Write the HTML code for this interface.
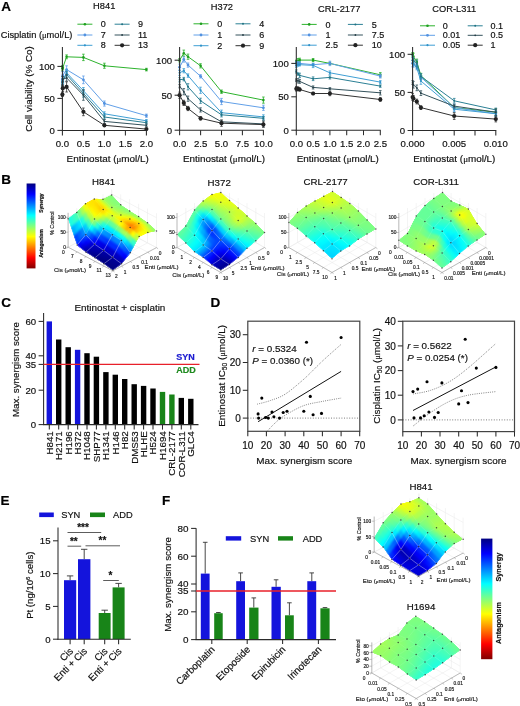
<!DOCTYPE html>
<html lang="en"><head><meta charset="utf-8"><title>Entinostat + cisplatin synergy figure</title>
<style>
html,body{margin:0;padding:0;background:#fff}
body{width:520px;height:706px;overflow:hidden}
svg{display:block;font-family:'Liberation Sans', sans-serif}
text{stroke:#111;stroke-width:.18px}
</style></head><body>
<svg width="520" height="706" viewBox="0 0 520 706" fill="#111">
<rect width="520" height="706" fill="#fff"/>
<defs><filter id="sm" x="-5%" y="-5%" width="110%" height="110%" color-interpolation-filters="sRGB"><feGaussianBlur stdDeviation="0.9"/><feComponentTransfer><feFuncA type="linear" slope="6" intercept="-2.5"/></feComponentTransfer></filter></defs>
<text x="104.2" y="8.7" text-anchor="middle" font-size="9.3">H841</text>
<line x1="77.4" y1="24.2" x2="92.4" y2="24.2" stroke="#2db32d" stroke-width="1.0"/>
<circle cx="84.9" cy="24.2" r="1.3" fill="#1f9f1f"/>
<text x="100.8" y="27.3" font-size="9">0</text>
<line x1="77.4" y1="35" x2="92.4" y2="35" stroke="#62a0e8" stroke-width="1.0"/>
<circle cx="84.9" cy="35" r="1.4" fill="#5292e0"/>
<text x="100.8" y="38.1" font-size="9">7</text>
<line x1="77.4" y1="45.3" x2="92.4" y2="45.3" stroke="#3f9fd4" stroke-width="1.0"/>
<circle cx="84.9" cy="45.3" r="1.1" fill="#3092c8"/>
<text x="100.8" y="48.4" font-size="9">8</text>
<line x1="114.6" y1="24.2" x2="129.6" y2="24.2" stroke="#2b8095" stroke-width="1.0"/>
<circle cx="122.1" cy="24.2" r="1.0" fill="#227282"/>
<text x="138" y="27.3" font-size="9">9</text>
<line x1="114.6" y1="35" x2="129.6" y2="35" stroke="#34525c" stroke-width="1.0"/>
<circle cx="122.1" cy="35" r="0.9" fill="#263e46"/>
<text x="138" y="38.1" font-size="9">11</text>
<line x1="114.6" y1="45.3" x2="129.6" y2="45.3" stroke="#333333" stroke-width="1.0"/>
<circle cx="122.1" cy="45.3" r="2.1" fill="#222222"/>
<text x="138" y="48.4" font-size="9">13</text>
<path d="M62.4 65.8V70.9M61.1 65.8h2.6M61.1 70.9h2.6" stroke="#2db32d" stroke-width="0.8" fill="none"/>
<path d="M62.8 65.8V69.6M61.5 65.8h2.6M61.5 69.6h2.6" stroke="#2db32d" stroke-width="0.8" fill="none"/>
<path d="M66.6 54.9V58.7M65.3 54.9h2.6M65.3 58.7h2.6" stroke="#2db32d" stroke-width="0.8" fill="none"/>
<path d="M83.4 54.2V60.6M82.1 54.2h2.6M82.1 60.6h2.6" stroke="#2db32d" stroke-width="0.8" fill="none"/>
<path d="M104.4 63.2V68.3M103.1 63.2h2.6M103.1 68.3h2.6" stroke="#2db32d" stroke-width="0.8" fill="none"/>
<path d="M146.4 68.3V70.9M145.1 68.3h2.6M145.1 70.9h2.6" stroke="#2db32d" stroke-width="0.8" fill="none"/>
<polyline points="62.4,68.3 62.8,67.7 66.6,56.8 83.4,57.4 104.4,65.8 146.4,69.6" fill="none" stroke="#2db32d" stroke-width="1.0"/>
<circle cx="62.4" cy="68.3" r="1.3" fill="#1f9f1f"/>
<circle cx="62.8" cy="67.7" r="1.3" fill="#1f9f1f"/>
<circle cx="66.6" cy="56.8" r="1.3" fill="#1f9f1f"/>
<circle cx="83.4" cy="57.4" r="1.3" fill="#1f9f1f"/>
<circle cx="104.4" cy="65.8" r="1.3" fill="#1f9f1f"/>
<circle cx="146.4" cy="69.6" r="1.3" fill="#1f9f1f"/>
<path d="M62.4 76.6V81.8M61.1 76.6h2.6M61.1 81.8h2.6" stroke="#62a0e8" stroke-width="0.8" fill="none"/>
<path d="M62.8 71.5V79.2M61.5 71.5h2.6M61.5 79.2h2.6" stroke="#62a0e8" stroke-width="0.8" fill="none"/>
<path d="M66.6 65.8V73.4M65.3 65.8h2.6M65.3 73.4h2.6" stroke="#62a0e8" stroke-width="0.8" fill="none"/>
<path d="M83.4 76V83.7M82.1 76h2.6M82.1 83.7h2.6" stroke="#62a0e8" stroke-width="0.8" fill="none"/>
<path d="M104.4 101V106.1M103.1 101h2.6M103.1 106.1h2.6" stroke="#62a0e8" stroke-width="0.8" fill="none"/>
<path d="M146.4 114.1V117.3M145.1 114.1h2.6M145.1 117.3h2.6" stroke="#62a0e8" stroke-width="0.8" fill="none"/>
<polyline points="62.4,79.2 62.8,75.4 66.6,69.6 83.4,79.8 104.4,103.5 146.4,115.7" fill="none" stroke="#62a0e8" stroke-width="1.0"/>
<circle cx="62.4" cy="79.2" r="1.4" fill="#5292e0"/>
<circle cx="62.8" cy="75.4" r="1.4" fill="#5292e0"/>
<circle cx="66.6" cy="69.6" r="1.4" fill="#5292e0"/>
<circle cx="83.4" cy="79.8" r="1.4" fill="#5292e0"/>
<circle cx="104.4" cy="103.5" r="1.4" fill="#5292e0"/>
<circle cx="146.4" cy="115.7" r="1.4" fill="#5292e0"/>
<path d="M62.4 80.5V84.3M61.1 80.5h2.6M61.1 84.3h2.6" stroke="#3f9fd4" stroke-width="0.8" fill="none"/>
<path d="M62.8 78.6V83.7M61.5 78.6h2.6M61.5 83.7h2.6" stroke="#3f9fd4" stroke-width="0.8" fill="none"/>
<path d="M66.6 70.2V75.4M65.3 70.2h2.6M65.3 75.4h2.6" stroke="#3f9fd4" stroke-width="0.8" fill="none"/>
<path d="M83.4 87.5V93.9M82.1 87.5h2.6M82.1 93.9h2.6" stroke="#3f9fd4" stroke-width="0.8" fill="none"/>
<path d="M104.4 111.8V115.7M103.1 111.8h2.6M103.1 115.7h2.6" stroke="#3f9fd4" stroke-width="0.8" fill="none"/>
<path d="M146.4 119.5V122.1M145.1 119.5h2.6M145.1 122.1h2.6" stroke="#3f9fd4" stroke-width="0.8" fill="none"/>
<polyline points="62.4,82.4 62.8,81.1 66.6,72.8 83.4,90.7 104.4,113.8 146.4,120.8" fill="none" stroke="#3f9fd4" stroke-width="1.0"/>
<circle cx="62.4" cy="82.4" r="1.1" fill="#3092c8"/>
<circle cx="62.8" cy="81.1" r="1.1" fill="#3092c8"/>
<circle cx="66.6" cy="72.8" r="1.1" fill="#3092c8"/>
<circle cx="83.4" cy="90.7" r="1.1" fill="#3092c8"/>
<circle cx="104.4" cy="113.8" r="1.1" fill="#3092c8"/>
<circle cx="146.4" cy="120.8" r="1.1" fill="#3092c8"/>
<path d="M62.4 82.4V86.2M61.1 82.4h2.6M61.1 86.2h2.6" stroke="#2b8095" stroke-width="0.8" fill="none"/>
<path d="M62.8 76.6V81.8M61.5 76.6h2.6M61.5 81.8h2.6" stroke="#2b8095" stroke-width="0.8" fill="none"/>
<path d="M66.6 71.5V77.9M65.3 71.5h2.6M65.3 77.9h2.6" stroke="#2b8095" stroke-width="0.8" fill="none"/>
<path d="M83.4 89.4V97.1M82.1 89.4h2.6M82.1 97.1h2.6" stroke="#2b8095" stroke-width="0.8" fill="none"/>
<path d="M104.4 115V118.9M103.1 115h2.6M103.1 118.9h2.6" stroke="#2b8095" stroke-width="0.8" fill="none"/>
<path d="M146.4 121.4V124M145.1 121.4h2.6M145.1 124h2.6" stroke="#2b8095" stroke-width="0.8" fill="none"/>
<polyline points="62.4,84.3 62.8,79.2 66.6,74.7 83.4,93.3 104.4,117 146.4,122.7" fill="none" stroke="#2b8095" stroke-width="1.0"/>
<circle cx="62.4" cy="84.3" r="1.0" fill="#227282"/>
<circle cx="62.8" cy="79.2" r="1.0" fill="#227282"/>
<circle cx="66.6" cy="74.7" r="1.0" fill="#227282"/>
<circle cx="83.4" cy="93.3" r="1.0" fill="#227282"/>
<circle cx="104.4" cy="117" r="1.0" fill="#227282"/>
<circle cx="146.4" cy="122.7" r="1.0" fill="#227282"/>
<path d="M62.4 85.6V89.4M61.1 85.6h2.6M61.1 89.4h2.6" stroke="#34525c" stroke-width="0.8" fill="none"/>
<path d="M62.8 76.6V81.8M61.5 76.6h2.6M61.5 81.8h2.6" stroke="#34525c" stroke-width="0.8" fill="none"/>
<path d="M66.6 74.7V81.1M65.3 74.7h2.6M65.3 81.1h2.6" stroke="#34525c" stroke-width="0.8" fill="none"/>
<path d="M83.4 90.1V100.3M82.1 90.1h2.6M82.1 100.3h2.6" stroke="#34525c" stroke-width="0.8" fill="none"/>
<path d="M104.4 119.5V123.4M103.1 119.5h2.6M103.1 123.4h2.6" stroke="#34525c" stroke-width="0.8" fill="none"/>
<path d="M146.4 124V126.6M145.1 124h2.6M145.1 126.6h2.6" stroke="#34525c" stroke-width="0.8" fill="none"/>
<polyline points="62.4,87.5 62.8,79.2 66.6,77.9 83.4,95.2 104.4,121.4 146.4,125.3" fill="none" stroke="#34525c" stroke-width="1.0"/>
<circle cx="62.4" cy="87.5" r="0.9" fill="#263e46"/>
<circle cx="62.8" cy="79.2" r="0.9" fill="#263e46"/>
<circle cx="66.6" cy="77.9" r="0.9" fill="#263e46"/>
<circle cx="83.4" cy="95.2" r="0.9" fill="#263e46"/>
<circle cx="104.4" cy="121.4" r="0.9" fill="#263e46"/>
<circle cx="146.4" cy="125.3" r="0.9" fill="#263e46"/>
<path d="M62.4 92.6V96.5M61.1 92.6h2.6M61.1 96.5h2.6" stroke="#333333" stroke-width="0.8" fill="none"/>
<path d="M62.8 85V91.4M61.5 85h2.6M61.5 91.4h2.6" stroke="#333333" stroke-width="0.8" fill="none"/>
<path d="M66.6 81.8V92M65.3 81.8h2.6M65.3 92h2.6" stroke="#333333" stroke-width="0.8" fill="none"/>
<path d="M83.4 108V115.7M82.1 108h2.6M82.1 115.7h2.6" stroke="#333333" stroke-width="0.8" fill="none"/>
<path d="M104.4 124V126.6M103.1 124h2.6M103.1 126.6h2.6" stroke="#333333" stroke-width="0.8" fill="none"/>
<path d="M146.4 128.5V129.8M145.1 128.5h2.6M145.1 129.8h2.6" stroke="#333333" stroke-width="0.8" fill="none"/>
<polyline points="62.4,94.6 62.8,88.2 66.6,86.9 83.4,111.8 104.4,125.3 146.4,129.1" fill="none" stroke="#333333" stroke-width="1.0"/>
<circle cx="62.4" cy="94.6" r="2.1" fill="#222222"/>
<circle cx="62.8" cy="88.2" r="2.1" fill="#222222"/>
<circle cx="66.6" cy="86.9" r="2.1" fill="#222222"/>
<circle cx="83.4" cy="111.8" r="2.1" fill="#222222"/>
<circle cx="104.4" cy="125.3" r="2.1" fill="#222222"/>
<circle cx="146.4" cy="129.1" r="2.1" fill="#222222"/>
<line x1="62.4" y1="47" x2="62.4" y2="130.9" stroke="#2a2a2a" stroke-width="1.05"/>
<line x1="61.9" y1="130.4" x2="146.9" y2="130.4" stroke="#2a2a2a" stroke-width="1.05"/>
<line x1="57.4" y1="130.4" x2="62.4" y2="130.4" stroke="#2a2a2a" stroke-width="1.05"/>
<text x="54.9" y="133.8" text-anchor="end" font-size="9.6">0</text>
<line x1="57.4" y1="98.4" x2="62.4" y2="98.4" stroke="#2a2a2a" stroke-width="1.05"/>
<text x="54.9" y="101.8" text-anchor="end" font-size="9.6">50</text>
<line x1="57.4" y1="66.4" x2="62.4" y2="66.4" stroke="#2a2a2a" stroke-width="1.05"/>
<text x="54.9" y="69.8" text-anchor="end" font-size="9.6">100</text>
<line x1="62.4" y1="130.4" x2="62.4" y2="135.4" stroke="#2a2a2a" stroke-width="1.05"/>
<text x="62.4" y="147" text-anchor="middle" font-size="9.6">0.0</text>
<line x1="83.4" y1="130.4" x2="83.4" y2="135.4" stroke="#2a2a2a" stroke-width="1.05"/>
<text x="83.4" y="147" text-anchor="middle" font-size="9.6">0.5</text>
<line x1="104.4" y1="130.4" x2="104.4" y2="135.4" stroke="#2a2a2a" stroke-width="1.05"/>
<text x="104.4" y="147" text-anchor="middle" font-size="9.6">1.0</text>
<line x1="125.4" y1="130.4" x2="125.4" y2="135.4" stroke="#2a2a2a" stroke-width="1.05"/>
<text x="125.4" y="147" text-anchor="middle" font-size="9.6">1.5</text>
<line x1="146.4" y1="130.4" x2="146.4" y2="135.4" stroke="#2a2a2a" stroke-width="1.05"/>
<text x="146.4" y="147" text-anchor="middle" font-size="9.6">2.0</text>
<text x="107.7" y="162" text-anchor="middle" font-size="9.9">Entinostat (<tspan font-size="9" font-family="Liberation Serif, serif">μ</tspan>mol/L)</text>
<text x="221.9" y="9.5" text-anchor="middle" font-size="9.3">H372</text>
<line x1="193.5" y1="23.8" x2="208.5" y2="23.8" stroke="#2db32d" stroke-width="1.0"/>
<circle cx="201" cy="23.8" r="1.3" fill="#1f9f1f"/>
<text x="217.3" y="26.9" font-size="9">0</text>
<line x1="193.5" y1="35" x2="208.5" y2="35" stroke="#62a0e8" stroke-width="1.0"/>
<circle cx="201" cy="35" r="1.4" fill="#5292e0"/>
<text x="217.3" y="38.1" font-size="9">1</text>
<line x1="193.5" y1="45.7" x2="208.5" y2="45.7" stroke="#3f9fd4" stroke-width="1.0"/>
<circle cx="201" cy="45.7" r="1.1" fill="#3092c8"/>
<text x="217.3" y="48.8" font-size="9">2</text>
<line x1="235.5" y1="23.8" x2="250.5" y2="23.8" stroke="#2b8095" stroke-width="1.0"/>
<circle cx="243" cy="23.8" r="1.0" fill="#227282"/>
<text x="259.3" y="26.9" font-size="9">4</text>
<line x1="235.5" y1="35" x2="250.5" y2="35" stroke="#34525c" stroke-width="1.0"/>
<circle cx="243" cy="35" r="0.9" fill="#263e46"/>
<text x="259.3" y="38.1" font-size="9">6</text>
<line x1="235.5" y1="45.7" x2="250.5" y2="45.7" stroke="#333333" stroke-width="1.0"/>
<circle cx="243" cy="45.7" r="2.1" fill="#222222"/>
<text x="259.3" y="48.8" font-size="9">9</text>
<path d="M179.6 58.5V61.9M178.3 58.5h2.6M178.3 61.9h2.6" stroke="#2db32d" stroke-width="0.8" fill="none"/>
<path d="M183.8 50.1V56.3M182.5 50.1h2.6M182.5 56.3h2.6" stroke="#2db32d" stroke-width="0.8" fill="none"/>
<path d="M188 54.1V59.3M186.7 54.1h2.6M186.7 59.3h2.6" stroke="#2db32d" stroke-width="0.8" fill="none"/>
<path d="M200.6 63.7V67.9M199.2 63.7h2.6M199.2 67.9h2.6" stroke="#2db32d" stroke-width="0.8" fill="none"/>
<path d="M221.5 90V93.4M220.2 90h2.6M220.2 93.4h2.6" stroke="#2db32d" stroke-width="0.8" fill="none"/>
<path d="M263.4 97V103.2M262.1 97h2.6M262.1 103.2h2.6" stroke="#2db32d" stroke-width="0.8" fill="none"/>
<polyline points="179.6,60.2 183.8,53.2 188,56.7 200.6,65.8 221.5,91.7 263.4,100.1" fill="none" stroke="#2db32d" stroke-width="1.0"/>
<circle cx="179.6" cy="60.2" r="1.3" fill="#1f9f1f"/>
<circle cx="183.8" cy="53.2" r="1.3" fill="#1f9f1f"/>
<circle cx="188" cy="56.7" r="1.3" fill="#1f9f1f"/>
<circle cx="200.6" cy="65.8" r="1.3" fill="#1f9f1f"/>
<circle cx="221.5" cy="91.7" r="1.3" fill="#1f9f1f"/>
<circle cx="263.4" cy="100.1" r="1.3" fill="#1f9f1f"/>
<path d="M179.6 64.1V70.3M178.3 64.1h2.6M178.3 70.3h2.6" stroke="#62a0e8" stroke-width="0.8" fill="none"/>
<path d="M183.8 56.9V62.1M182.5 56.9h2.6M182.5 62.1h2.6" stroke="#62a0e8" stroke-width="0.8" fill="none"/>
<path d="M188 63V67.2M186.7 63h2.6M186.7 67.2h2.6" stroke="#62a0e8" stroke-width="0.8" fill="none"/>
<path d="M200.6 74.6V78M199.2 74.6h2.6M199.2 78h2.6" stroke="#62a0e8" stroke-width="0.8" fill="none"/>
<path d="M221.5 98.4V104.6M220.2 98.4h2.6M220.2 104.6h2.6" stroke="#62a0e8" stroke-width="0.8" fill="none"/>
<path d="M263.4 105.2V110.4M262.1 105.2h2.6M262.1 110.4h2.6" stroke="#62a0e8" stroke-width="0.8" fill="none"/>
<polyline points="179.6,67.2 183.8,59.5 188,65.1 200.6,76.3 221.5,101.5 263.4,107.8" fill="none" stroke="#62a0e8" stroke-width="1.0"/>
<circle cx="179.6" cy="67.2" r="1.4" fill="#5292e0"/>
<circle cx="183.8" cy="59.5" r="1.4" fill="#5292e0"/>
<circle cx="188" cy="65.1" r="1.4" fill="#5292e0"/>
<circle cx="200.6" cy="76.3" r="1.4" fill="#5292e0"/>
<circle cx="221.5" cy="101.5" r="1.4" fill="#5292e0"/>
<circle cx="263.4" cy="107.8" r="1.4" fill="#5292e0"/>
<path d="M179.6 70.2V75.4M178.3 70.2h2.6M178.3 75.4h2.6" stroke="#3f9fd4" stroke-width="0.8" fill="none"/>
<path d="M183.8 68.6V72.8M182.5 68.6h2.6M182.5 72.8h2.6" stroke="#3f9fd4" stroke-width="0.8" fill="none"/>
<path d="M188 73.9V77.3M186.7 73.9h2.6M186.7 77.3h2.6" stroke="#3f9fd4" stroke-width="0.8" fill="none"/>
<path d="M200.6 87.2V93.4M199.2 87.2h2.6M199.2 93.4h2.6" stroke="#3f9fd4" stroke-width="0.8" fill="none"/>
<path d="M221.5 110.1V115.3M220.2 110.1h2.6M220.2 115.3h2.6" stroke="#3f9fd4" stroke-width="0.8" fill="none"/>
<path d="M263.4 114.8V119M262.1 114.8h2.6M262.1 119h2.6" stroke="#3f9fd4" stroke-width="0.8" fill="none"/>
<polyline points="179.6,72.8 183.8,70.7 188,75.6 200.6,90.3 221.5,112.7 263.4,116.9" fill="none" stroke="#3f9fd4" stroke-width="1.0"/>
<circle cx="179.6" cy="72.8" r="1.1" fill="#3092c8"/>
<circle cx="183.8" cy="70.7" r="1.1" fill="#3092c8"/>
<circle cx="188" cy="75.6" r="1.1" fill="#3092c8"/>
<circle cx="200.6" cy="90.3" r="1.1" fill="#3092c8"/>
<circle cx="221.5" cy="112.7" r="1.1" fill="#3092c8"/>
<circle cx="263.4" cy="116.9" r="1.1" fill="#3092c8"/>
<path d="M179.6 77.7V81.9M178.3 77.7h2.6M178.3 81.9h2.6" stroke="#2b8095" stroke-width="0.8" fill="none"/>
<path d="M183.8 77.4V80.8M182.5 77.4h2.6M182.5 80.8h2.6" stroke="#2b8095" stroke-width="0.8" fill="none"/>
<path d="M188 83.7V89.9M186.7 83.7h2.6M186.7 89.9h2.6" stroke="#2b8095" stroke-width="0.8" fill="none"/>
<path d="M200.6 98.2V103.4M199.2 98.2h2.6M199.2 103.4h2.6" stroke="#2b8095" stroke-width="0.8" fill="none"/>
<path d="M221.5 112.7V116.9M220.2 112.7h2.6M220.2 116.9h2.6" stroke="#2b8095" stroke-width="0.8" fill="none"/>
<path d="M263.4 116.6V120M262.1 116.6h2.6M262.1 120h2.6" stroke="#2b8095" stroke-width="0.8" fill="none"/>
<polyline points="179.6,79.8 183.8,79.1 188,86.8 200.6,100.8 221.5,114.8 263.4,118.3" fill="none" stroke="#2b8095" stroke-width="1.0"/>
<circle cx="179.6" cy="79.8" r="1.0" fill="#227282"/>
<circle cx="183.8" cy="79.1" r="1.0" fill="#227282"/>
<circle cx="188" cy="86.8" r="1.0" fill="#227282"/>
<circle cx="200.6" cy="100.8" r="1.0" fill="#227282"/>
<circle cx="221.5" cy="114.8" r="1.0" fill="#227282"/>
<circle cx="263.4" cy="118.3" r="1.0" fill="#227282"/>
<path d="M179.6 84.4V87.8M178.3 84.4h2.6M178.3 87.8h2.6" stroke="#34525c" stroke-width="0.8" fill="none"/>
<path d="M183.8 88.6V94.8M182.5 88.6h2.6M182.5 94.8h2.6" stroke="#34525c" stroke-width="0.8" fill="none"/>
<path d="M188 96.1V101.3M186.7 96.1h2.6M186.7 101.3h2.6" stroke="#34525c" stroke-width="0.8" fill="none"/>
<path d="M200.6 107.8V112M199.2 107.8h2.6M199.2 112h2.6" stroke="#34525c" stroke-width="0.8" fill="none"/>
<path d="M221.5 120.1V123.5M220.2 120.1h2.6M220.2 123.5h2.6" stroke="#34525c" stroke-width="0.8" fill="none"/>
<path d="M263.4 120.8V127M262.1 120.8h2.6M262.1 127h2.6" stroke="#34525c" stroke-width="0.8" fill="none"/>
<polyline points="179.6,86.1 183.8,91.7 188,98.7 200.6,109.9 221.5,121.8 263.4,123.9" fill="none" stroke="#34525c" stroke-width="1.0"/>
<circle cx="179.6" cy="86.1" r="0.9" fill="#263e46"/>
<circle cx="183.8" cy="91.7" r="0.9" fill="#263e46"/>
<circle cx="188" cy="98.7" r="0.9" fill="#263e46"/>
<circle cx="200.6" cy="109.9" r="0.9" fill="#263e46"/>
<circle cx="221.5" cy="121.8" r="0.9" fill="#263e46"/>
<circle cx="263.4" cy="123.9" r="0.9" fill="#263e46"/>
<path d="M179.6 92.1V98.3M178.3 92.1h2.6M178.3 98.3h2.6" stroke="#333333" stroke-width="0.8" fill="none"/>
<path d="M183.8 100.3V105.5M182.5 100.3h2.6M182.5 105.5h2.6" stroke="#333333" stroke-width="0.8" fill="none"/>
<path d="M188 106.4V110.6M186.7 106.4h2.6M186.7 110.6h2.6" stroke="#333333" stroke-width="0.8" fill="none"/>
<path d="M200.6 116.6V120M199.2 116.6h2.6M199.2 120h2.6" stroke="#333333" stroke-width="0.8" fill="none"/>
<path d="M221.5 120.1V126.3M220.2 120.1h2.6M220.2 126.3h2.6" stroke="#333333" stroke-width="0.8" fill="none"/>
<path d="M263.4 122V127.2M262.1 122h2.6M262.1 127.2h2.6" stroke="#333333" stroke-width="0.8" fill="none"/>
<polyline points="179.6,95.2 183.8,102.9 188,108.5 200.6,118.3 221.5,123.2 263.4,124.6" fill="none" stroke="#333333" stroke-width="1.0"/>
<circle cx="179.6" cy="95.2" r="2.1" fill="#222222"/>
<circle cx="183.8" cy="102.9" r="2.1" fill="#222222"/>
<circle cx="188" cy="108.5" r="2.1" fill="#222222"/>
<circle cx="200.6" cy="118.3" r="2.1" fill="#222222"/>
<circle cx="221.5" cy="123.2" r="2.1" fill="#222222"/>
<circle cx="263.4" cy="124.6" r="2.1" fill="#222222"/>
<line x1="179.6" y1="47" x2="179.6" y2="130.7" stroke="#2a2a2a" stroke-width="1.05"/>
<line x1="179.1" y1="130.2" x2="263.9" y2="130.2" stroke="#2a2a2a" stroke-width="1.05"/>
<line x1="174.6" y1="130.2" x2="179.6" y2="130.2" stroke="#2a2a2a" stroke-width="1.05"/>
<text x="172.1" y="133.6" text-anchor="end" font-size="9.6">0</text>
<line x1="174.6" y1="95.2" x2="179.6" y2="95.2" stroke="#2a2a2a" stroke-width="1.05"/>
<text x="172.1" y="98.6" text-anchor="end" font-size="9.6">50</text>
<line x1="174.6" y1="60.2" x2="179.6" y2="60.2" stroke="#2a2a2a" stroke-width="1.05"/>
<text x="172.1" y="63.6" text-anchor="end" font-size="9.6">100</text>
<line x1="179.6" y1="130.2" x2="179.6" y2="135.2" stroke="#2a2a2a" stroke-width="1.05"/>
<text x="179.6" y="146.8" text-anchor="middle" font-size="9.6">0.0</text>
<line x1="200.6" y1="130.2" x2="200.6" y2="135.2" stroke="#2a2a2a" stroke-width="1.05"/>
<text x="200.6" y="146.8" text-anchor="middle" font-size="9.6">2.5</text>
<line x1="221.5" y1="130.2" x2="221.5" y2="135.2" stroke="#2a2a2a" stroke-width="1.05"/>
<text x="221.5" y="146.8" text-anchor="middle" font-size="9.6">5.0</text>
<line x1="242.4" y1="130.2" x2="242.4" y2="135.2" stroke="#2a2a2a" stroke-width="1.05"/>
<text x="242.4" y="146.8" text-anchor="middle" font-size="9.6">7.5</text>
<line x1="263.4" y1="130.2" x2="263.4" y2="135.2" stroke="#2a2a2a" stroke-width="1.05"/>
<text x="263.4" y="146.8" text-anchor="middle" font-size="9.6">10.0</text>
<text x="224" y="162" text-anchor="middle" font-size="9.9">Entinostat (<tspan font-size="9" font-family="Liberation Serif, serif">μ</tspan>mol/L)</text>
<text x="339.2" y="11.5" text-anchor="middle" font-size="9.3">CRL-2177</text>
<line x1="301.7" y1="24.4" x2="316.7" y2="24.4" stroke="#2db32d" stroke-width="1.0"/>
<circle cx="309.2" cy="24.4" r="1.3" fill="#1f9f1f"/>
<text x="325.5" y="27.5" font-size="9">0</text>
<line x1="301.7" y1="35" x2="316.7" y2="35" stroke="#62a0e8" stroke-width="1.0"/>
<circle cx="309.2" cy="35" r="1.4" fill="#5292e0"/>
<text x="325.5" y="38.1" font-size="9">1</text>
<line x1="301.7" y1="45.2" x2="316.7" y2="45.2" stroke="#3f9fd4" stroke-width="1.0"/>
<circle cx="309.2" cy="45.2" r="1.1" fill="#3092c8"/>
<text x="325.5" y="48.3" font-size="9">2.5</text>
<line x1="347.9" y1="24.4" x2="362.9" y2="24.4" stroke="#2b8095" stroke-width="1.0"/>
<circle cx="355.4" cy="24.4" r="1.0" fill="#227282"/>
<text x="371.7" y="27.5" font-size="9">5</text>
<line x1="347.9" y1="35" x2="362.9" y2="35" stroke="#34525c" stroke-width="1.0"/>
<circle cx="355.4" cy="35" r="0.9" fill="#263e46"/>
<text x="371.7" y="38.1" font-size="9">7.5</text>
<line x1="347.9" y1="45.2" x2="362.9" y2="45.2" stroke="#333333" stroke-width="1.0"/>
<circle cx="355.4" cy="45.2" r="2.1" fill="#222222"/>
<text x="371.7" y="48.3" font-size="9">10</text>
<path d="M296.3 60.2V62.6M295 60.2h2.6M295 62.6h2.6" stroke="#2db32d" stroke-width="0.8" fill="none"/>
<path d="M298 58.5V62.9M296.7 58.5h2.6M296.7 62.9h2.6" stroke="#2db32d" stroke-width="0.8" fill="none"/>
<path d="M299.7 58.2V61.9M298.4 58.2h2.6M298.4 61.9h2.6" stroke="#2db32d" stroke-width="0.8" fill="none"/>
<path d="M313.1 58.5V61.6M311.8 58.5h2.6M311.8 61.6h2.6" stroke="#2db32d" stroke-width="0.8" fill="none"/>
<path d="M329.9 62.2V64.6M328.6 62.2h2.6M328.6 64.6h2.6" stroke="#2db32d" stroke-width="0.8" fill="none"/>
<path d="M380.3 72.6V77M379 72.6h2.6M379 77h2.6" stroke="#2db32d" stroke-width="0.8" fill="none"/>
<polyline points="296.3,61.4 298,60.7 299.7,60.1 313.1,60.1 329.9,63.4 380.3,74.8" fill="none" stroke="#2db32d" stroke-width="1.0"/>
<circle cx="296.3" cy="61.4" r="1.3" fill="#1f9f1f"/>
<circle cx="298" cy="60.7" r="1.3" fill="#1f9f1f"/>
<circle cx="299.7" cy="60.1" r="1.3" fill="#1f9f1f"/>
<circle cx="313.1" cy="60.1" r="1.3" fill="#1f9f1f"/>
<circle cx="329.9" cy="63.4" r="1.3" fill="#1f9f1f"/>
<circle cx="380.3" cy="74.8" r="1.3" fill="#1f9f1f"/>
<path d="M296.3 61.2V65.6M295 61.2h2.6M295 65.6h2.6" stroke="#62a0e8" stroke-width="0.8" fill="none"/>
<path d="M298 61.5V65.3M296.7 61.5h2.6M296.7 65.3h2.6" stroke="#62a0e8" stroke-width="0.8" fill="none"/>
<path d="M299.7 61.9V64.9M298.4 61.9h2.6M298.4 64.9h2.6" stroke="#62a0e8" stroke-width="0.8" fill="none"/>
<path d="M313.1 63.5V65.9M311.8 63.5h2.6M311.8 65.9h2.6" stroke="#62a0e8" stroke-width="0.8" fill="none"/>
<path d="M329.9 61.2V65.6M328.6 61.2h2.6M328.6 65.6h2.6" stroke="#62a0e8" stroke-width="0.8" fill="none"/>
<path d="M380.3 74.2V78M379 74.2h2.6M379 78h2.6" stroke="#62a0e8" stroke-width="0.8" fill="none"/>
<polyline points="296.3,63.4 298,63.4 299.7,63.4 313.1,64.7 329.9,63.4 380.3,76.1" fill="none" stroke="#62a0e8" stroke-width="1.0"/>
<circle cx="296.3" cy="63.4" r="1.4" fill="#5292e0"/>
<circle cx="298" cy="63.4" r="1.4" fill="#5292e0"/>
<circle cx="299.7" cy="63.4" r="1.4" fill="#5292e0"/>
<circle cx="313.1" cy="64.7" r="1.4" fill="#5292e0"/>
<circle cx="329.9" cy="63.4" r="1.4" fill="#5292e0"/>
<circle cx="380.3" cy="76.1" r="1.4" fill="#5292e0"/>
<path d="M296.3 63.5V67.3M295 63.5h2.6M295 67.3h2.6" stroke="#3f9fd4" stroke-width="0.8" fill="none"/>
<path d="M298 63.2V66.3M296.7 63.2h2.6M296.7 66.3h2.6" stroke="#3f9fd4" stroke-width="0.8" fill="none"/>
<path d="M299.7 63.5V65.9M298.4 63.5h2.6M298.4 65.9h2.6" stroke="#3f9fd4" stroke-width="0.8" fill="none"/>
<path d="M313.1 63.2V67.6M311.8 63.2h2.6M311.8 67.6h2.6" stroke="#3f9fd4" stroke-width="0.8" fill="none"/>
<path d="M329.9 70.9V74.6M328.6 70.9h2.6M328.6 74.6h2.6" stroke="#3f9fd4" stroke-width="0.8" fill="none"/>
<path d="M380.3 80.6V83.6M379 80.6h2.6M379 83.6h2.6" stroke="#3f9fd4" stroke-width="0.8" fill="none"/>
<polyline points="296.3,65.4 298,64.7 299.7,64.7 313.1,65.4 329.9,72.8 380.3,82.1" fill="none" stroke="#3f9fd4" stroke-width="1.0"/>
<circle cx="296.3" cy="65.4" r="1.1" fill="#3092c8"/>
<circle cx="298" cy="64.7" r="1.1" fill="#3092c8"/>
<circle cx="299.7" cy="64.7" r="1.1" fill="#3092c8"/>
<circle cx="313.1" cy="65.4" r="1.1" fill="#3092c8"/>
<circle cx="329.9" cy="72.8" r="1.1" fill="#3092c8"/>
<circle cx="380.3" cy="82.1" r="1.1" fill="#3092c8"/>
<path d="M296.3 69.9V73M295 69.9h2.6M295 73h2.6" stroke="#2b8095" stroke-width="0.8" fill="none"/>
<path d="M298 72.9V75.3M296.7 72.9h2.6M296.7 75.3h2.6" stroke="#2b8095" stroke-width="0.8" fill="none"/>
<path d="M299.7 73.2V77.6M298.4 73.2h2.6M298.4 77.6h2.6" stroke="#2b8095" stroke-width="0.8" fill="none"/>
<path d="M313.1 76.9V80.6M311.8 76.9h2.6M311.8 80.6h2.6" stroke="#2b8095" stroke-width="0.8" fill="none"/>
<path d="M329.9 75.9V79M328.6 75.9h2.6M328.6 79h2.6" stroke="#2b8095" stroke-width="0.8" fill="none"/>
<path d="M380.3 84.9V87.3M379 84.9h2.6M379 87.3h2.6" stroke="#2b8095" stroke-width="0.8" fill="none"/>
<polyline points="296.3,71.4 298,74.1 299.7,75.4 313.1,78.8 329.9,77.4 380.3,86.1" fill="none" stroke="#2b8095" stroke-width="1.0"/>
<circle cx="296.3" cy="71.4" r="1.0" fill="#227282"/>
<circle cx="298" cy="74.1" r="1.0" fill="#227282"/>
<circle cx="299.7" cy="75.4" r="1.0" fill="#227282"/>
<circle cx="313.1" cy="78.8" r="1.0" fill="#227282"/>
<circle cx="329.9" cy="77.4" r="1.0" fill="#227282"/>
<circle cx="380.3" cy="86.1" r="1.0" fill="#227282"/>
<path d="M296.3 78.9V81.3M295 78.9h2.6M295 81.3h2.6" stroke="#34525c" stroke-width="0.8" fill="none"/>
<path d="M298 78.6V83M296.7 78.6h2.6M296.7 83h2.6" stroke="#34525c" stroke-width="0.8" fill="none"/>
<path d="M299.7 79.6V83.3M298.4 79.6h2.6M298.4 83.3h2.6" stroke="#34525c" stroke-width="0.8" fill="none"/>
<path d="M313.1 85.9V89M311.8 85.9h2.6M311.8 89h2.6" stroke="#34525c" stroke-width="0.8" fill="none"/>
<path d="M329.9 87.6V90M328.6 87.6h2.6M328.6 90h2.6" stroke="#34525c" stroke-width="0.8" fill="none"/>
<path d="M380.3 90.6V95M379 90.6h2.6M379 95h2.6" stroke="#34525c" stroke-width="0.8" fill="none"/>
<polyline points="296.3,80.1 298,80.8 299.7,81.4 313.1,87.4 329.9,88.8 380.3,92.8" fill="none" stroke="#34525c" stroke-width="1.0"/>
<circle cx="296.3" cy="80.1" r="0.9" fill="#263e46"/>
<circle cx="298" cy="80.8" r="0.9" fill="#263e46"/>
<circle cx="299.7" cy="81.4" r="0.9" fill="#263e46"/>
<circle cx="313.1" cy="87.4" r="0.9" fill="#263e46"/>
<circle cx="329.9" cy="88.8" r="0.9" fill="#263e46"/>
<circle cx="380.3" cy="92.8" r="0.9" fill="#263e46"/>
<path d="M296.3 86.6V91M295 86.6h2.6M295 91h2.6" stroke="#333333" stroke-width="0.8" fill="none"/>
<path d="M298 86.9V90.7M296.7 86.9h2.6M296.7 90.7h2.6" stroke="#333333" stroke-width="0.8" fill="none"/>
<path d="M299.7 87.9V91M298.4 87.9h2.6M298.4 91h2.6" stroke="#333333" stroke-width="0.8" fill="none"/>
<path d="M313.1 92.3V94.7M311.8 92.3h2.6M311.8 94.7h2.6" stroke="#333333" stroke-width="0.8" fill="none"/>
<path d="M329.9 91.3V95.7M328.6 91.3h2.6M328.6 95.7h2.6" stroke="#333333" stroke-width="0.8" fill="none"/>
<path d="M380.3 97.6V101.3M379 97.6h2.6M379 101.3h2.6" stroke="#333333" stroke-width="0.8" fill="none"/>
<polyline points="296.3,88.8 298,88.8 299.7,89.5 313.1,93.5 329.9,93.5 380.3,99.5" fill="none" stroke="#333333" stroke-width="1.0"/>
<circle cx="296.3" cy="88.8" r="2.1" fill="#222222"/>
<circle cx="298" cy="88.8" r="2.1" fill="#222222"/>
<circle cx="299.7" cy="89.5" r="2.1" fill="#222222"/>
<circle cx="313.1" cy="93.5" r="2.1" fill="#222222"/>
<circle cx="329.9" cy="93.5" r="2.1" fill="#222222"/>
<circle cx="380.3" cy="99.5" r="2.1" fill="#222222"/>
<line x1="296.3" y1="47" x2="296.3" y2="130.7" stroke="#2a2a2a" stroke-width="1.05"/>
<line x1="295.8" y1="130.2" x2="380.8" y2="130.2" stroke="#2a2a2a" stroke-width="1.05"/>
<line x1="291.3" y1="130.2" x2="296.3" y2="130.2" stroke="#2a2a2a" stroke-width="1.05"/>
<text x="288.8" y="133.6" text-anchor="end" font-size="9.6">0</text>
<line x1="291.3" y1="96.8" x2="296.3" y2="96.8" stroke="#2a2a2a" stroke-width="1.05"/>
<text x="288.8" y="100.2" text-anchor="end" font-size="9.6">50</text>
<line x1="291.3" y1="63.4" x2="296.3" y2="63.4" stroke="#2a2a2a" stroke-width="1.05"/>
<text x="288.8" y="66.8" text-anchor="end" font-size="9.6">100</text>
<line x1="296.3" y1="130.2" x2="296.3" y2="135.2" stroke="#2a2a2a" stroke-width="1.05"/>
<text x="296.3" y="146.8" text-anchor="middle" font-size="9.6">0.0</text>
<line x1="313.1" y1="130.2" x2="313.1" y2="135.2" stroke="#2a2a2a" stroke-width="1.05"/>
<text x="313.1" y="146.8" text-anchor="middle" font-size="9.6">0.5</text>
<line x1="329.9" y1="130.2" x2="329.9" y2="135.2" stroke="#2a2a2a" stroke-width="1.05"/>
<text x="329.9" y="146.8" text-anchor="middle" font-size="9.6">1.0</text>
<line x1="346.7" y1="130.2" x2="346.7" y2="135.2" stroke="#2a2a2a" stroke-width="1.05"/>
<text x="346.7" y="146.8" text-anchor="middle" font-size="9.6">1.5</text>
<line x1="363.5" y1="130.2" x2="363.5" y2="135.2" stroke="#2a2a2a" stroke-width="1.05"/>
<text x="363.5" y="146.8" text-anchor="middle" font-size="9.6">2.0</text>
<line x1="380.3" y1="130.2" x2="380.3" y2="135.2" stroke="#2a2a2a" stroke-width="1.05"/>
<text x="380.3" y="146.8" text-anchor="middle" font-size="9.6">2.5</text>
<text x="337.8" y="162" text-anchor="middle" font-size="9.9">Entinostat (<tspan font-size="9" font-family="Liberation Serif, serif">μ</tspan>mol/L)</text>
<text x="454.2" y="11.5" text-anchor="middle" font-size="9.3">COR-L311</text>
<line x1="420" y1="25.8" x2="435" y2="25.8" stroke="#2db32d" stroke-width="1.0"/>
<circle cx="427.5" cy="25.8" r="1.3" fill="#1f9f1f"/>
<text x="442.8" y="28.9" font-size="9">0</text>
<line x1="420" y1="35.3" x2="435" y2="35.3" stroke="#62a0e8" stroke-width="1.0"/>
<circle cx="427.5" cy="35.3" r="1.4" fill="#5292e0"/>
<text x="442.8" y="38.4" font-size="9">0.01</text>
<line x1="420" y1="45.2" x2="435" y2="45.2" stroke="#3f9fd4" stroke-width="1.0"/>
<circle cx="427.5" cy="45.2" r="1.1" fill="#3092c8"/>
<text x="442.8" y="48.3" font-size="9">0.05</text>
<line x1="467.7" y1="25.8" x2="482.7" y2="25.8" stroke="#2b8095" stroke-width="1.0"/>
<circle cx="475.2" cy="25.8" r="1.0" fill="#227282"/>
<text x="490.5" y="28.9" font-size="9">0.1</text>
<line x1="467.7" y1="35.3" x2="482.7" y2="35.3" stroke="#34525c" stroke-width="1.0"/>
<circle cx="475.2" cy="35.3" r="0.9" fill="#263e46"/>
<text x="490.5" y="38.4" font-size="9">0.5</text>
<line x1="467.7" y1="45.2" x2="482.7" y2="45.2" stroke="#333333" stroke-width="1.0"/>
<circle cx="475.2" cy="45.2" r="2.1" fill="#222222"/>
<text x="490.5" y="48.3" font-size="9">1</text>
<path d="M412.6 52.5V56.1M411.3 52.5h2.6M411.3 56.1h2.6" stroke="#2db32d" stroke-width="0.8" fill="none"/>
<path d="M413.4 53.2V59.9M412.1 53.2h2.6M412.1 59.9h2.6" stroke="#2db32d" stroke-width="0.8" fill="none"/>
<path d="M416.8 59.1V64.8M415.5 59.1h2.6M415.5 64.8h2.6" stroke="#2db32d" stroke-width="0.8" fill="none"/>
<path d="M420.9 73.3V78M419.6 73.3h2.6M419.6 78h2.6" stroke="#2db32d" stroke-width="0.8" fill="none"/>
<path d="M454.2 105.8V109.5M452.9 105.8h2.6M452.9 109.5h2.6" stroke="#2db32d" stroke-width="0.8" fill="none"/>
<path d="M495.8 108.9V115.6M494.5 108.9h2.6M494.5 115.6h2.6" stroke="#2db32d" stroke-width="0.8" fill="none"/>
<polyline points="412.6,54.3 413.4,56.6 416.8,61.9 420.9,75.6 454.2,107.6 495.8,112.2" fill="none" stroke="#2db32d" stroke-width="1.0"/>
<circle cx="412.6" cy="54.3" r="1.3" fill="#1f9f1f"/>
<circle cx="413.4" cy="56.6" r="1.3" fill="#1f9f1f"/>
<circle cx="416.8" cy="61.9" r="1.3" fill="#1f9f1f"/>
<circle cx="420.9" cy="75.6" r="1.3" fill="#1f9f1f"/>
<circle cx="454.2" cy="107.6" r="1.3" fill="#1f9f1f"/>
<circle cx="495.8" cy="112.2" r="1.3" fill="#1f9f1f"/>
<path d="M412.6 60.1V66.8M411.3 60.1h2.6M411.3 66.8h2.6" stroke="#62a0e8" stroke-width="0.8" fill="none"/>
<path d="M413.4 61.4V67.1M412.1 61.4h2.6M412.1 67.1h2.6" stroke="#62a0e8" stroke-width="0.8" fill="none"/>
<path d="M416.8 63.4V68.1M415.5 63.4h2.6M415.5 68.1h2.6" stroke="#62a0e8" stroke-width="0.8" fill="none"/>
<path d="M420.9 75.3V79M419.6 75.3h2.6M419.6 79h2.6" stroke="#62a0e8" stroke-width="0.8" fill="none"/>
<path d="M454.2 104.3V111M452.9 104.3h2.6M452.9 111h2.6" stroke="#62a0e8" stroke-width="0.8" fill="none"/>
<path d="M495.8 110.9V116.6M494.5 110.9h2.6M494.5 116.6h2.6" stroke="#62a0e8" stroke-width="0.8" fill="none"/>
<polyline points="412.6,63.4 413.4,64.2 416.8,65.7 420.9,77.2 454.2,107.6 495.8,113.7" fill="none" stroke="#62a0e8" stroke-width="1.0"/>
<circle cx="412.6" cy="63.4" r="1.4" fill="#5292e0"/>
<circle cx="413.4" cy="64.2" r="1.4" fill="#5292e0"/>
<circle cx="416.8" cy="65.7" r="1.4" fill="#5292e0"/>
<circle cx="420.9" cy="77.2" r="1.4" fill="#5292e0"/>
<circle cx="454.2" cy="107.6" r="1.4" fill="#5292e0"/>
<circle cx="495.8" cy="113.7" r="1.4" fill="#5292e0"/>
<path d="M412.6 57.6V63.2M411.3 57.6h2.6M411.3 63.2h2.6" stroke="#3f9fd4" stroke-width="0.8" fill="none"/>
<path d="M413.4 61.1V65.8M412.1 61.1h2.6M412.1 65.8h2.6" stroke="#3f9fd4" stroke-width="0.8" fill="none"/>
<path d="M416.8 66.2V69.8M415.5 66.2h2.6M415.5 69.8h2.6" stroke="#3f9fd4" stroke-width="0.8" fill="none"/>
<path d="M420.9 77.6V84.3M419.6 77.6h2.6M419.6 84.3h2.6" stroke="#3f9fd4" stroke-width="0.8" fill="none"/>
<path d="M454.2 106.3V112M452.9 106.3h2.6M452.9 112h2.6" stroke="#3f9fd4" stroke-width="0.8" fill="none"/>
<path d="M495.8 111.4V116.1M494.5 111.4h2.6M494.5 116.1h2.6" stroke="#3f9fd4" stroke-width="0.8" fill="none"/>
<polyline points="412.6,60.4 413.4,63.4 416.8,68 420.9,81 454.2,109.2 495.8,113.7" fill="none" stroke="#3f9fd4" stroke-width="1.0"/>
<circle cx="412.6" cy="60.4" r="1.1" fill="#3092c8"/>
<circle cx="413.4" cy="63.4" r="1.1" fill="#3092c8"/>
<circle cx="416.8" cy="68" r="1.1" fill="#3092c8"/>
<circle cx="420.9" cy="81" r="1.1" fill="#3092c8"/>
<circle cx="454.2" cy="109.2" r="1.1" fill="#3092c8"/>
<circle cx="495.8" cy="113.7" r="1.1" fill="#3092c8"/>
<path d="M412.6 55.8V60.4M411.3 55.8h2.6M411.3 60.4h2.6" stroke="#2b8095" stroke-width="0.8" fill="none"/>
<path d="M413.4 58.6V62.2M412.1 58.6h2.6M412.1 62.2h2.6" stroke="#2b8095" stroke-width="0.8" fill="none"/>
<path d="M416.8 60.1V66.8M415.5 60.1h2.6M415.5 66.8h2.6" stroke="#2b8095" stroke-width="0.8" fill="none"/>
<path d="M420.9 73.6V79.2M419.6 73.6h2.6M419.6 79.2h2.6" stroke="#2b8095" stroke-width="0.8" fill="none"/>
<path d="M454.2 98.4V103.1M452.9 98.4h2.6M452.9 103.1h2.6" stroke="#2b8095" stroke-width="0.8" fill="none"/>
<path d="M495.8 108.1V111.8M494.5 108.1h2.6M494.5 111.8h2.6" stroke="#2b8095" stroke-width="0.8" fill="none"/>
<polyline points="412.6,58.1 413.4,60.4 416.8,63.4 420.9,76.4 454.2,100.8 495.8,109.9" fill="none" stroke="#2b8095" stroke-width="1.0"/>
<circle cx="412.6" cy="58.1" r="1.0" fill="#227282"/>
<circle cx="413.4" cy="60.4" r="1.0" fill="#227282"/>
<circle cx="416.8" cy="63.4" r="1.0" fill="#227282"/>
<circle cx="420.9" cy="76.4" r="1.0" fill="#227282"/>
<circle cx="454.2" cy="100.8" r="1.0" fill="#227282"/>
<circle cx="495.8" cy="109.9" r="1.0" fill="#227282"/>
<path d="M412.6 80.7V84.3M411.3 80.7h2.6M411.3 84.3h2.6" stroke="#34525c" stroke-width="0.8" fill="none"/>
<path d="M413.4 81.4V88.1M412.1 81.4h2.6M412.1 88.1h2.6" stroke="#34525c" stroke-width="0.8" fill="none"/>
<path d="M416.8 85V90.7M415.5 85h2.6M415.5 90.7h2.6" stroke="#34525c" stroke-width="0.8" fill="none"/>
<path d="M420.9 90.8V95.5M419.6 90.8h2.6M419.6 95.5h2.6" stroke="#34525c" stroke-width="0.8" fill="none"/>
<path d="M454.2 104.3V107.9M452.9 104.3h2.6M452.9 107.9h2.6" stroke="#34525c" stroke-width="0.8" fill="none"/>
<path d="M495.8 108.9V115.6M494.5 108.9h2.6M494.5 115.6h2.6" stroke="#34525c" stroke-width="0.8" fill="none"/>
<polyline points="412.6,82.5 413.4,84.8 416.8,87.8 420.9,93.2 454.2,106.1 495.8,112.2" fill="none" stroke="#34525c" stroke-width="1.0"/>
<circle cx="412.6" cy="82.5" r="0.9" fill="#263e46"/>
<circle cx="413.4" cy="84.8" r="0.9" fill="#263e46"/>
<circle cx="416.8" cy="87.8" r="0.9" fill="#263e46"/>
<circle cx="420.9" cy="93.2" r="0.9" fill="#263e46"/>
<circle cx="454.2" cy="106.1" r="0.9" fill="#263e46"/>
<circle cx="495.8" cy="112.2" r="0.9" fill="#263e46"/>
<path d="M412.6 93.6V100.3M411.3 93.6h2.6M411.3 100.3h2.6" stroke="#333333" stroke-width="0.8" fill="none"/>
<path d="M413.4 95.7V101.3M412.1 95.7h2.6M412.1 101.3h2.6" stroke="#333333" stroke-width="0.8" fill="none"/>
<path d="M416.8 99.2V103.9M415.5 99.2h2.6M415.5 103.9h2.6" stroke="#333333" stroke-width="0.8" fill="none"/>
<path d="M420.9 105.8V109.5M419.6 105.8h2.6M419.6 109.5h2.6" stroke="#333333" stroke-width="0.8" fill="none"/>
<path d="M454.2 112.7V119.4M452.9 112.7h2.6M452.9 119.4h2.6" stroke="#333333" stroke-width="0.8" fill="none"/>
<path d="M495.8 116.2V121.9M494.5 116.2h2.6M494.5 121.9h2.6" stroke="#333333" stroke-width="0.8" fill="none"/>
<polyline points="412.6,97 413.4,98.5 416.8,101.5 420.9,107.6 454.2,116 495.8,119.1" fill="none" stroke="#333333" stroke-width="1.0"/>
<circle cx="412.6" cy="97" r="2.1" fill="#222222"/>
<circle cx="413.4" cy="98.5" r="2.1" fill="#222222"/>
<circle cx="416.8" cy="101.5" r="2.1" fill="#222222"/>
<circle cx="420.9" cy="107.6" r="2.1" fill="#222222"/>
<circle cx="454.2" cy="116" r="2.1" fill="#222222"/>
<circle cx="495.8" cy="119.1" r="2.1" fill="#222222"/>
<line x1="412.6" y1="47" x2="412.6" y2="131" stroke="#2a2a2a" stroke-width="1.05"/>
<line x1="412.1" y1="130.5" x2="496.3" y2="130.5" stroke="#2a2a2a" stroke-width="1.05"/>
<line x1="407.6" y1="130.5" x2="412.6" y2="130.5" stroke="#2a2a2a" stroke-width="1.05"/>
<text x="405.1" y="133.9" text-anchor="end" font-size="9.6">0</text>
<line x1="407.6" y1="92.4" x2="412.6" y2="92.4" stroke="#2a2a2a" stroke-width="1.05"/>
<text x="405.1" y="95.8" text-anchor="end" font-size="9.6">50</text>
<line x1="407.6" y1="54.3" x2="412.6" y2="54.3" stroke="#2a2a2a" stroke-width="1.05"/>
<text x="405.1" y="57.7" text-anchor="end" font-size="9.6">100</text>
<line x1="412.6" y1="130.5" x2="412.6" y2="135.5" stroke="#2a2a2a" stroke-width="1.05"/>
<text x="412.6" y="147.1" text-anchor="middle" font-size="9.6">0.000</text>
<line x1="433.4" y1="130.5" x2="433.4" y2="135.5" stroke="#2a2a2a" stroke-width="1.05"/>
<line x1="454.2" y1="130.5" x2="454.2" y2="135.5" stroke="#2a2a2a" stroke-width="1.05"/>
<text x="454.2" y="147.1" text-anchor="middle" font-size="9.6">0.005</text>
<line x1="475" y1="130.5" x2="475" y2="135.5" stroke="#2a2a2a" stroke-width="1.05"/>
<line x1="495.8" y1="130.5" x2="495.8" y2="135.5" stroke="#2a2a2a" stroke-width="1.05"/>
<text x="495.8" y="147.1" text-anchor="middle" font-size="9.6">0.010</text>
<text x="454.3" y="162" text-anchor="middle" font-size="9.9">Entinostat (<tspan font-size="9" font-family="Liberation Serif, serif">μ</tspan>mol/L)</text>
<text text-anchor="middle" transform="translate(32 88.9) rotate(-90)" font-size="9.9">Cell viability (% Co)</text>
<text x="0.7" y="38.2" font-size="9.3">Cisplatin (<tspan font-size="8.5" font-family="Liberation Serif, serif">μ</tspan>mol/L)</text>
<defs><linearGradient id="cb26" x1="0" y1="0" x2="0" y2="1"><stop offset="0%" stop-color="#000080"/><stop offset="6.2%" stop-color="#0000bf"/><stop offset="12.5%" stop-color="#0000ff"/><stop offset="18.8%" stop-color="#0040ff"/><stop offset="25%" stop-color="#0080ff"/><stop offset="31.2%" stop-color="#00bfff"/><stop offset="37.5%" stop-color="#00ffff"/><stop offset="43.8%" stop-color="#40ffbf"/><stop offset="50%" stop-color="#80ff80"/><stop offset="56.2%" stop-color="#bfff40"/><stop offset="62.5%" stop-color="#ffff00"/><stop offset="68.8%" stop-color="#ffbf00"/><stop offset="75%" stop-color="#ff8000"/><stop offset="81.2%" stop-color="#ff4000"/><stop offset="87.5%" stop-color="#ff0000"/><stop offset="93.8%" stop-color="#bf0000"/><stop offset="100%" stop-color="#800000"/></linearGradient></defs>
<rect x="26.6" y="183.5" width="8.9" height="84.9" fill="url(#cb26)"/>
<text text-anchor="middle" font-weight="bold" transform="translate(42.6 203.1) rotate(-90)" font-size="4.9">Synergy</text>
<text text-anchor="middle" font-weight="bold" transform="translate(42.6 243.3) rotate(-90)" font-size="4.9">Antagonism</text>
<g><polyline points="68.1,247.2 111.7,224" fill="none" stroke="#e9e9e9" stroke-width="0.5"/><polyline points="68.1,247.2 112.9,270.8" fill="none" stroke="#e9e9e9" stroke-width="0.5"/><polyline points="77.1,251.9 120.7,228.7" fill="none" stroke="#e9e9e9" stroke-width="0.5"/><polyline points="76.8,242.6 121.6,266.2" fill="none" stroke="#e9e9e9" stroke-width="0.5"/><polyline points="86,256.6 129.6,233.4" fill="none" stroke="#e9e9e9" stroke-width="0.5"/><polyline points="85.5,237.9 130.3,261.5" fill="none" stroke="#e9e9e9" stroke-width="0.5"/><polyline points="95,261.4 138.6,238.2" fill="none" stroke="#e9e9e9" stroke-width="0.5"/><polyline points="94.3,233.3 139.1,256.9" fill="none" stroke="#e9e9e9" stroke-width="0.5"/><polyline points="103.9,266.1 147.5,242.9" fill="none" stroke="#e9e9e9" stroke-width="0.5"/><polyline points="103,228.6 147.8,252.2" fill="none" stroke="#e9e9e9" stroke-width="0.5"/><polyline points="112.9,270.8 156.5,247.6" fill="none" stroke="#e9e9e9" stroke-width="0.5"/><polyline points="111.7,224 156.5,247.6" fill="none" stroke="#e9e9e9" stroke-width="0.5"/><polyline points="68.1,247.2 68.1,212.8" fill="none" stroke="#e9e9e9" stroke-width="0.5"/><polyline points="111.7,224 111.7,189.6" fill="none" stroke="#e9e9e9" stroke-width="0.5"/><polyline points="76.8,242.6 76.8,208.2" fill="none" stroke="#e9e9e9" stroke-width="0.5"/><polyline points="120.7,228.7 120.7,194.3" fill="none" stroke="#e9e9e9" stroke-width="0.5"/><polyline points="85.5,237.9 85.5,203.5" fill="none" stroke="#e9e9e9" stroke-width="0.5"/><polyline points="129.6,233.4 129.6,199.1" fill="none" stroke="#e9e9e9" stroke-width="0.5"/><polyline points="94.3,233.3 94.3,198.9" fill="none" stroke="#e9e9e9" stroke-width="0.5"/><polyline points="138.6,238.2 138.6,203.8" fill="none" stroke="#e9e9e9" stroke-width="0.5"/><polyline points="103,228.6 103,194.3" fill="none" stroke="#e9e9e9" stroke-width="0.5"/><polyline points="147.5,242.9 147.5,208.5" fill="none" stroke="#e9e9e9" stroke-width="0.5"/><polyline points="111.7,224 111.7,189.6" fill="none" stroke="#e9e9e9" stroke-width="0.5"/><polyline points="156.5,247.6 156.5,213.2" fill="none" stroke="#e9e9e9" stroke-width="0.5"/><polyline points="68.1,247.2 111.7,224 156.5,247.6" fill="none" stroke="#e9e9e9" stroke-width="0.5"/><polyline points="68.1,232.2 111.7,209.1 156.5,232.7" fill="none" stroke="#e9e9e9" stroke-width="0.5"/><polyline points="68.1,217.3 111.7,194.1 156.5,217.7" fill="none" stroke="#e9e9e9" stroke-width="0.5"/><g filter="url(#sm)"><path d="M108.4 196.3l3.4 3.7l3.3-1.6l-3.4-3.9z" fill="#84ff7b"/><path d="M111.4 199.4l3.4 3.7l3.3-1.4l-3.4-3.9z" fill="#84ff7b"/><path d="M105.5 197.8l3.4 3.5l3.3-1.6l-3.4-3.7z" fill="#8cff73"/><path d="M114.3 202.5l3.5 3.7l3.3-1.2l-3.4-3.9z" fill="#84ff7b"/><path d="M108.4 200.7l3.5 3.5l3.3-1.4l-3.4-3.7z" fill="#8cff73"/><path d="M102.5 199.2l3.5 3.4l3.3-1.7l-3.4-3.5z" fill="#95ff6a"/><path d="M117.3 205.7l3.5 2.7l3.3-1.4l-3.5-2.6z" fill="#85ff7a"/><path d="M111.4 203.6l3.5 3.5l3.3-1.2l-3.4-3.7z" fill="#8cff73"/><path d="M99.7 199l3.4 3.7l3.3-0.4l-3.4-3.4z" fill="#afff50"/><path d="M105.5 202l3.5 3.3l3.3-1.4l-3.4-3.5z" fill="#95ff6a"/><path d="M120.3 207.9l3.4 2.7l3.4-1.6l-3.5-2.6z" fill="#88ff77"/><path d="M96.8 198.8l3.4 4l3.3-0.4l-3.4-3.7z" fill="#dcff23"/><path d="M114.4 206.6l3.4 2.9l3.4-1.5l-3.5-2.7z" fill="#90ff6f"/><path d="M102.7 202l3.4 3.7l3.3-0.6l-3.4-3.4z" fill="#b2ff4d"/><path d="M108.5 204.7l3.4 3.4l3.4-1.3l-3.4-3.5z" fill="#95ff6a"/><path d="M123.3 210.1l3.4 2.7l3.4-1.7l-3.5-2.6z" fill="#8bff74"/><path d="M93.9 198.7l3.4 4.2l3.2-0.3l-3.3-4z" fill="#fff500"/><path d="M99.8 202.1l3.4 4l3.3-0.6l-3.5-3.7z" fill="#e3ff1c"/><path d="M105.6 205.1l3.4 3.6l3.4-0.9l-3.5-3.4z" fill="#b4ff4b"/><path d="M117.4 208.9l3.4 2.9l3.4-1.6l-3.5-2.7z" fill="#99ff66"/><path d="M111.5 207.5l3.4 3.1l3.4-1.5l-3.5-2.9z" fill="#9cff63"/><path d="M96.9 202.2l3.3 4.3l3.3-0.6l-3.4-4z" fill="#ffea00"/><path d="M102.7 205.5l3.4 3.9l3.3-0.9l-3.4-3.7z" fill="#eaff15"/><path d="M120.4 211.3l3.4 2.9l3.4-1.8l-3.5-2.7z" fill="#a2ff5e"/><path d="M126.3 212.3l3.4 2.2l3.4-1.6l-3.5-2.3z" fill="#8eff71"/><path d="M90.9 200.4l3.4 4.7l3.4-2.5l-3.4-4.2z" fill="#ffe100"/><path d="M108.6 208.2l3.4 2.9l3.4-0.8l-3.5-3.1z" fill="#baff45"/><path d="M114.5 210l3.4 3l3.4-1.5l-3.5-2.9z" fill="#aaff55"/><path d="M99.8 205.8l3.4 4.2l3.3-0.9l-3.4-3.9z" fill="#ffde00"/><path d="M129.3 214l3.4 2.2l3.3-1.4l-3.4-2.4z" fill="#93ff6c"/><path d="M88 202l3.4 5.2l3.4-2.4l-3.5-4.7z" fill="#ffe600"/><path d="M105.7 208.8l3.4 2.8l3.4-0.8l-3.5-3z" fill="#eaff15"/><path d="M93.9 204.5l3.4 4.6l3.4-3l-3.5-4.1z" fill="#ffd900"/><path d="M111.6 210.5l3.4 2.9l3.3-0.7l-3.4-3z" fill="#c3ff3c"/><path d="M117.5 212.5l3.4 3l3.3-1.7l-3.4-2.9z" fill="#b8ff47"/><path d="M123.4 213.7l3.4 1.9l3.3-1.5l-3.4-2.2z" fill="#acff53"/><path d="M132.2 215.6l3.5 2.2l3.3-1.1l-3.4-2.4z" fill="#97ff68"/><path d="M85.1 203.6l3.4 5.7l3.3-2.4l-3.4-5.2z" fill="#ffeb00"/><path d="M102.8 209.5l3.4 2.6l3.3-0.8l-3.4-2.8z" fill="#ffe400"/><path d="M91 206.6l3.4 5.2l3.4-3l-3.5-4.6z" fill="#ffe800"/><path d="M108.7 211l3.4 2.8l3.3-0.7l-3.4-2.9z" fill="#e3ff1c"/><path d="M126.3 215.2l3.5 1.9l3.3-1.3l-3.4-2.2z" fill="#b9ff46"/><path d="M96.9 208.6l3.4 4.6l3.4-3.6l-3.5-4z" fill="#ffd000"/><path d="M114.6 212.8l3.4 3l3.3-0.6l-3.4-3.1z" fill="#ccff33"/><path d="M120.5 215.1l3.4 1.7l3.3-1.6l-3.4-1.9z" fill="#caff35"/><path d="M88.1 208.7l3.4 5.7l3.3-2.9l-3.4-5.2z" fill="#fff700"/><path d="M105.8 211.5l3.4 2.7l3.3-0.7l-3.4-2.8z" fill="#fffb00"/><path d="M129.3 216.6l3.5 2l3.3-1.2l-3.4-2.1z" fill="#c6ff39"/><path d="M135.2 217.3l3.5 2.4l3.3-0.9l-3.4-2.6z" fill="#9aff65"/><path d="M94 211.2l3.4 5.1l3.4-3.5l-3.5-4.6z" fill="#ffea00"/><path d="M111.7 213.2l3.4 2.8l3.3-0.5l-3.4-3z" fill="#dcff23"/><path d="M82.2 206.5l3.4 6.5l3.4-4l-3.5-5.6z" fill="#f0ff0f"/><path d="M99.9 212.8l3.4 2.9l3.3-4.1l-3.4-2.5z" fill="#ffe100"/><path d="M117.6 215.2l3.4 2l3.3-0.8l-3.4-1.8z" fill="#ddff22"/><path d="M123.4 216.3l3.5 1.8l3.3-1.4l-3.4-2z" fill="#dfff20"/><path d="M138.2 219.2l3.5 2.4l3.3-0.7l-3.4-2.6z" fill="#9bff64"/><path d="M91.1 213.8l3.4 5.7l3.3-3.5l-3.4-5.1z" fill="#fbff04"/><path d="M108.8 213.6l3.4 2.7l3.3-0.6l-3.4-2.8z" fill="#edff12"/><path d="M97 215.9l3.4 3.3l3.3-4.1l-3.4-2.8z" fill="#f4ff0b"/><path d="M79.3 209.3l3.4 7.3l3.3-3.9l-3.4-6.5z" fill="#b0ff4f"/><path d="M85.2 212.4l3.4 6.4l3.4-4.8l-3.5-5.6z" fill="#d2ff2d"/><path d="M102.9 215.3l3.4 2.8l3.3-4.5l-3.4-2.4z" fill="#f4ff0b"/><path d="M114.6 215.5l3.5 2.2l3.3-0.8l-3.4-2z" fill="#e5ff1a"/><path d="M120.5 216.7l3.5 2l3.3-1l-3.4-1.8z" fill="#f7ff08"/><path d="M126.4 217.6l3.5 1.7l3.3-1.1l-3.4-2z" fill="#f4ff0b"/><path d="M132.3 218.1l3.5 2.2l3.3-0.9l-3.4-2.5z" fill="#ceff31"/><path d="M141.2 221.1l3.4 2.4l3.4-0.5l-3.5-2.7z" fill="#9dff62"/><path d="M94.1 219l3.4 3.7l3.3-4l-3.4-3.3z" fill="#cbff34"/><path d="M82.3 216l3.4 7.3l3.3-4.8l-3.4-6.4z" fill="#79ff86"/><path d="M88.2 218.3l3.4 6.4l3.3-5.7l-3.4-5.5z" fill="#b5ff4a"/><path d="M99.9 218.8l3.5 3.3l3.3-4.5l-3.4-2.8z" fill="#b6ff49"/><path d="M111.7 215.7l3.5 2.4l3.3-0.8l-3.4-2.2z" fill="#eeff11"/><path d="M117.6 217.1l3.5 2.3l3.3-1.1l-3.4-2z" fill="#ffff00"/><path d="M123.5 218.2l3.5 2l3.3-1.3l-3.4-1.7z" fill="#ffee00"/><path d="M135.3 219.8l3.5 2.3l3.3-0.8l-3.5-2.5z" fill="#d2ff2d"/><path d="M76.5 212.1l3.3 8.2l3.3-3.9l-3.4-7.3z" fill="#71ff8e"/><path d="M105.9 217.8l3.4 2.8l3.3-4.9l-3.4-2.4z" fill="#cbff34"/><path d="M129.4 218.8l3.5 2.1l3.3-0.9l-3.4-2.3z" fill="#fffb00"/><path d="M144.2 222.9l3.4 3.4l3.3-0.6l-3.4-3.3z" fill="#9bff64"/><path d="M97 222.3l3.5 3.7l3.3-4.5l-3.4-3.2z" fill="#78ff87"/><path d="M114.7 217.6l3.5 2.4l3.3-1l-3.4-2.2z" fill="#fff700"/><path d="M120.6 218.8l3.5 2.2l3.3-1.2l-3.4-2z" fill="#ffe600"/><path d="M138.3 221.5l3.4 2.3l3.4-0.6l-3.5-2.5z" fill="#d7ff28"/><path d="M85.3 222.7l3.4 7.2l3.3-5.6l-3.4-6.4z" fill="#42ffbd"/><path d="M91.2 224.4l3.4 3.5l3.3-5.8l-3.4-3.5z" fill="#7bff84"/><path d="M102.9 221.7l3.5 3.2l3.3-4.9l-3.4-2.8z" fill="#78ff87"/><path d="M73.6 214.2l3.3 8.6l3.2-2.7l-3.3-8.2z" fill="#47ffb8"/><path d="M79.4 219.6l3.4 8.1l3.3-4.7l-3.4-7.3z" fill="#20ffdf"/><path d="M108.9 220.3l3.4 2.2l3.3-5l-3.4-2.1z" fill="#c0ff3f"/><path d="M126.5 219.7l3.5 2.2l3.3-1.4l-3.5-2.1z" fill="#ffda00"/><path d="M132.4 220.4l3.5 2.1l3.3-0.8l-3.5-2.3z" fill="#fff400"/><path d="M117.7 219.5l3.5 2.4l3.3-1.3l-3.5-2.1z" fill="#ffdd00"/><path d="M141.3 223.2l3.4 3.5l3.3-0.7l-3.4-3.4z" fill="#d2ff2d"/><path d="M147.2 225.7l3.4 3.4l3.3-0.8l-3.4-3.2z" fill="#97ff68"/><path d="M100 225.6l3.5 3.7l3.3-4.9l-3.4-3.2z" fill="#25ffda"/><path d="M88.3 229.6l3.4 3.5l3.3-5.8l-3.4-3.5z" fill="#02fffd"/><path d="M70.7 216.3l3.3 9.1l3.2-2.7l-3.3-8.6z" fill="#33ffcc"/><path d="M76.6 222.1l3.3 8.6l3.2-3.2l-3.3-8.1z" fill="#00e5ff"/><path d="M82.4 227.1l3.4 8.1l3.3-5.6l-3.4-7.2z" fill="#00ceff"/><path d="M94.2 227.6l3.4 3.6l3.3-5.8l-3.4-3.6z" fill="#24ffdb"/><path d="M106 224.7l3.4 2.2l3.3-5l-3.4-2.2z" fill="#5dffa2"/><path d="M111.8 222.2l3.5 2.2l3.3-5l-3.4-2.2z" fill="#d4ff2b"/><path d="M123.6 220.5l3.4 2.4l3.4-1.4l-3.5-2.2z" fill="#ffcc00"/><path d="M129.5 221.4l3.4 2.3l3.4-1.6l-3.5-2.1z" fill="#ffcc00"/><path d="M135.4 221.9l3.4 2.1l3.4-0.5l-3.5-2.3z" fill="#ffed00"/><path d="M67.8 218.5l3.3 9.5l3.2-2.7l-3.3-9.1z" fill="#1fffe0"/><path d="M73.7 224.7l3.3 9l3.2-3.1l-3.3-8.7z" fill="#00ccff"/><path d="M79.5 230l3.4 8.6l3.2-3.6l-3.3-8.2z" fill="#0085ff"/><path d="M85.4 234.9l3.4 3.4l3.3-5.8l-3.4-3.5z" fill="#0089ff"/><path d="M91.2 232.8l3.5 3.5l3.3-5.7l-3.4-3.6z" fill="#00b9ff"/><path d="M97.1 230.9l3.5 3.5l3.3-5.7l-3.4-3.6z" fill="#00cdff"/><path d="M103 229l3.5 2.2l3.3-4.9l-3.4-2.3z" fill="#00f8ff"/><path d="M108.9 226.6l3.4 2.2l3.4-5l-3.4-2.2z" fill="#63ff9c"/><path d="M114.8 224.1l3.4 2.2l3.4-5.1l-3.5-2.1z" fill="#e7ff18"/><path d="M120.7 221.3l3.4 2.6l3.4-1.3l-3.5-2.5z" fill="#ffbe00"/><path d="M126.6 222.4l3.4 2.4l3.4-1.5l-3.5-2.3z" fill="#ffb300"/><path d="M132.5 223.2l3.4 2.2l3.4-1.8l-3.5-2z" fill="#ffbe00"/><path d="M138.4 223.4l3.4 3.6l3.3-0.6l-3.4-3.5z" fill="#fff400"/><path d="M144.3 226l3.4 3.5l3.3-0.7l-3.4-3.4z" fill="#c6ff39"/><path d="M150.2 228.5l3.4 3.4l3.3-0.9l-3.4-3.3z" fill="#93ff6c"/><path d="M106 231l3.4 2.2l3.4-5l-3.5-2.2z" fill="#00f2ff"/><path d="M111.9 228.5l3.4 2.3l3.3-5.1l-3.4-2.2z" fill="#6aff95"/><path d="M123.7 223.4l3.4 2.6l3.4-1.5l-3.5-2.5z" fill="#ff9900"/><path d="M129.6 224.3l3.4 2.4l3.4-1.7l-3.5-2.2z" fill="#ff9900"/><path d="M135.5 224.8l3.4 3.6l3.3-1.7l-3.4-3.5z" fill="#ffc700"/><path d="M76.6 233l3.4 9.1l3.2-3.7l-3.3-8.6z" fill="#0066ff"/><path d="M82.4 238.2l3.5 3.3l3.3-3.6l-3.4-3.6z" fill="#003dff"/><path d="M94.2 236l3.5 3.5l3.3-5.7l-3.4-3.5z" fill="#0071ff"/><path d="M70.8 227.2l3.3 9.5l3.2-3.1l-3.3-9.1z" fill="#00b3ff"/><path d="M88.3 238l3.5 3.5l3.3-5.8l-3.4-3.5z" fill="#004fff"/><path d="M100.2 234.2l3.3 2.2l3.3-5.8l-3.3-2.2z" fill="#009cff"/><path d="M117.8 226l3.4 2.3l3.3-5l-3.4-2.3z" fill="#fffb00"/><path d="M141.4 226.4l3.4 3.6l3.3-0.7l-3.4-3.5z" fill="#f4ff0b"/><path d="M147.3 228.9l3.4 3.5l3.3-0.8l-3.4-3.4z" fill="#b9ff46"/><path d="M109 232.9l3.4 2.3l3.3-5.1l-3.4-2.2z" fill="#00edff"/><path d="M126.7 225.5l3.4 2.6l3.4-1.8l-3.5-2.4z" fill="#ff7400"/><path d="M132.6 226.2l3.4 3.5l3.3-1.7l-3.4-3.5z" fill="#ffa400"/><path d="M79.5 241.7l3.5 3l3.3-3.7l-3.4-3.3z" fill="#001eff"/><path d="M73.7 236l3.4 9.5l3.2-3.6l-3.3-9.1z" fill="#0047ff"/><path d="M85.4 241.1l3.5 3.3l3.3-3.3l-3.4-3.7z" fill="#000dff"/><path d="M91.3 241.2l3.4 3.5l3.4-5.8l-3.4-3.5z" fill="#0015ff"/><path d="M103.1 236.2l3.4 2.2l3.3-5.8l-3.4-2.3z" fill="#0090ff"/><path d="M97.2 239.3l3.4 2.3l3.3-5.9l-3.4-2.2z" fill="#0047ff"/><path d="M114.9 230.5l3.4 2.2l3.3-5l-3.4-2.3z" fill="#7aff85"/><path d="M120.8 228l3.4 2.3l3.3-4.9l-3.4-2.4z" fill="#ffd700"/><path d="M138.5 227.8l3.4 3.5l3.3-1.6l-3.4-3.6z" fill="#ffe800"/><path d="M144.4 229.4l3.4 3.6l3.3-0.9l-3.4-3.5z" fill="#dfff20"/><path d="M129.7 227.5l3.4 3.6l3.3-1.7l-3.4-3.6z" fill="#ff8000"/><path d="M106.1 238.2l3.4 2.2l3.3-5.9l-3.4-2.2z" fill="#0085ff"/><path d="M76.6 245.1l3.5 2.8l3.3-3.7l-3.4-3z" fill="#0000fe"/><path d="M82.5 244.3l3.4 3l3.4-3.3l-3.4-3.4z" fill="#0000f2"/><path d="M88.4 244l3.4 3.3l3.4-3l-3.5-3.7z" fill="#0000dc"/><path d="M100.2 241.3l3.4 2.3l3.3-5.8l-3.4-2.3z" fill="#003dff"/><path d="M112 234.9l3.4 2.2l3.3-5l-3.4-2.2z" fill="#00f0ff"/><path d="M117.9 232.4l3.4 2.2l3.3-4.9l-3.4-2.3z" fill="#93ff6c"/><path d="M123.8 230l3.4 2.3l3.3-4.8l-3.4-2.4z" fill="#ffb200"/><path d="M135.6 229.1l3.4 3.6l3.3-1.7l-3.4-3.5z" fill="#ffd200"/><path d="M94.3 244.4l3.4 2.3l3.3-5.8l-3.4-2.3z" fill="#0000f2"/><path d="M141.5 230.8l3.4 3.5l3.3-1.7l-3.4-3.5z" fill="#f6ff09"/><path d="M103.2 243.4l3.4 2.3l3.3-5.9l-3.4-2.3z" fill="#0033ff"/><path d="M115 236.8l3.4 2.1l3.3-4.9l-3.4-2.2z" fill="#00fdff"/><path d="M120.9 234.3l3.4 2.3l3.3-4.9l-3.4-2.3z" fill="#abff54"/><path d="M126.8 232l3.4 3.7l3.3-5.2l-3.4-3.3z" fill="#ffbf00"/><path d="M132.7 230.5l3.4 3.5l3.3-1.6l-3.4-3.6z" fill="#ffbd00"/><path d="M79.6 247.5l3.4 2.7l3.4-3.4l-3.5-3z" fill="#0000d9"/><path d="M85.5 246.9l3.4 3.1l3.4-3.1l-3.5-3.4z" fill="#0000c8"/><path d="M97.3 246.5l3.4 2.3l3.3-5.8l-3.4-2.3z" fill="#0000e9"/><path d="M91.4 246.9l3.4 2.4l3.4-3l-3.5-2.5z" fill="#0000bf"/><path d="M109.1 240.2l3.4 2.2l3.3-6l-3.4-2.1z" fill="#0082ff"/><path d="M138.5 232.1l3.5 3.6l3.3-1.7l-3.4-3.6z" fill="#fdff02"/><path d="M118 238.7l3.4 2.1l3.3-4.8l-3.4-2.3z" fill="#0bfff4"/><path d="M123.8 236.2l3.5 4.1l3.3-5.1l-3.4-3.8z" fill="#9dff62"/><path d="M82.6 249.8l3.4 2.8l3.4-3.1l-3.5-3.1z" fill="#0000b4"/><path d="M100.3 248.6l3.4 2.3l3.3-5.9l-3.4-2.3z" fill="#0000e0"/><path d="M94.4 248.9l3.4 2.4l3.4-3l-3.5-2.5z" fill="#0000b7"/><path d="M112.1 242.2l3.4 2.2l3.3-6.2l-3.4-2z" fill="#0086ff"/><path d="M88.5 249.6l3.4 2.3l3.4-3.1l-3.5-2.4z" fill="#0000ae"/><path d="M106.2 245.4l3.4 2.4l3.3-6l-3.4-2.3z" fill="#002dff"/><path d="M129.7 235.4l3.5 3.7l3.3-5.7l-3.4-3.2z" fill="#fffe00"/><path d="M135.6 233.5l3.5 3.5l3.3-1.7l-3.4-3.5z" fill="#fffa00"/><path d="M120.9 240.4l3.5 4.6l3.3-5.2l-3.4-4.1z" fill="#00fbff"/><path d="M97.4 250.9l3.4 2.4l3.3-2.9l-3.4-2.5z" fill="#0000ae"/><path d="M115.1 244.2l3.4 2.2l3.3-6.3l-3.4-2.1z" fill="#008aff"/><path d="M91.5 251.5l3.4 2.3l3.4-3l-3.5-2.4z" fill="#0000a6"/><path d="M109.2 247.6l3.4 2.3l3.3-6.1l-3.4-2.3z" fill="#002dff"/><path d="M126.8 240l3.5 4.1l3.3-5.6l-3.4-3.7z" fill="#69ff96"/><path d="M85.6 252.2l3.4 2.3l3.4-3.1l-3.5-2.3z" fill="#00009d"/><path d="M103.3 250.6l3.4 2.6l3.3-6.1l-3.4-2.3z" fill="#0000d8"/><path d="M132.7 238.8l3.5 3.6l3.3-6l-3.4-3.3z" fill="#c1ff3e"/><path d="M94.5 253.4l3.4 2.4l3.3-3l-3.4-2.4z" fill="#00009d"/><path d="M112.2 249.7l3.4 2.4l3.3-6.3l-3.4-2.3z" fill="#002cff"/><path d="M118 246.1l3.5 3.8l3.3-5.5l-3.4-4.5z" fill="#007dff"/><path d="M123.9 244.6l3.5 4.5l3.3-5.5l-3.4-4.2z" fill="#00d0ff"/><path d="M88.6 254.1l3.4 2.2l3.3-3l-3.4-2.3z" fill="#000095"/><path d="M106.3 252.9l3.4 2.5l3.3-6.1l-3.4-2.4z" fill="#0000d2"/><path d="M100.3 252.9l3.5 2.6l3.3-2.8l-3.4-2.7z" fill="#0000a6"/><path d="M129.8 243.8l3.5 4.1l3.3-6.1l-3.4-3.6z" fill="#34ffcb"/><path d="M115.2 251.8l3.4 3.1l3.3-5.5l-3.4-3.9z" fill="#0022ff"/><path d="M91.5 255.9l3.5 2.3l3.3-2.9l-3.4-2.4z" fill="#00008c"/><path d="M109.3 255.2l3.4 2.5l3.3-6.3l-3.4-2.4z" fill="#0000cc"/><path d="M97.4 255.4l3.5 2.4l3.3-2.8l-3.4-2.6z" fill="#000097"/><path d="M103.3 255.1l3.5 2.6l3.3-2.7l-3.4-2.7z" fill="#00009f"/><path d="M121 249.6l3.5 3.8l3.3-4.8l-3.4-4.5z" fill="#005dff"/><path d="M126.9 248.8l3.4 4.5l3.4-6l-3.4-4.1z" fill="#00a6ff"/><path d="M112.3 257.5l3.4 2.4l3.3-5.6l-3.4-3.1z" fill="#0000c6"/><path d="M100.4 257.4l3.5 2.5l3.3-2.7l-3.4-2.6z" fill="#000093"/><path d="M106.3 257.2l3.5 2.6l3.3-2.5l-3.4-2.8z" fill="#000098"/><path d="M118.1 254.6l3.4 3.1l3.4-4.8l-3.4-3.9z" fill="#000fff"/><path d="M94.5 257.8l3.5 2.4l3.3-2.8l-3.4-2.5z" fill="#000087"/><path d="M124 253l3.4 3.9l3.4-4l-3.5-4.7z" fill="#003eff"/><path d="M103.4 259.5l3.5 2.5l3.3-2.6l-3.4-2.6z" fill="#00008e"/><path d="M109.3 259.4l3.4 2.6l3.4-2.6l-3.4-2.6z" fill="#000095"/><path d="M97.5 259.8l3.5 2.4l3.3-2.7l-3.4-2.5z" fill="#000086"/><path d="M115.2 259.6l3.4 2.4l3.4-4.8l-3.5-3.2z" fill="#0000c0"/><path d="M121.1 257.4l3.4 3.2l3.4-4.1l-3.5-4z" fill="#0000fc"/><path d="M106.4 261.5l3.4 2.7l3.4-2.6l-3.5-2.7z" fill="#00008c"/><path d="M100.5 261.7l3.4 2.4l3.4-2.6l-3.4-2.5z" fill="#000084"/><path d="M112.3 261.6l3.4 2.6l3.4-2.6l-3.5-2.6z" fill="#000095"/><path d="M118.2 261.7l3.4 2.5l3.4-4.2l-3.5-3.2z" fill="#0000ba"/><path d="M103.5 263.7l3.4 2.6l3.4-2.6l-3.5-2.6z" fill="#000084"/><path d="M109.4 263.7l3.4 2.6l3.4-2.6l-3.5-2.6z" fill="#00008c"/><path d="M115.3 263.7l3.4 2.7l3.4-2.6l-3.5-2.7z" fill="#000095"/><path d="M106.5 265.9l3.4 2.6l3.4-2.6l-3.5-2.6z" fill="#000084"/><path d="M112.4 265.9l3.4 2.6l3.4-2.6l-3.5-2.6z" fill="#00008c"/><path d="M109.5 268l3.4 2.7l3.4-2.6l-3.5-2.7z" fill="#000084"/></g><polyline points="68.1,218.8 76.8,212.4" fill="none" stroke="#fff" stroke-width="0.55" stroke-opacity="0.18"/><polyline points="68.1,218.8 77.1,245" fill="none" stroke="#fff" stroke-width="0.55" stroke-opacity="0.47"/><polyline points="76.8,212.4 85.5,203.8" fill="none" stroke="#fff" stroke-width="0.55" stroke-opacity="0.1"/><polyline points="77.1,245 86,252.2" fill="none" stroke="#fff" stroke-width="0.55" stroke-opacity="0.65"/><polyline points="85.5,203.8 94.3,198.9" fill="none" stroke="#fff" stroke-width="0.55" stroke-opacity="0.1"/><polyline points="86,252.2 95,257.8" fill="none" stroke="#fff" stroke-width="0.55" stroke-opacity="0.65"/><polyline points="94.3,198.9 103,199.3" fill="none" stroke="#fff" stroke-width="0.55" stroke-opacity="0.1"/><polyline points="95,257.8 103.9,263.7" fill="none" stroke="#fff" stroke-width="0.55" stroke-opacity="0.65"/><polyline points="103,199.3 111.7,195" fill="none" stroke="#fff" stroke-width="0.55" stroke-opacity="0.12"/><polyline points="103.9,263.7 112.9,270.2" fill="none" stroke="#fff" stroke-width="0.55" stroke-opacity="0.65"/><polyline points="77.1,245 85.8,234.7" fill="none" stroke="#fff" stroke-width="0.55" stroke-opacity="0.65"/><polyline points="76.8,212.4 85.8,234.7" fill="none" stroke="#fff" stroke-width="0.55" stroke-opacity="0.36"/><polyline points="85.8,234.7 94.5,219" fill="none" stroke="#fff" stroke-width="0.55" stroke-opacity="0.28"/><polyline points="85.8,234.7 94.7,244.2" fill="none" stroke="#fff" stroke-width="0.55" stroke-opacity="0.65"/><polyline points="94.5,219 103.2,209.6" fill="none" stroke="#fff" stroke-width="0.55" stroke-opacity="0.1"/><polyline points="94.7,244.2 103.7,250.4" fill="none" stroke="#fff" stroke-width="0.55" stroke-opacity="0.65"/><polyline points="103.2,209.6 111.9,207.6" fill="none" stroke="#fff" stroke-width="0.55" stroke-opacity="0.1"/><polyline points="103.7,250.4 112.7,257.3" fill="none" stroke="#fff" stroke-width="0.55" stroke-opacity="0.65"/><polyline points="111.9,207.6 120.7,204.8" fill="none" stroke="#fff" stroke-width="0.55" stroke-opacity="0.12"/><polyline points="112.7,257.3 121.6,263.8" fill="none" stroke="#fff" stroke-width="0.55" stroke-opacity="0.65"/><polyline points="86,252.2 94.7,244.2" fill="none" stroke="#fff" stroke-width="0.55" stroke-opacity="0.65"/><polyline points="85.5,203.8 94.5,219" fill="none" stroke="#fff" stroke-width="0.55" stroke-opacity="0.1"/><polyline points="94.7,244.2 103.5,228.8" fill="none" stroke="#fff" stroke-width="0.55" stroke-opacity="0.61"/><polyline points="94.5,219 103.5,228.8" fill="none" stroke="#fff" stroke-width="0.55" stroke-opacity="0.2"/><polyline points="103.5,228.8 112.2,215.8" fill="none" stroke="#fff" stroke-width="0.55" stroke-opacity="0.2"/><polyline points="103.5,228.8 112.4,234.7" fill="none" stroke="#fff" stroke-width="0.55" stroke-opacity="0.44"/><polyline points="112.2,215.8 120.9,215.1" fill="none" stroke="#fff" stroke-width="0.55" stroke-opacity="0.1"/><polyline points="112.4,234.7 121.4,240.4" fill="none" stroke="#fff" stroke-width="0.55" stroke-opacity="0.45"/><polyline points="120.9,215.1 129.6,211" fill="none" stroke="#fff" stroke-width="0.55" stroke-opacity="0.1"/><polyline points="121.4,240.4 130.3,252.8" fill="none" stroke="#fff" stroke-width="0.55" stroke-opacity="0.52"/><polyline points="95,257.8 103.7,250.4" fill="none" stroke="#fff" stroke-width="0.55" stroke-opacity="0.65"/><polyline points="94.3,198.9 103.2,209.6" fill="none" stroke="#fff" stroke-width="0.55" stroke-opacity="0.1"/><polyline points="103.7,250.4 112.4,234.7" fill="none" stroke="#fff" stroke-width="0.55" stroke-opacity="0.65"/><polyline points="103.2,209.6 112.2,215.8" fill="none" stroke="#fff" stroke-width="0.55" stroke-opacity="0.1"/><polyline points="112.4,234.7 121.1,221.4" fill="none" stroke="#fff" stroke-width="0.55" stroke-opacity="0.17"/><polyline points="112.2,215.8 121.1,221.4" fill="none" stroke="#fff" stroke-width="0.55" stroke-opacity="0.1"/><polyline points="121.1,221.4 129.9,218.9" fill="none" stroke="#fff" stroke-width="0.55" stroke-opacity="0.1"/><polyline points="121.1,221.4 130.1,227.6" fill="none" stroke="#fff" stroke-width="0.55" stroke-opacity="0.1"/><polyline points="129.9,218.9 138.6,216.6" fill="none" stroke="#fff" stroke-width="0.55" stroke-opacity="0.1"/><polyline points="130.1,227.6 139.1,236.5" fill="none" stroke="#fff" stroke-width="0.55" stroke-opacity="0.1"/><polyline points="103.9,263.7 112.7,257.3" fill="none" stroke="#fff" stroke-width="0.55" stroke-opacity="0.65"/><polyline points="103,199.3 111.9,207.6" fill="none" stroke="#fff" stroke-width="0.55" stroke-opacity="0.1"/><polyline points="112.7,257.3 121.4,240.4" fill="none" stroke="#fff" stroke-width="0.55" stroke-opacity="0.65"/><polyline points="111.9,207.6 120.9,215.1" fill="none" stroke="#fff" stroke-width="0.55" stroke-opacity="0.1"/><polyline points="121.4,240.4 130.1,227.6" fill="none" stroke="#fff" stroke-width="0.55" stroke-opacity="0.1"/><polyline points="120.9,215.1 129.9,218.9" fill="none" stroke="#fff" stroke-width="0.55" stroke-opacity="0.1"/><polyline points="130.1,227.6 138.8,223.6" fill="none" stroke="#fff" stroke-width="0.55" stroke-opacity="0.1"/><polyline points="129.9,218.9 138.8,223.6" fill="none" stroke="#fff" stroke-width="0.55" stroke-opacity="0.1"/><polyline points="138.8,223.6 147.5,222.8" fill="none" stroke="#fff" stroke-width="0.55" stroke-opacity="0.1"/><polyline points="138.8,223.6 147.8,232.5" fill="none" stroke="#fff" stroke-width="0.55" stroke-opacity="0.1"/><polyline points="112.9,270.2 121.6,263.8" fill="none" stroke="#fff" stroke-width="0.55" stroke-opacity="0.65"/><polyline points="111.7,195 120.7,204.8" fill="none" stroke="#fff" stroke-width="0.55" stroke-opacity="0.14"/><polyline points="121.6,263.8 130.3,252.8" fill="none" stroke="#fff" stroke-width="0.55" stroke-opacity="0.65"/><polyline points="120.7,204.8 129.6,211" fill="none" stroke="#fff" stroke-width="0.55" stroke-opacity="0.14"/><polyline points="130.3,252.8 139.1,236.5" fill="none" stroke="#fff" stroke-width="0.55" stroke-opacity="0.3"/><polyline points="129.6,211 138.6,216.6" fill="none" stroke="#fff" stroke-width="0.55" stroke-opacity="0.14"/><polyline points="139.1,236.5 147.8,232.5" fill="none" stroke="#fff" stroke-width="0.55" stroke-opacity="0.1"/><polyline points="138.6,216.6 147.5,222.8" fill="none" stroke="#fff" stroke-width="0.55" stroke-opacity="0.14"/><polyline points="147.8,232.5 156.5,230.9" fill="none" stroke="#fff" stroke-width="0.55" stroke-opacity="0.1"/><polyline points="147.5,222.8 156.5,230.9" fill="none" stroke="#fff" stroke-width="0.55" stroke-opacity="0.14"/><circle cx="68.1" cy="218.8" r="0.75" fill="#222" fill-opacity="0.8"/><circle cx="76.8" cy="212.4" r="0.75" fill="#222" fill-opacity="0.8"/><circle cx="85.5" cy="203.8" r="0.75" fill="#222" fill-opacity="0.8"/><circle cx="94.3" cy="198.9" r="0.75" fill="#222" fill-opacity="0.8"/><circle cx="103" cy="199.3" r="0.75" fill="#222" fill-opacity="0.8"/><circle cx="111.7" cy="195" r="0.75" fill="#222" fill-opacity="0.8"/><circle cx="77.1" cy="245" r="0.75" fill="#222" fill-opacity="0.8"/><circle cx="85.8" cy="234.7" r="0.75" fill="#222" fill-opacity="0.8"/><circle cx="94.5" cy="219" r="0.75" fill="#222" fill-opacity="0.8"/><circle cx="103.2" cy="209.6" r="0.75" fill="#222" fill-opacity="0.8"/><circle cx="111.9" cy="207.6" r="0.75" fill="#222" fill-opacity="0.8"/><circle cx="120.7" cy="204.8" r="0.75" fill="#222" fill-opacity="0.8"/><circle cx="86" cy="252.2" r="0.75" fill="#222" fill-opacity="0.8"/><circle cx="94.7" cy="244.2" r="0.75" fill="#222" fill-opacity="0.8"/><circle cx="103.5" cy="228.8" r="0.75" fill="#222" fill-opacity="0.8"/><circle cx="112.2" cy="215.8" r="0.75" fill="#222" fill-opacity="0.8"/><circle cx="120.9" cy="215.1" r="0.75" fill="#222" fill-opacity="0.8"/><circle cx="129.6" cy="211" r="0.75" fill="#222" fill-opacity="0.8"/><circle cx="95" cy="257.8" r="0.75" fill="#222" fill-opacity="0.8"/><circle cx="103.7" cy="250.4" r="0.75" fill="#222" fill-opacity="0.8"/><circle cx="112.4" cy="234.7" r="0.75" fill="#222" fill-opacity="0.8"/><circle cx="121.1" cy="221.4" r="0.75" fill="#222" fill-opacity="0.8"/><circle cx="129.9" cy="218.9" r="0.75" fill="#222" fill-opacity="0.8"/><circle cx="138.6" cy="216.6" r="0.75" fill="#222" fill-opacity="0.8"/><circle cx="103.9" cy="263.7" r="0.75" fill="#222" fill-opacity="0.8"/><circle cx="112.7" cy="257.3" r="0.75" fill="#222" fill-opacity="0.8"/><circle cx="121.4" cy="240.4" r="0.75" fill="#222" fill-opacity="0.8"/><circle cx="130.1" cy="227.6" r="0.75" fill="#222" fill-opacity="0.8"/><circle cx="138.8" cy="223.6" r="0.75" fill="#222" fill-opacity="0.8"/><circle cx="147.5" cy="222.8" r="0.75" fill="#222" fill-opacity="0.8"/><circle cx="112.9" cy="270.2" r="0.75" fill="#222" fill-opacity="0.8"/><circle cx="121.6" cy="263.8" r="0.75" fill="#222" fill-opacity="0.8"/><circle cx="130.3" cy="252.8" r="0.75" fill="#222" fill-opacity="0.8"/><circle cx="139.1" cy="236.5" r="0.75" fill="#222" fill-opacity="0.8"/><circle cx="147.8" cy="232.5" r="0.75" fill="#222" fill-opacity="0.8"/><circle cx="156.5" cy="230.9" r="0.75" fill="#222" fill-opacity="0.8"/><polyline points="68.1,247.2 112.9,270.8 156.5,247.6" fill="none" stroke="#8c8c8c" stroke-width="0.55"/><polyline points="68.1,247.2 68.1,212.8" fill="none" stroke="#8c8c8c" stroke-width="0.55"/></g>
<line x1="65.6" y1="247.2" x2="68.1" y2="247.2" stroke="#8c8c8c" stroke-width="0.5"/>
<text x="65.8" y="249.1" text-anchor="end" fill="#222" style="stroke:#222" font-size="4.8">0</text>
<line x1="65.6" y1="232.2" x2="68.1" y2="232.2" stroke="#8c8c8c" stroke-width="0.5"/>
<text x="65.8" y="234.2" text-anchor="end" fill="#222" style="stroke:#222" font-size="4.8">50</text>
<line x1="65.6" y1="217.3" x2="68.1" y2="217.3" stroke="#8c8c8c" stroke-width="0.5"/>
<text x="65.8" y="219.2" text-anchor="end" fill="#222" style="stroke:#222" font-size="4.8">100</text>
<line x1="68.1" y1="247.2" x2="66.5" y2="248.4" stroke="#8c8c8c" stroke-width="0.5"/>
<text x="63.3" y="253.5" text-anchor="middle" fill="#222" style="stroke:#222" font-size="4.8">0</text>
<line x1="77.1" y1="251.9" x2="75.5" y2="253.1" stroke="#8c8c8c" stroke-width="0.5"/>
<text x="72.3" y="258.2" text-anchor="middle" fill="#222" style="stroke:#222" font-size="4.8">7</text>
<line x1="86" y1="256.6" x2="84.4" y2="257.8" stroke="#8c8c8c" stroke-width="0.5"/>
<text x="81.2" y="262.9" text-anchor="middle" fill="#222" style="stroke:#222" font-size="4.8">8</text>
<line x1="95" y1="261.4" x2="93.4" y2="262.6" stroke="#8c8c8c" stroke-width="0.5"/>
<text x="90.2" y="267.7" text-anchor="middle" fill="#222" style="stroke:#222" font-size="4.8">9</text>
<line x1="103.9" y1="266.1" x2="102.3" y2="267.3" stroke="#8c8c8c" stroke-width="0.5"/>
<text x="99.1" y="272.4" text-anchor="middle" fill="#222" style="stroke:#222" font-size="4.8">11</text>
<line x1="112.9" y1="270.8" x2="111.3" y2="272" stroke="#8c8c8c" stroke-width="0.5"/>
<text x="108.1" y="277.1" text-anchor="middle" fill="#222" style="stroke:#222" font-size="4.8">13</text>
<line x1="112.9" y1="270.8" x2="114.5" y2="272" stroke="#8c8c8c" stroke-width="0.5"/>
<text x="115.1" y="278.1" fill="#222" style="stroke:#222" font-size="4.8">2</text>
<line x1="121.6" y1="266.2" x2="123.2" y2="267.4" stroke="#8c8c8c" stroke-width="0.5"/>
<text x="123.8" y="273.5" fill="#222" style="stroke:#222" font-size="4.8">1</text>
<line x1="130.3" y1="261.5" x2="131.9" y2="262.7" stroke="#8c8c8c" stroke-width="0.5"/>
<text x="132.5" y="268.8" fill="#222" style="stroke:#222" font-size="4.8">0.5</text>
<line x1="139.1" y1="256.9" x2="140.7" y2="258.1" stroke="#8c8c8c" stroke-width="0.5"/>
<text x="141.3" y="264.2" fill="#222" style="stroke:#222" font-size="4.8">0.1</text>
<line x1="147.8" y1="252.2" x2="149.4" y2="253.4" stroke="#8c8c8c" stroke-width="0.5"/>
<text x="150" y="259.5" fill="#222" style="stroke:#222" font-size="4.8">0.01</text>
<line x1="156.5" y1="247.6" x2="158.1" y2="248.8" stroke="#8c8c8c" stroke-width="0.5"/>
<text x="158.7" y="254.9" fill="#222" style="stroke:#222" font-size="4.8">0</text>
<text x="70" y="272.3" text-anchor="middle" fill="#222" style="stroke:#222" font-size="6.1">Cis (<tspan font-size="5" font-family="Liberation Serif, serif">μ</tspan>mol/L)</text>
<text x="161.5" y="269.4" text-anchor="middle" fill="#222" style="stroke:#222" font-size="6.1">Enti (<tspan font-size="5" font-family="Liberation Serif, serif">μ</tspan>mol/L)</text>
<text text-anchor="middle" fill="#222" style="stroke:#222" transform="translate(54.3 223.2) rotate(-90)" font-size="5.3">% Control</text>
<text x="103.6" y="184.5" text-anchor="middle" font-size="9.7">H841</text>
<g><polyline points="177,247.5 220.8,222.5" fill="none" stroke="#e9e9e9" stroke-width="0.5"/><polyline points="177,247.5 220.8,272.5" fill="none" stroke="#e9e9e9" stroke-width="0.5"/><polyline points="185.8,252.5 229.5,227.5" fill="none" stroke="#e9e9e9" stroke-width="0.5"/><polyline points="185.8,242.5 229.5,267.5" fill="none" stroke="#e9e9e9" stroke-width="0.5"/><polyline points="194.5,257.5 238.2,232.5" fill="none" stroke="#e9e9e9" stroke-width="0.5"/><polyline points="194.5,237.5 238.2,262.5" fill="none" stroke="#e9e9e9" stroke-width="0.5"/><polyline points="203.2,262.5 247,237.5" fill="none" stroke="#e9e9e9" stroke-width="0.5"/><polyline points="203.2,232.5 247,257.5" fill="none" stroke="#e9e9e9" stroke-width="0.5"/><polyline points="212,267.5 255.8,242.5" fill="none" stroke="#e9e9e9" stroke-width="0.5"/><polyline points="212,227.5 255.8,252.5" fill="none" stroke="#e9e9e9" stroke-width="0.5"/><polyline points="220.8,272.5 264.5,247.5" fill="none" stroke="#e9e9e9" stroke-width="0.5"/><polyline points="220.8,222.5 264.5,247.5" fill="none" stroke="#e9e9e9" stroke-width="0.5"/><polyline points="177,247.5 177,213" fill="none" stroke="#e9e9e9" stroke-width="0.5"/><polyline points="220.8,222.5 220.8,188" fill="none" stroke="#e9e9e9" stroke-width="0.5"/><polyline points="185.8,242.5 185.8,208" fill="none" stroke="#e9e9e9" stroke-width="0.5"/><polyline points="229.5,227.5 229.5,193" fill="none" stroke="#e9e9e9" stroke-width="0.5"/><polyline points="194.5,237.5 194.5,203" fill="none" stroke="#e9e9e9" stroke-width="0.5"/><polyline points="238.2,232.5 238.2,198" fill="none" stroke="#e9e9e9" stroke-width="0.5"/><polyline points="203.2,232.5 203.2,198" fill="none" stroke="#e9e9e9" stroke-width="0.5"/><polyline points="247,237.5 247,203" fill="none" stroke="#e9e9e9" stroke-width="0.5"/><polyline points="212,227.5 212,193" fill="none" stroke="#e9e9e9" stroke-width="0.5"/><polyline points="255.8,242.5 255.8,208" fill="none" stroke="#e9e9e9" stroke-width="0.5"/><polyline points="220.8,222.5 220.8,188" fill="none" stroke="#e9e9e9" stroke-width="0.5"/><polyline points="264.5,247.5 264.5,213" fill="none" stroke="#e9e9e9" stroke-width="0.5"/><polyline points="177,247.5 220.8,222.5 264.5,247.5" fill="none" stroke="#e9e9e9" stroke-width="0.5"/><polyline points="177,232.5 220.8,207.5 264.5,232.5" fill="none" stroke="#e9e9e9" stroke-width="0.5"/><polyline points="177,217.5 220.8,192.5 264.5,217.5" fill="none" stroke="#e9e9e9" stroke-width="0.5"/><g filter="url(#sm)"><path d="M217.4 193l3.4 3.2l3.3-0.9l-3.3-3.2z" fill="#f0ff0f"/><path d="M220.3 195.7l3.4 3.2l3.3-0.9l-3.3-3.3z" fill="#ecff13"/><path d="M214.5 193.7l3.3 3.2l3.4-1l-3.4-3.2z" fill="#f4ff0b"/><path d="M223.2 198.3l3.4 3.2l3.3-0.8l-3.3-3.3z" fill="#e8ff17"/><path d="M217.4 196.3l3.4 3.2l3.3-0.9l-3.3-3.3z" fill="#eeff11"/><path d="M211.6 194.4l3.3 3.1l3.4-0.9l-3.4-3.2z" fill="#f9ff06"/><path d="M226.2 200.9l3.3 3.3l3.3-1.1l-3.3-3z" fill="#e4ff1b"/><path d="M220.3 198.9l3.4 3.2l3.3-0.9l-3.3-3.2z" fill="#e8ff17"/><path d="M208.6 196.6l3.4 3.2l3.4-2.7l-3.4-3z" fill="#f1ff0e"/><path d="M214.5 196.9l3.3 3.2l3.4-0.9l-3.4-3.2z" fill="#f1ff0e"/><path d="M229.1 203.7l3.3 3.3l3.4-1.5l-3.4-3z" fill="#e1ff1e"/><path d="M205.7 198.8l3.4 3.2l3.3-2.6l-3.3-3.2z" fill="#ddff22"/><path d="M223.2 201.5l3.4 3.6l3.3-1.2l-3.3-3.3z" fill="#e1ff1e"/><path d="M211.6 199.3l3.3 3.1l3.4-2.7l-3.4-3.1z" fill="#e5ff1a"/><path d="M217.4 199.5l3.4 3.1l3.3-0.8l-3.3-3.2z" fill="#e9ff16"/><path d="M232 206.4l3.3 3.3l3.4-1.7l-3.4-3z" fill="#deff21"/><path d="M202.8 201l3.4 3.3l3.3-2.7l-3.3-3.2z" fill="#c9ff36"/><path d="M208.6 201.6l3.4 3.2l3.4-2.8l-3.4-3.1z" fill="#ccff33"/><path d="M214.5 202l3.3 3.1l3.4-2.9l-3.4-3z" fill="#daff25"/><path d="M226.2 204.5l3.3 3.6l3.3-1.4l-3.3-3.4z" fill="#d9ff26"/><path d="M220.3 202l3.4 3.9l3.3-1.1l-3.3-3.6z" fill="#deff21"/><path d="M205.7 203.8l3.4 3.4l3.3-2.8l-3.3-3.2z" fill="#b3ff4c"/><path d="M211.6 204.3l3.3 3.3l3.4-2.9l-3.4-3.1z" fill="#bbff44"/><path d="M229.1 207.5l3.3 3.6l3.4-1.7l-3.4-3.3z" fill="#d0ff2f"/><path d="M234.9 209.2l3.3 3.2l3.4-1.7l-3.4-3.2z" fill="#d9ff26"/><path d="M199.9 204l3.3 3.4l3.4-3.5l-3.4-3.3z" fill="#aeff51"/><path d="M217.4 204.6l3.4 3.7l3.3-2.8l-3.3-3.7z" fill="#cdff32"/><path d="M223.2 205.3l3.4 3.9l3.3-1.4l-3.3-3.6z" fill="#d0ff2f"/><path d="M208.6 206.7l3.4 3.3l3.4-2.8l-3.4-3.3z" fill="#9cff63"/><path d="M237.8 211.9l3.4 3.3l3.3-1.9l-3.3-3.2z" fill="#d0ff2f"/><path d="M197 206.9l3.3 3.5l3.4-3.5l-3.4-3.4z" fill="#8cff73"/><path d="M214.5 207.1l3.3 3.7l3.4-2.8l-3.4-3.8z" fill="#aeff51"/><path d="M202.8 206.9l3.4 3.4l3.3-3.6l-3.3-3.3z" fill="#8cff73"/><path d="M220.3 207.8l3.4 3.8l3.3-2.8l-3.3-3.8z" fill="#bfff40"/><path d="M226.2 208.6l3.3 3.8l3.3-1.6l-3.3-3.6z" fill="#c2ff3d"/><path d="M232 210.5l3.3 3.4l3.4-1.8l-3.4-3.3z" fill="#cdff32"/><path d="M240.7 214.6l3.4 3.3l3.3-1.9l-3.3-3.2z" fill="#c8ff37"/><path d="M194.1 209.9l3.3 3.6l3.4-3.5l-3.4-3.5z" fill="#6aff95"/><path d="M211.6 209.5l3.3 3.7l3.4-2.8l-3.4-3.7z" fill="#8fff70"/><path d="M199.9 210l3.3 3.5l3.4-3.6l-3.4-3.4z" fill="#59ffa6"/><path d="M217.4 210.3l3.4 3.7l3.3-2.8l-3.3-3.8z" fill="#a6ff59"/><path d="M234.9 213.3l3.3 3.4l3.4-1.9l-3.4-3.2z" fill="#cfff30"/><path d="M205.7 209.9l3.4 3.4l3.3-3.7l-3.3-3.3z" fill="#6aff95"/><path d="M223.2 211.1l3.4 3.7l3.3-2.7l-3.3-3.8z" fill="#b1ff4e"/><path d="M229.1 211.9l3.3 3.4l3.4-1.8l-3.4-3.3z" fill="#c1ff3e"/><path d="M197 213.1l3.3 3.6l3.4-3.6l-3.4-3.5z" fill="#26ffd9"/><path d="M214.5 212.7l3.3 3.7l3.4-2.8l-3.4-3.7z" fill="#8cff73"/><path d="M237.8 216.1l3.4 3.4l3.3-1.9l-3.3-3.3z" fill="#d0ff2f"/><path d="M243.6 217.4l3.4 3.4l3.4-2.3l-3.4-3z" fill="#bbff44"/><path d="M202.8 213.1l3.4 3.5l3.3-3.8l-3.3-3.3z" fill="#26ffd9"/><path d="M220.3 213.5l3.4 3.7l3.3-2.8l-3.3-3.7z" fill="#9dff62"/><path d="M191.2 215.4l3.3 3.4l3.3-5.9l-3.3-3.4z" fill="#59ffa6"/><path d="M208.6 212.9l3.4 3.7l3.4-3.8l-3.4-3.6z" fill="#55ffaa"/><path d="M226.1 214.3l3.4 3.5l3.4-2.9l-3.4-3.3z" fill="#b0ff4f"/><path d="M232 214.8l3.3 3.4l3.4-1.9l-3.4-3.3z" fill="#cdff32"/><path d="M246.6 220.3l3.3 3.3l3.4-2.5l-3.4-3.1z" fill="#aaff55"/><path d="M199.9 216.2l3.3 3.6l3.4-3.7l-3.4-3.5z" fill="#00e1ff"/><path d="M217.4 215.9l3.4 3.6l3.3-2.7l-3.3-3.7z" fill="#89ff76"/><path d="M205.7 216.1l3.4 4l3.3-3.9l-3.3-3.8z" fill="#01fffe"/><path d="M188.2 220.8l3.4 3.4l3.3-6l-3.3-3.4z" fill="#59ffa6"/><path d="M194.1 218.6l3.3 3.4l3.4-5.9l-3.4-3.5z" fill="#15ffea"/><path d="M211.6 216.2l3.3 3.8l3.4-4.1l-3.4-3.6z" fill="#4effb1"/><path d="M223.2 216.7l3.4 3.6l3.3-2.9l-3.3-3.5z" fill="#9bff64"/><path d="M229.1 217.3l3.3 3.5l3.4-3l-3.4-3.4z" fill="#bdff42"/><path d="M234.9 217.6l3.3 3.4l3.4-1.9l-3.4-3.3z" fill="#d9ff26"/><path d="M240.7 218.9l3.4 3.8l3.3-2.3l-3.3-3.4z" fill="#c3ff3c"/><path d="M249.5 223.2l3.3 3.3l3.4-2.9l-3.4-3z" fill="#99ff66"/><path d="M202.8 219.4l3.4 4.1l3.3-3.9l-3.3-3.9z" fill="#00acff"/><path d="M191.2 223.9l3.3 3.4l3.3-5.9l-3.3-3.5z" fill="#26ffd9"/><path d="M197 221.7l3.3 3.4l3.4-5.9l-3.4-3.4z" fill="#00d0ff"/><path d="M208.6 219.6l3.4 4l3.4-4.1l-3.4-3.7z" fill="#00e9ff"/><path d="M220.3 219l3.4 3.8l3.3-2.9l-3.3-3.6z" fill="#86ff79"/><path d="M226.1 219.8l3.4 3.6l3.4-3l-3.4-3.5z" fill="#9fff60"/><path d="M232 220.3l3.3 3.5l3.4-3.2l-3.4-3.3z" fill="#caff35"/><path d="M243.6 222.1l3.4 3.7l3.4-2.5l-3.4-3.4z" fill="#a8ff57"/><path d="M185.3 226.2l3.4 3.3l3.3-5.9l-3.3-3.4z" fill="#59ffa6"/><path d="M214.5 219.6l3.3 3.7l3.4-4.2l-3.4-3.6z" fill="#46ffb9"/><path d="M237.8 220.5l3.4 4l3.3-2.2l-3.3-3.7z" fill="#ccff33"/><path d="M252.4 226l3.4 3.6l3.3-3l-3.3-3.4z" fill="#8cff73"/><path d="M205.7 223.1l3.4 4.1l3.3-4.1l-3.3-3.9z" fill="#0086ff"/><path d="M223.2 222.3l3.4 3.8l3.3-3.1l-3.3-3.6z" fill="#82ff7d"/><path d="M229.1 223l3.3 3.6l3.4-3.2l-3.4-3.5z" fill="#a4ff5b"/><path d="M246.6 225.3l3.3 3.7l3.4-2.9l-3.4-3.4z" fill="#8dff72"/><path d="M194.1 227l3.3 3.4l3.4-5.9l-3.4-3.4z" fill="#00f2ff"/><path d="M199.9 224.8l3.3 3.8l3.4-5.6l-3.4-4z" fill="#009aff"/><path d="M211.6 223.1l3.3 4l3.4-4.3l-3.4-3.7z" fill="#00d2ff"/><path d="M182.4 228.9l3.4 3.4l3.3-3.2l-3.3-3.5z" fill="#5affa5"/><path d="M188.2 229.2l3.4 3.4l3.3-5.9l-3.3-3.4z" fill="#37ffc8"/><path d="M217.4 222.9l3.4 3.7l3.3-4.3l-3.3-3.6z" fill="#40ffbf"/><path d="M234.9 223.3l3.3 3.9l3.4-3.1l-3.4-3.9z" fill="#bcff43"/><path d="M240.7 224l3.4 4l3.3-2.5l-3.3-3.7z" fill="#a7ff58"/><path d="M226.1 225.6l3.4 3.7l3.4-3.1l-3.4-3.6z" fill="#7dff82"/><path d="M249.5 228.5l3.3 3.7l3.4-3l-3.4-3.6z" fill="#79ff86"/><path d="M255.3 229.1l3.4 3.5l3.3-3l-3.3-3.5z" fill="#82ff7d"/><path d="M208.6 226.7l3.4 4.1l3.4-4.2l-3.4-3.9z" fill="#0060ff"/><path d="M197 230.1l3.3 3.7l3.4-5.7l-3.4-3.9z" fill="#00c9ff"/><path d="M179.5 231.7l3.3 3.3l3.4-3.2l-3.4-3.4z" fill="#5bffa4"/><path d="M185.3 231.8l3.4 3.4l3.3-3l-3.3-3.6z" fill="#42ffbd"/><path d="M191.2 232.3l3.3 3.3l3.3-5.8l-3.3-3.4z" fill="#15ffea"/><path d="M202.8 228.3l3.4 3.9l3.3-5.6l-3.3-4z" fill="#0071ff"/><path d="M214.5 226.7l3.3 3.6l3.4-4.2l-3.4-3.7z" fill="#00caff"/><path d="M220.3 226.1l3.4 3.7l3.3-4.2l-3.3-3.7z" fill="#3dffc2"/><path d="M232 226.1l3.3 3.9l3.4-3.1l-3.4-4z" fill="#94ff6b"/><path d="M237.8 226.7l3.4 4l3.3-3.1l-3.3-4z" fill="#94ff6b"/><path d="M243.6 227.4l3.4 4l3.4-2.8l-3.4-3.7z" fill="#81ff7e"/><path d="M176.6 234.6l3.3 3.2l3.4-3.2l-3.4-3.3z" fill="#5dffa2"/><path d="M182.4 234.6l3.4 3.3l3.3-3.1l-3.3-3.4z" fill="#46ffb9"/><path d="M188.2 234.8l3.4 3.4l3.3-3l-3.3-3.5z" fill="#2affd5"/><path d="M194.1 235.3l3.3 3.6l3.4-5.7l-3.4-3.7z" fill="#00f8ff"/><path d="M199.9 233.5l3.3 3.7l3.4-5.6l-3.4-3.8z" fill="#00aaff"/><path d="M205.7 231.8l3.4 3.9l3.3-5.4l-3.3-4z" fill="#0048ff"/><path d="M211.6 230.4l3.3 3.6l3.4-4.2l-3.4-3.6z" fill="#0054ff"/><path d="M217.4 229.9l3.4 3.6l3.3-4.2l-3.3-3.6z" fill="#00d0ff"/><path d="M223.2 229.4l3.4 3.6l3.3-4.1l-3.3-3.7z" fill="#39ffc6"/><path d="M229.1 228.9l3.3 3.8l3.4-3.1l-3.4-3.9z" fill="#6cff93"/><path d="M234.9 229.5l3.3 3.9l3.4-3.1l-3.4-3.9z" fill="#70ff8f"/><path d="M240.7 230.2l3.4 3.9l3.3-3l-3.3-4z" fill="#6cff93"/><path d="M246.6 230.9l3.3 3.8l3.4-3l-3.4-3.6z" fill="#67ff98"/><path d="M252.4 231.7l3.4 3.6l3.3-3.1l-3.3-3.5z" fill="#6cff93"/><path d="M258.2 232.2l3.4 3.5l3.3-3.2l-3.3-3.4z" fill="#78ff87"/><path d="M214.5 233.6l3.3 3.6l3.4-4.2l-3.4-3.6z" fill="#0064ff"/><path d="M220.3 233.1l3.4 3.6l3.3-4.2l-3.3-3.6z" fill="#00d6ff"/><path d="M232 232.2l3.3 3.9l3.4-3.1l-3.4-3.9z" fill="#4dffb3"/><path d="M237.8 232.9l3.4 3.9l3.3-3.1l-3.3-3.9z" fill="#4dffb3"/><path d="M243.6 233.6l3.4 3.7l3.4-3l-3.4-3.7z" fill="#4fffb0"/><path d="M185.3 237.4l3.4 3.4l3.3-3l-3.3-3.4z" fill="#31ffce"/><path d="M191.1 237.7l3.4 3.7l3.4-2.9l-3.4-3.7z" fill="#15ffea"/><path d="M202.8 236.8l3.4 3.8l3.3-5.4l-3.3-3.9z" fill="#008aff"/><path d="M179.5 237.4l3.3 3.2l3.4-3.1l-3.4-3.3z" fill="#4affb5"/><path d="M197 238.6l3.3 3.6l3.4-5.6l-3.4-3.7z" fill="#00e3ff"/><path d="M208.7 235.4l3.3 3.1l3.4-5l-3.4-3.5z" fill="#0037ff"/><path d="M226.1 232.6l3.4 3.6l3.4-4l-3.4-3.7z" fill="#2affd5"/><path d="M249.5 234.2l3.3 3.8l3.4-3.1l-3.4-3.6z" fill="#57ffa8"/><path d="M255.3 234.8l3.4 3.7l3.3-3.2l-3.3-3.6z" fill="#60ff9f"/><path d="M217.4 236.8l3.4 3.5l3.3-4.1l-3.3-3.6z" fill="#0073ff"/><path d="M234.9 235.6l3.3 3.8l3.4-3l-3.4-3.9z" fill="#2dffd2"/><path d="M240.7 236.3l3.4 3.6l3.3-3l-3.3-3.7z" fill="#33ffcc"/><path d="M188.2 240.3l3.4 3.5l3.3-2.8l-3.3-3.7z" fill="#1cffe3"/><path d="M182.4 240.1l3.4 3.2l3.3-2.9l-3.3-3.4z" fill="#38ffc7"/><path d="M194.1 240.9l3.3 3.6l3.4-2.7l-3.4-3.8z" fill="#02fffd"/><path d="M199.9 241.9l3.3 3.5l3.4-5.4l-3.4-3.7z" fill="#00cdff"/><path d="M211.6 238.1l3.3 3.1l3.4-4.6l-3.4-3.5z" fill="#003eff"/><path d="M205.7 240.3l3.4 2.7l3.3-5.1l-3.3-3.1z" fill="#0071ff"/><path d="M223.2 236.3l3.4 3.5l3.3-4l-3.3-3.7z" fill="#00ceff"/><path d="M229.1 235.8l3.3 3.7l3.4-3.9l-3.4-3.8z" fill="#10ffef"/><path d="M246.6 236.8l3.3 3.7l3.4-2.9l-3.4-3.8z" fill="#3fffc0"/><path d="M252.4 237.5l3.4 3.7l3.3-3.1l-3.3-3.7z" fill="#48ffb7"/><path d="M237.8 239l3.4 3.5l3.3-3l-3.3-3.6z" fill="#17ffe8"/><path d="M214.5 240.9l3.3 3.1l3.4-4.2l-3.4-3.5z" fill="#0045ff"/><path d="M185.3 242.9l3.4 3.4l3.3-2.9l-3.3-3.5z" fill="#23ffdc"/><path d="M191.1 243.4l3.4 3.5l3.4-2.7l-3.4-3.7z" fill="#06fff9"/><path d="M197 244l3.3 3.7l3.4-2.6l-3.4-3.8z" fill="#00efff"/><path d="M208.7 242.6l3.3 2.7l3.4-4.6l-3.4-3.1z" fill="#005dff"/><path d="M220.3 239.9l3.4 3.4l3.3-4l-3.3-3.5z" fill="#0073ff"/><path d="M226.1 239.4l3.4 3.5l3.4-3.9l-3.4-3.6z" fill="#00b9ff"/><path d="M232 239l3.3 3.7l3.4-3.7l-3.4-3.8z" fill="#00f4ff"/><path d="M243.6 239.4l3.4 3.6l3.4-2.9l-3.4-3.7z" fill="#24ffdb"/><path d="M202.8 245.2l3.4 2.2l3.3-5.1l-3.3-2.6z" fill="#00abff"/><path d="M249.5 240l3.3 3.7l3.4-2.8l-3.4-3.8z" fill="#2effd1"/><path d="M211.6 245l3.3 2.7l3.4-4.2l-3.4-3.2z" fill="#004aff"/><path d="M223.2 242.9l3.4 3.4l3.3-3.9l-3.3-3.5z" fill="#0063ff"/><path d="M229.1 242.5l3.3 3.5l3.4-3.7l-3.4-3.7z" fill="#00a4ff"/><path d="M234.9 242.3l3.3 3.4l3.4-3.6l-3.4-3.5z" fill="#00e2ff"/><path d="M240.7 242l3.4 3.6l3.3-3l-3.3-3.6z" fill="#09fff6"/><path d="M188.2 245.8l3.4 3.5l3.3-2.8l-3.3-3.5z" fill="#0bfff4"/><path d="M194.1 246.4l3.3 3.6l3.4-2.7l-3.4-3.6z" fill="#00f0ff"/><path d="M205.7 247.1l3.4 2.3l3.3-4.7l-3.3-2.6z" fill="#007dff"/><path d="M199.9 247.3l3.3 2.4l3.4-2.8l-3.4-2.3z" fill="#00c8ff"/><path d="M217.4 243.6l3.4 3.3l3.3-4.1l-3.3-3.3z" fill="#003fff"/><path d="M246.6 242.6l3.3 3.6l3.4-2.9l-3.4-3.7z" fill="#14ffeb"/><path d="M226.1 245.9l3.4 3.3l3.4-3.7l-3.4-3.5z" fill="#0053ff"/><path d="M232 245.6l3.3 3.3l3.4-3.7l-3.4-3.4z" fill="#0096ff"/><path d="M191.1 248.8l3.4 3.4l3.4-2.6l-3.4-3.6z" fill="#00f2ff"/><path d="M208.7 249.1l3.3 2.2l3.4-4.2l-3.4-2.7z" fill="#004eff"/><path d="M202.8 249.2l3.4 2.4l3.3-2.7l-3.3-2.4z" fill="#008eff"/><path d="M220.3 246.5l3.4 3.3l3.3-4l-3.3-3.4z" fill="#002dff"/><path d="M197 249.6l3.3 2.3l3.4-2.7l-3.4-2.4z" fill="#00caff"/><path d="M214.5 247.3l3.3 3.1l3.4-4l-3.4-3.3z" fill="#0032ff"/><path d="M237.8 245.3l3.4 3.4l3.3-3.6l-3.3-3.5z" fill="#00d6ff"/><path d="M243.6 245.1l3.4 3.5l3.4-2.8l-3.4-3.6z" fill="#00f9ff"/><path d="M229.1 248.8l3.3 3.3l3.4-3.7l-3.4-3.3z" fill="#004aff"/><path d="M205.7 251.2l3.4 2.3l3.3-2.6l-3.3-2.4z" fill="#0054ff"/><path d="M223.2 249.3l3.4 3.3l3.3-3.8l-3.3-3.4z" fill="#001aff"/><path d="M199.9 251.5l3.3 2.3l3.4-2.7l-3.4-2.3z" fill="#0093ff"/><path d="M217.4 250.1l3.3 3.1l3.4-3.9l-3.3-3.3z" fill="#0016ff"/><path d="M234.9 248.5l3.3 3.3l3.4-3.5l-3.4-3.5z" fill="#008fff"/><path d="M194.1 251.8l3.3 2.3l3.4-2.7l-3.4-2.3z" fill="#00cbff"/><path d="M211.6 251l3.3 3l3.4-4.1l-3.4-3.1z" fill="#0024ff"/><path d="M240.7 248.3l3.4 3.4l3.3-3.5l-3.3-3.5z" fill="#00cbff"/><path d="M202.8 253.4l3.4 2.3l3.3-2.7l-3.3-2.3z" fill="#005bff"/><path d="M220.3 252.8l3.4 3.2l3.3-3.9l-3.3-3.2z" fill="#0000f9"/><path d="M226.1 252.2l3.4 3l3.4-3.6l-3.4-3.2z" fill="#0010ff"/><path d="M232 251.7l3.3 3.3l3.4-3.6l-3.4-3.4z" fill="#0047ff"/><path d="M197 253.7l3.3 2.3l3.4-2.7l-3.4-2.3z" fill="#0097ff"/><path d="M214.5 253.6l3.3 3.1l3.4-4l-3.4-3.1z" fill="#0000fe"/><path d="M208.6 253l3.4 3.1l3.4-2.5l-3.4-3.1z" fill="#0022ff"/><path d="M237.8 251.4l3.4 3.4l3.3-3.5l-3.3-3.5z" fill="#0088ff"/><path d="M223.2 255.6l3.4 2.6l3.3-3.6l-3.3-2.9z" fill="#0000e8"/><path d="M199.9 255.6l3.3 2.2l3.4-2.6l-3.4-2.3z" fill="#0062ff"/><path d="M217.4 256.3l3.4 3l3.3-3.8l-3.4-3.2z" fill="#0000d8"/><path d="M205.7 255.2l3.4 3l3.3-2.5l-3.3-3.1z" fill="#002aff"/><path d="M211.6 255.6l3.3 3.1l3.4-2.4l-3.4-3.2z" fill="#0000f6"/><path d="M229.1 254.7l3.3 3l3.4-3.2l-3.4-3.3z" fill="#000fff"/><path d="M234.9 254.6l3.3 3.2l3.4-3.5l-3.4-3.4z" fill="#0045ff"/><path d="M220.3 259l3.4 2.2l3.3-3.5l-3.3-2.6z" fill="#0000c2"/><path d="M208.6 257.7l3.4 3l3.4-2.4l-3.4-3.1z" fill="#0000ff"/><path d="M214.5 258.2l3.3 3.1l3.4-2.3l-3.4-3.2z" fill="#0000cc"/><path d="M226.1 257.8l3.4 2.6l3.4-3.2l-3.4-2.9z" fill="#0000e4"/><path d="M202.8 257.4l3.4 2.9l3.3-2.5l-3.3-3z" fill="#0033ff"/><path d="M232 257.2l3.3 3l3.4-2.8l-3.4-3.3z" fill="#000dff"/><path d="M211.6 260.3l3.3 3l3.4-2.4l-3.4-3.1z" fill="#0000d5"/><path d="M217.4 260.9l3.4 2.3l3.3-2.4l-3.3-2.4z" fill="#0000b1"/><path d="M205.7 259.8l3.4 3l3.3-2.5l-3.3-3z" fill="#0008ff"/><path d="M223.2 260.8l3.4 2.3l3.3-3.2l-3.3-2.6z" fill="#0000bb"/><path d="M229.1 260l3.3 2.6l3.4-2.8l-3.4-3z" fill="#0000e0"/><path d="M214.5 262.8l3.3 2.3l3.4-2.4l-3.4-2.3z" fill="#0000b7"/><path d="M208.6 262.3l3.4 2.9l3.4-2.3l-3.4-3.1z" fill="#0000dd"/><path d="M220.3 262.7l3.4 2.3l3.3-2.4l-3.3-2.3z" fill="#0000a6"/><path d="M226.1 262.7l3.4 2.2l3.4-2.8l-3.4-2.6z" fill="#0000b3"/><path d="M211.6 264.8l3.3 2.2l3.4-2.4l-3.4-2.2z" fill="#0000bc"/><path d="M217.4 264.6l3.4 2.3l3.3-2.4l-3.3-2.2z" fill="#0000a6"/><path d="M223.2 264.5l3.4 2.3l3.3-2.3l-3.3-2.3z" fill="#00009a"/><path d="M214.5 266.6l3.3 2.2l3.4-2.4l-3.4-2.2z" fill="#0000a6"/><path d="M220.3 266.4l3.4 2.3l3.3-2.3l-3.3-2.3z" fill="#000095"/><path d="M217.4 268.3l3.4 2.3l3.3-2.4l-3.3-2.2z" fill="#00008f"/></g><polyline points="177,234.6 185.8,226" fill="none" stroke="#fff" stroke-width="0.55" stroke-opacity="0.18"/><polyline points="177,234.6 185.8,242.9" fill="none" stroke="#fff" stroke-width="0.55" stroke-opacity="0.22"/><polyline points="185.8,226 194.5,209.9" fill="none" stroke="#fff" stroke-width="0.55" stroke-opacity="0.16"/><polyline points="185.8,242.9 194.5,251.8" fill="none" stroke="#fff" stroke-width="0.55" stroke-opacity="0.32"/><polyline points="194.5,209.9 203.2,201" fill="none" stroke="#fff" stroke-width="0.55" stroke-opacity="0.1"/><polyline points="194.5,251.8 203.2,257.4" fill="none" stroke="#fff" stroke-width="0.55" stroke-opacity="0.49"/><polyline points="203.2,201 212,194.5" fill="none" stroke="#fff" stroke-width="0.55" stroke-opacity="0.1"/><polyline points="203.2,257.4 212,264.8" fill="none" stroke="#fff" stroke-width="0.55" stroke-opacity="0.65"/><polyline points="212,194.5 220.8,192.5" fill="none" stroke="#fff" stroke-width="0.55" stroke-opacity="0.1"/><polyline points="212,264.8 220.8,270.1" fill="none" stroke="#fff" stroke-width="0.55" stroke-opacity="0.65"/><polyline points="185.8,242.9 194.5,235.2" fill="none" stroke="#fff" stroke-width="0.55" stroke-opacity="0.28"/><polyline points="185.8,226 194.5,235.2" fill="none" stroke="#fff" stroke-width="0.55" stroke-opacity="0.24"/><polyline points="194.5,235.2 203.2,219.4" fill="none" stroke="#fff" stroke-width="0.55" stroke-opacity="0.39"/><polyline points="194.5,235.2 203.2,245" fill="none" stroke="#fff" stroke-width="0.55" stroke-opacity="0.34"/><polyline points="203.2,219.4 212,209.6" fill="none" stroke="#fff" stroke-width="0.55" stroke-opacity="0.32"/><polyline points="203.2,245 212,250.9" fill="none" stroke="#fff" stroke-width="0.55" stroke-opacity="0.51"/><polyline points="212,209.6 220.8,202.2" fill="none" stroke="#fff" stroke-width="0.55" stroke-opacity="0.1"/><polyline points="212,250.9 220.8,258.9" fill="none" stroke="#fff" stroke-width="0.55" stroke-opacity="0.65"/><polyline points="220.8,202.2 229.5,200.5" fill="none" stroke="#fff" stroke-width="0.55" stroke-opacity="0.1"/><polyline points="220.8,258.9 229.5,264.5" fill="none" stroke="#fff" stroke-width="0.55" stroke-opacity="0.65"/><polyline points="194.5,251.8 203.2,245" fill="none" stroke="#fff" stroke-width="0.55" stroke-opacity="0.38"/><polyline points="194.5,209.9 203.2,219.4" fill="none" stroke="#fff" stroke-width="0.55" stroke-opacity="0.32"/><polyline points="203.2,245 212,230.4" fill="none" stroke="#fff" stroke-width="0.55" stroke-opacity="0.54"/><polyline points="203.2,219.4 212,230.4" fill="none" stroke="#fff" stroke-width="0.55" stroke-opacity="0.6"/><polyline points="212,230.4 220.8,219.1" fill="none" stroke="#fff" stroke-width="0.55" stroke-opacity="0.42"/><polyline points="212,230.4 220.8,239.9" fill="none" stroke="#fff" stroke-width="0.55" stroke-opacity="0.65"/><polyline points="220.8,219.1 229.5,212" fill="none" stroke="#fff" stroke-width="0.55" stroke-opacity="0.1"/><polyline points="220.8,239.9 229.5,248.8" fill="none" stroke="#fff" stroke-width="0.55" stroke-opacity="0.64"/><polyline points="229.5,212 238.2,207.9" fill="none" stroke="#fff" stroke-width="0.55" stroke-opacity="0.1"/><polyline points="229.5,248.8 238.2,257.4" fill="none" stroke="#fff" stroke-width="0.55" stroke-opacity="0.65"/><polyline points="203.2,257.4 212,250.9" fill="none" stroke="#fff" stroke-width="0.55" stroke-opacity="0.63"/><polyline points="203.2,201 212,209.6" fill="none" stroke="#fff" stroke-width="0.55" stroke-opacity="0.1"/><polyline points="212,250.9 220.8,239.9" fill="none" stroke="#fff" stroke-width="0.55" stroke-opacity="0.63"/><polyline points="212,209.6 220.8,219.1" fill="none" stroke="#fff" stroke-width="0.55" stroke-opacity="0.14"/><polyline points="220.8,239.9 229.5,228.9" fill="none" stroke="#fff" stroke-width="0.55" stroke-opacity="0.39"/><polyline points="220.8,219.1 229.5,228.9" fill="none" stroke="#fff" stroke-width="0.55" stroke-opacity="0.16"/><polyline points="229.5,228.9 238.2,220.6" fill="none" stroke="#fff" stroke-width="0.55" stroke-opacity="0.1"/><polyline points="229.5,228.9 238.2,239" fill="none" stroke="#fff" stroke-width="0.55" stroke-opacity="0.25"/><polyline points="238.2,220.6 247,215.9" fill="none" stroke="#fff" stroke-width="0.55" stroke-opacity="0.1"/><polyline points="238.2,239 247,248.2" fill="none" stroke="#fff" stroke-width="0.55" stroke-opacity="0.34"/><polyline points="212,264.8 220.8,258.9" fill="none" stroke="#fff" stroke-width="0.55" stroke-opacity="0.65"/><polyline points="212,194.5 220.8,202.2" fill="none" stroke="#fff" stroke-width="0.55" stroke-opacity="0.1"/><polyline points="220.8,258.9 229.5,248.8" fill="none" stroke="#fff" stroke-width="0.55" stroke-opacity="0.65"/><polyline points="220.8,202.2 229.5,212" fill="none" stroke="#fff" stroke-width="0.55" stroke-opacity="0.1"/><polyline points="229.5,248.8 238.2,239" fill="none" stroke="#fff" stroke-width="0.55" stroke-opacity="0.49"/><polyline points="229.5,212 238.2,220.6" fill="none" stroke="#fff" stroke-width="0.55" stroke-opacity="0.1"/><polyline points="238.2,239 247,231" fill="none" stroke="#fff" stroke-width="0.55" stroke-opacity="0.25"/><polyline points="238.2,220.6 247,231" fill="none" stroke="#fff" stroke-width="0.55" stroke-opacity="0.1"/><polyline points="247,231 255.8,223.6" fill="none" stroke="#fff" stroke-width="0.55" stroke-opacity="0.14"/><polyline points="247,231 255.8,240.8" fill="none" stroke="#fff" stroke-width="0.55" stroke-opacity="0.22"/><polyline points="220.8,270.1 229.5,264.5" fill="none" stroke="#fff" stroke-width="0.55" stroke-opacity="0.65"/><polyline points="220.8,192.5 229.5,200.5" fill="none" stroke="#fff" stroke-width="0.55" stroke-opacity="0.1"/><polyline points="229.5,264.5 238.2,257.4" fill="none" stroke="#fff" stroke-width="0.55" stroke-opacity="0.65"/><polyline points="229.5,200.5 238.2,207.9" fill="none" stroke="#fff" stroke-width="0.55" stroke-opacity="0.1"/><polyline points="238.2,257.4 247,248.2" fill="none" stroke="#fff" stroke-width="0.55" stroke-opacity="0.52"/><polyline points="238.2,207.9 247,215.9" fill="none" stroke="#fff" stroke-width="0.55" stroke-opacity="0.1"/><polyline points="247,248.2 255.8,240.8" fill="none" stroke="#fff" stroke-width="0.55" stroke-opacity="0.32"/><polyline points="247,215.9 255.8,223.6" fill="none" stroke="#fff" stroke-width="0.55" stroke-opacity="0.1"/><polyline points="255.8,240.8 264.5,232.5" fill="none" stroke="#fff" stroke-width="0.55" stroke-opacity="0.2"/><polyline points="255.8,223.6 264.5,232.5" fill="none" stroke="#fff" stroke-width="0.55" stroke-opacity="0.12"/><circle cx="177" cy="234.6" r="0.75" fill="#222" fill-opacity="0.8"/><circle cx="185.8" cy="226" r="0.75" fill="#222" fill-opacity="0.8"/><circle cx="194.5" cy="209.9" r="0.75" fill="#222" fill-opacity="0.8"/><circle cx="203.2" cy="201" r="0.75" fill="#222" fill-opacity="0.8"/><circle cx="212" cy="194.5" r="0.75" fill="#222" fill-opacity="0.8"/><circle cx="220.8" cy="192.5" r="0.75" fill="#222" fill-opacity="0.8"/><circle cx="185.8" cy="242.9" r="0.75" fill="#222" fill-opacity="0.8"/><circle cx="194.5" cy="235.2" r="0.75" fill="#222" fill-opacity="0.8"/><circle cx="203.2" cy="219.4" r="0.75" fill="#222" fill-opacity="0.8"/><circle cx="212" cy="209.6" r="0.75" fill="#222" fill-opacity="0.8"/><circle cx="220.8" cy="202.2" r="0.75" fill="#222" fill-opacity="0.8"/><circle cx="229.5" cy="200.5" r="0.75" fill="#222" fill-opacity="0.8"/><circle cx="194.5" cy="251.8" r="0.75" fill="#222" fill-opacity="0.8"/><circle cx="203.2" cy="245" r="0.75" fill="#222" fill-opacity="0.8"/><circle cx="212" cy="230.4" r="0.75" fill="#222" fill-opacity="0.8"/><circle cx="220.8" cy="219.1" r="0.75" fill="#222" fill-opacity="0.8"/><circle cx="229.5" cy="212" r="0.75" fill="#222" fill-opacity="0.8"/><circle cx="238.2" cy="207.9" r="0.75" fill="#222" fill-opacity="0.8"/><circle cx="203.2" cy="257.4" r="0.75" fill="#222" fill-opacity="0.8"/><circle cx="212" cy="250.9" r="0.75" fill="#222" fill-opacity="0.8"/><circle cx="220.8" cy="239.9" r="0.75" fill="#222" fill-opacity="0.8"/><circle cx="229.5" cy="228.9" r="0.75" fill="#222" fill-opacity="0.8"/><circle cx="238.2" cy="220.6" r="0.75" fill="#222" fill-opacity="0.8"/><circle cx="247" cy="215.9" r="0.75" fill="#222" fill-opacity="0.8"/><circle cx="212" cy="264.8" r="0.75" fill="#222" fill-opacity="0.8"/><circle cx="220.8" cy="258.9" r="0.75" fill="#222" fill-opacity="0.8"/><circle cx="229.5" cy="248.8" r="0.75" fill="#222" fill-opacity="0.8"/><circle cx="238.2" cy="239" r="0.75" fill="#222" fill-opacity="0.8"/><circle cx="247" cy="231" r="0.75" fill="#222" fill-opacity="0.8"/><circle cx="255.8" cy="223.6" r="0.75" fill="#222" fill-opacity="0.8"/><circle cx="220.8" cy="270.1" r="0.75" fill="#222" fill-opacity="0.8"/><circle cx="229.5" cy="264.5" r="0.75" fill="#222" fill-opacity="0.8"/><circle cx="238.2" cy="257.4" r="0.75" fill="#222" fill-opacity="0.8"/><circle cx="247" cy="248.2" r="0.75" fill="#222" fill-opacity="0.8"/><circle cx="255.8" cy="240.8" r="0.75" fill="#222" fill-opacity="0.8"/><circle cx="264.5" cy="232.5" r="0.75" fill="#222" fill-opacity="0.8"/><polyline points="177,247.5 220.8,272.5 264.5,247.5" fill="none" stroke="#8c8c8c" stroke-width="0.55"/><polyline points="177,247.5 177,213" fill="none" stroke="#8c8c8c" stroke-width="0.55"/></g>
<line x1="174.5" y1="247.5" x2="177" y2="247.5" stroke="#8c8c8c" stroke-width="0.5"/>
<text x="174.7" y="249.4" text-anchor="end" fill="#222" style="stroke:#222" font-size="4.8">0</text>
<line x1="174.5" y1="232.5" x2="177" y2="232.5" stroke="#8c8c8c" stroke-width="0.5"/>
<text x="174.7" y="234.4" text-anchor="end" fill="#222" style="stroke:#222" font-size="4.8">50</text>
<line x1="174.5" y1="217.5" x2="177" y2="217.5" stroke="#8c8c8c" stroke-width="0.5"/>
<text x="174.7" y="219.4" text-anchor="end" fill="#222" style="stroke:#222" font-size="4.8">100</text>
<line x1="177" y1="247.5" x2="175.4" y2="248.7" stroke="#8c8c8c" stroke-width="0.5"/>
<text x="173.1" y="253.8" text-anchor="middle" fill="#222" style="stroke:#222" font-size="4.8">0</text>
<line x1="185.8" y1="252.5" x2="184.2" y2="253.7" stroke="#8c8c8c" stroke-width="0.5"/>
<text x="181.8" y="258.8" text-anchor="middle" fill="#222" style="stroke:#222" font-size="4.8">1</text>
<line x1="194.5" y1="257.5" x2="192.9" y2="258.7" stroke="#8c8c8c" stroke-width="0.5"/>
<text x="190.6" y="263.8" text-anchor="middle" fill="#222" style="stroke:#222" font-size="4.8">2</text>
<line x1="203.2" y1="262.5" x2="201.7" y2="263.7" stroke="#8c8c8c" stroke-width="0.5"/>
<text x="199.3" y="268.8" text-anchor="middle" fill="#222" style="stroke:#222" font-size="4.8">4</text>
<line x1="212" y1="267.5" x2="210.4" y2="268.7" stroke="#8c8c8c" stroke-width="0.5"/>
<text x="208.1" y="273.8" text-anchor="middle" fill="#222" style="stroke:#222" font-size="4.8">6</text>
<line x1="220.8" y1="272.5" x2="219.2" y2="273.7" stroke="#8c8c8c" stroke-width="0.5"/>
<text x="216.8" y="278.8" text-anchor="middle" fill="#222" style="stroke:#222" font-size="4.8">9</text>
<line x1="220.8" y1="272.5" x2="222.3" y2="273.7" stroke="#8c8c8c" stroke-width="0.5"/>
<text x="222.9" y="279.8" fill="#222" style="stroke:#222" font-size="4.8">10</text>
<line x1="229.5" y1="267.5" x2="231.1" y2="268.7" stroke="#8c8c8c" stroke-width="0.5"/>
<text x="231.7" y="274.8" fill="#222" style="stroke:#222" font-size="4.8">5</text>
<line x1="238.2" y1="262.5" x2="239.8" y2="263.7" stroke="#8c8c8c" stroke-width="0.5"/>
<text x="240.4" y="269.8" fill="#222" style="stroke:#222" font-size="4.8">2.5</text>
<line x1="247" y1="257.5" x2="248.6" y2="258.7" stroke="#8c8c8c" stroke-width="0.5"/>
<text x="249.2" y="264.8" fill="#222" style="stroke:#222" font-size="4.8">1</text>
<line x1="255.8" y1="252.5" x2="257.4" y2="253.7" stroke="#8c8c8c" stroke-width="0.5"/>
<text x="257.9" y="259.8" fill="#222" style="stroke:#222" font-size="4.8">0.5</text>
<line x1="264.5" y1="247.5" x2="266.1" y2="248.7" stroke="#8c8c8c" stroke-width="0.5"/>
<text x="266.7" y="254.8" fill="#222" style="stroke:#222" font-size="4.8">0</text>
<text x="188.3" y="276.7" text-anchor="middle" fill="#222" style="stroke:#222" font-size="6.1">Cis (<tspan font-size="5" font-family="Liberation Serif, serif">μ</tspan>mol/L)</text>
<text x="267.7" y="270" text-anchor="middle" fill="#222" style="stroke:#222" font-size="6.1">Enti (<tspan font-size="5" font-family="Liberation Serif, serif">μ</tspan>mol/L)</text>
<text x="219.2" y="185.8" text-anchor="middle" font-size="9.7">H372</text>
<g><polyline points="288.8,247.5 332.5,222.5" fill="none" stroke="#e9e9e9" stroke-width="0.5"/><polyline points="288.8,247.5 332,272.5" fill="none" stroke="#e9e9e9" stroke-width="0.5"/><polyline points="297.4,252.5 341.1,227.5" fill="none" stroke="#e9e9e9" stroke-width="0.5"/><polyline points="297.5,242.5 340.8,267.5" fill="none" stroke="#e9e9e9" stroke-width="0.5"/><polyline points="306.1,257.5 349.8,232.5" fill="none" stroke="#e9e9e9" stroke-width="0.5"/><polyline points="306.2,237.5 349.5,262.5" fill="none" stroke="#e9e9e9" stroke-width="0.5"/><polyline points="314.7,262.5 358.4,237.5" fill="none" stroke="#e9e9e9" stroke-width="0.5"/><polyline points="315,232.5 358.2,257.5" fill="none" stroke="#e9e9e9" stroke-width="0.5"/><polyline points="323.4,267.5 367.1,242.5" fill="none" stroke="#e9e9e9" stroke-width="0.5"/><polyline points="323.8,227.5 367,252.5" fill="none" stroke="#e9e9e9" stroke-width="0.5"/><polyline points="332,272.5 375.8,247.5" fill="none" stroke="#e9e9e9" stroke-width="0.5"/><polyline points="332.5,222.5 375.8,247.5" fill="none" stroke="#e9e9e9" stroke-width="0.5"/><polyline points="288.8,247.5 288.8,213" fill="none" stroke="#e9e9e9" stroke-width="0.5"/><polyline points="332.5,222.5 332.5,188" fill="none" stroke="#e9e9e9" stroke-width="0.5"/><polyline points="297.5,242.5 297.5,208" fill="none" stroke="#e9e9e9" stroke-width="0.5"/><polyline points="341.1,227.5 341.1,193" fill="none" stroke="#e9e9e9" stroke-width="0.5"/><polyline points="306.2,237.5 306.2,203" fill="none" stroke="#e9e9e9" stroke-width="0.5"/><polyline points="349.8,232.5 349.8,198" fill="none" stroke="#e9e9e9" stroke-width="0.5"/><polyline points="315,232.5 315,198" fill="none" stroke="#e9e9e9" stroke-width="0.5"/><polyline points="358.4,237.5 358.4,203" fill="none" stroke="#e9e9e9" stroke-width="0.5"/><polyline points="323.8,227.5 323.8,193" fill="none" stroke="#e9e9e9" stroke-width="0.5"/><polyline points="367.1,242.5 367.1,208" fill="none" stroke="#e9e9e9" stroke-width="0.5"/><polyline points="332.5,222.5 332.5,188" fill="none" stroke="#e9e9e9" stroke-width="0.5"/><polyline points="375.8,247.5 375.8,213" fill="none" stroke="#e9e9e9" stroke-width="0.5"/><polyline points="288.8,247.5 332.5,222.5 375.8,247.5" fill="none" stroke="#e9e9e9" stroke-width="0.5"/><polyline points="288.8,232.5 332.5,207.5 375.8,232.5" fill="none" stroke="#e9e9e9" stroke-width="0.5"/><polyline points="288.8,217.5 332.5,192.5 375.8,217.5" fill="none" stroke="#e9e9e9" stroke-width="0.5"/><g filter="url(#sm)"><path d="M329.1 193.1l3.4 2.5l3.3-2l-3.3-2.4z" fill="#d0ff2f"/><path d="M332 195.1l3.3 2.5l3.4-2l-3.3-2.5z" fill="#d0ff2f"/><path d="M326.2 194.7l3.3 2.5l3.4-2l-3.3-2.5z" fill="#d9ff26"/><path d="M334.9 197.1l3.3 2.5l3.4-2.1l-3.3-2.4z" fill="#d0ff2f"/><path d="M329.1 196.7l3.3 2.5l3.4-2l-3.3-2.5z" fill="#d9ff26"/><path d="M323.3 196.3l3.3 2.5l3.4-2l-3.3-2.5z" fill="#e1ff1e"/><path d="M337.8 199.1l3.3 2.4l3.4-2l-3.3-2.4z" fill="#cbff34"/><path d="M332 198.8l3.3 2.5l3.4-2.1l-3.3-2.5z" fill="#d9ff26"/><path d="M320.4 197.8l3.3 2.6l3.4-2l-3.3-2.5z" fill="#e1ff1e"/><path d="M326.2 198.3l3.3 2.6l3.4-2.1l-3.3-2.5z" fill="#e1ff1e"/><path d="M340.7 201.1l3.3 2.4l3.4-2l-3.4-2.5z" fill="#c1ff3e"/><path d="M317.5 199.4l3.3 2.6l3.4-2l-3.4-2.6z" fill="#d7ff28"/><path d="M334.9 200.8l3.3 2.4l3.4-2.1l-3.4-2.4z" fill="#d2ff2d"/><path d="M323.3 199.9l3.3 2.6l3.4-2l-3.4-2.6z" fill="#e0ff1f"/><path d="M329.1 200.4l3.3 2.5l3.4-2l-3.4-2.5z" fill="#e1ff1e"/><path d="M343.6 203l3.3 2.4l3.3-2l-3.3-2.4z" fill="#b7ff48"/><path d="M314.6 201l3.3 2.6l3.3-2l-3.3-2.6z" fill="#ceff31"/><path d="M320.4 201.5l3.3 2.6l3.3-2l-3.3-2.6z" fill="#d5ff2a"/><path d="M326.2 202l3.3 2.6l3.3-2.1l-3.3-2.5z" fill="#dfff20"/><path d="M337.8 202.7l3.3 2.4l3.3-2l-3.3-2.4z" fill="#c6ff39"/><path d="M332 202.5l3.3 2.3l3.3-2l-3.3-2.4z" fill="#d9ff26"/><path d="M317.4 203.1l3.4 2.7l3.3-2.1l-3.3-2.6z" fill="#caff35"/><path d="M323.2 203.7l3.4 2.6l3.3-2.1l-3.3-2.6z" fill="#d2ff2d"/><path d="M340.6 204.6l3.4 2.4l3.3-2l-3.3-2.4z" fill="#b9ff46"/><path d="M346.4 204.9l3.4 3.2l3.3-2.1l-3.3-3z" fill="#aeff51"/><path d="M311.6 202.6l3.4 2.7l3.3-2.1l-3.3-2.6z" fill="#c5ff3a"/><path d="M329 204.2l3.4 2.3l3.3-2.1l-3.3-2.3z" fill="#d7ff28"/><path d="M334.8 204.3l3.4 2.4l3.3-2l-3.3-2.4z" fill="#caff35"/><path d="M320.3 205.3l3.3 2.6l3.4-2l-3.3-2.6z" fill="#c6ff39"/><path d="M349.3 207.6l3.3 3.3l3.4-2.3l-3.3-3.1z" fill="#a6ff59"/><path d="M308.7 204.3l3.3 2.8l3.4-2.2l-3.3-2.7z" fill="#bcff43"/><path d="M326.1 205.8l3.3 2.3l3.4-2.1l-3.3-2.3z" fill="#caff35"/><path d="M314.5 204.9l3.3 2.7l3.4-2.2l-3.3-2.7z" fill="#bfff40"/><path d="M331.9 206l3.3 2.3l3.4-2.1l-3.3-2.3z" fill="#c6ff39"/><path d="M337.7 206.2l3.3 2.3l3.4-1.9l-3.3-2.4z" fill="#baff45"/><path d="M343.5 206.4l3.3 3.5l3.4-2.1l-3.3-3.3z" fill="#aeff51"/><path d="M352.2 210.4l3.3 3.2l3.4-2.5l-3.3-3z" fill="#9dff62"/><path d="M305.8 205.9l3.3 2.9l3.4-2.1l-3.3-2.8z" fill="#b3ff4c"/><path d="M323.2 207.5l3.3 2.3l3.4-2.1l-3.3-2.3z" fill="#bdff42"/><path d="M311.6 206.6l3.3 2.8l3.4-2.2l-3.3-2.7z" fill="#b5ff4a"/><path d="M329 207.7l3.3 2.3l3.4-2.1l-3.3-2.3z" fill="#bbff44"/><path d="M346.4 209.4l3.3 3.4l3.4-2.3l-3.3-3.2z" fill="#a6ff59"/><path d="M317.4 207.1l3.3 2.7l3.4-2.3l-3.3-2.6z" fill="#baff45"/><path d="M334.8 207.9l3.3 2.3l3.4-2.1l-3.3-2.3z" fill="#b6ff49"/><path d="M340.6 208l3.3 3.6l3.4-2.1l-3.3-3.4z" fill="#aeff51"/><path d="M308.7 208.3l3.3 2.9l3.4-2.2l-3.3-2.8z" fill="#abff54"/><path d="M326.1 209.4l3.3 2.3l3.4-2.1l-3.3-2.3z" fill="#b0ff4f"/><path d="M349.3 212.3l3.3 3.4l3.4-2.5l-3.3-3.2z" fill="#9dff62"/><path d="M355.1 213.1l3.3 3.4l3.4-2.4l-3.3-3.4z" fill="#95ff6a"/><path d="M314.5 208.9l3.3 2.8l3.4-2.3l-3.3-2.7z" fill="#aeff51"/><path d="M331.9 209.6l3.3 2.3l3.4-2.1l-3.3-2.3z" fill="#adff52"/><path d="M302.9 208.2l3.3 2.5l3.4-2.3l-3.3-2.8z" fill="#aaff55"/><path d="M320.3 209.4l3.3 2.2l3.4-2.2l-3.3-2.3z" fill="#b0ff4f"/><path d="M337.7 209.7l3.3 3.6l3.4-2l-3.3-3.6z" fill="#a9ff56"/><path d="M343.5 211.1l3.3 3.6l3.4-2.3l-3.3-3.4z" fill="#a6ff59"/><path d="M358 216l3.3 3.3l3.4-2.2l-3.4-3.5z" fill="#8cff73"/><path d="M311.6 210.7l3.3 2.8l3.4-2.2l-3.4-2.8z" fill="#a3ff5c"/><path d="M329 211.2l3.3 2.3l3.4-2.1l-3.4-2.3z" fill="#a4ff5b"/><path d="M317.4 211.2l3.3 2.3l3.4-2.3l-3.4-2.3z" fill="#a4ff5b"/><path d="M300 210.3l3.3 2.4l3.4-2.4l-3.4-2.6z" fill="#a2ff5e"/><path d="M305.8 210.3l3.3 2.6l3.4-2.1l-3.4-2.9z" fill="#a2ff5e"/><path d="M323.2 211.2l3.3 2.3l3.4-2.3l-3.4-2.3z" fill="#a4ff5b"/><path d="M334.8 211.3l3.3 3.8l3.4-2.1l-3.4-3.7z" fill="#9fff60"/><path d="M340.6 212.8l3.3 3.7l3.4-2.2l-3.4-3.6z" fill="#9fff60"/><path d="M346.4 214.2l3.3 3.5l3.4-2.4l-3.4-3.4z" fill="#9dff62"/><path d="M352.2 215.2l3.3 3.2l3.4-2.3l-3.4-3.4z" fill="#95ff6a"/><path d="M360.9 218.8l3.3 3.4l3.3-2.1l-3.3-3.5z" fill="#84ff7b"/><path d="M314.5 213.1l3.3 2.2l3.3-2.3l-3.3-2.2z" fill="#97ff68"/><path d="M302.9 212.2l3.3 2.4l3.3-2.1l-3.3-2.6z" fill="#99ff66"/><path d="M308.7 212.4l3.3 2.6l3.3-1.8l-3.3-2.9z" fill="#99ff66"/><path d="M320.3 213l3.3 2.3l3.3-2.3l-3.3-2.2z" fill="#95ff6a"/><path d="M331.9 213l3.3 3.8l3.3-2.1l-3.3-3.7z" fill="#95ff6a"/><path d="M337.7 214.5l3.3 3.8l3.3-2.2l-3.3-3.6z" fill="#93ff6c"/><path d="M343.5 215.9l3.3 3.7l3.3-2.2l-3.3-3.6z" fill="#95ff6a"/><path d="M355.1 217.9l3.3 3.3l3.3-2.2l-3.3-3.4z" fill="#8cff73"/><path d="M297.1 212.5l3.3 2.1l3.3-2.4l-3.3-2.3z" fill="#99ff66"/><path d="M326.1 213l3.3 2.3l3.3-2.2l-3.3-2.3z" fill="#97ff68"/><path d="M349.3 217.2l3.3 3.2l3.3-2.3l-3.3-3.3z" fill="#95ff6a"/><path d="M363.7 221.7l3.4 3.4l3.3-2l-3.3-3.5z" fill="#7fff80"/><path d="M317.3 214.9l3.4 2.2l3.3-2.3l-3.3-2.2z" fill="#87ff78"/><path d="M334.7 216.3l3.4 3.8l3.3-2.2l-3.3-3.7z" fill="#86ff79"/><path d="M340.5 217.7l3.4 3.8l3.3-2.2l-3.3-3.7z" fill="#86ff79"/><path d="M357.9 220.7l3.4 3.3l3.3-2.2l-3.3-3.3z" fill="#84ff7b"/><path d="M305.7 214.1l3.4 2.4l3.3-1.9l-3.3-2.6z" fill="#91ff6e"/><path d="M311.5 214.5l3.4 2.7l3.3-2.3l-3.3-2.2z" fill="#8cff73"/><path d="M323.1 214.8l3.4 2.3l3.3-2.2l-3.3-2.3z" fill="#87ff78"/><path d="M294.2 216l3.3 2l3.3-4l-3.3-1.9z" fill="#91ff6e"/><path d="M299.9 214.2l3.4 2.1l3.3-2.2l-3.3-2.3z" fill="#91ff6e"/><path d="M328.9 214.7l3.4 4l3.3-2.2l-3.3-3.8z" fill="#89ff76"/><path d="M346.3 219.1l3.4 3.1l3.3-2.2l-3.3-3.1z" fill="#8cff73"/><path d="M352.1 219.9l3.4 3.2l3.3-2.3l-3.3-3.2z" fill="#8cff73"/><path d="M337.6 219.5l3.3 3.8l3.4-2.2l-3.3-3.7z" fill="#76ff89"/><path d="M360.8 223.4l3.3 3.5l3.4-2.1l-3.3-3.5z" fill="#7dff82"/><path d="M366.6 224.6l3.3 3.5l3.4-2.1l-3.3-3.5z" fill="#7dff82"/><path d="M320.2 216.6l3.3 2.2l3.4-2.2l-3.3-2.2z" fill="#77ff88"/><path d="M308.6 216l3.3 3.1l3.4-2.3l-3.3-2.7z" fill="#84ff7b"/><path d="M291.2 219.4l3.3 2.1l3.4-4l-3.3-2.1z" fill="#88ff77"/><path d="M297 217.7l3.3 2.1l3.4-4.1l-3.3-2z" fill="#88ff77"/><path d="M302.8 215.8l3.3 2.1l3.4-1.8l-3.3-2.4z" fill="#88ff77"/><path d="M314.4 216.8l3.3 2.6l3.4-2.8l-3.3-2.2z" fill="#7bff84"/><path d="M326 216.5l3.3 4.1l3.4-2.2l-3.3-4z" fill="#79ff86"/><path d="M331.8 218.2l3.3 3.9l3.4-2.4l-3.3-3.8z" fill="#79ff86"/><path d="M343.4 221l3.3 3.1l3.4-2.2l-3.3-3.2z" fill="#7bff84"/><path d="M349.2 221.7l3.3 3.2l3.4-2.2l-3.3-3.2z" fill="#84ff7b"/><path d="M355 222.6l3.3 3.1l3.4-2.1l-3.3-3.3z" fill="#84ff7b"/><path d="M288.3 222.7l3.3 2.2l3.4-4l-3.3-2.1z" fill="#80ff80"/><path d="M294.1 221.2l3.3 2.1l3.4-4.1l-3.3-2z" fill="#80ff80"/><path d="M299.9 219.5l3.3 2l3.4-4.1l-3.3-2z" fill="#80ff80"/><path d="M305.7 217.4l3.3 3.6l3.4-2.3l-3.3-3.1z" fill="#7bff84"/><path d="M311.5 218.6l3.3 3.1l3.4-2.7l-3.3-2.7z" fill="#73ff8c"/><path d="M317.3 219l3.3 2.6l3.4-3.3l-3.3-2.1z" fill="#6aff95"/><path d="M323.1 218.3l3.3 4.2l3.4-2.2l-3.3-4.1z" fill="#6aff95"/><path d="M328.9 220l3.3 4.1l3.4-2.3l-3.3-4z" fill="#6cff93"/><path d="M334.7 221.6l3.3 3.9l3.4-2.5l-3.3-3.8z" fill="#6aff95"/><path d="M340.5 222.8l3.3 3.1l3.4-2.2l-3.3-3.1z" fill="#6aff95"/><path d="M346.3 223.6l3.3 3.1l3.4-2.2l-3.3-3.1z" fill="#73ff8c"/><path d="M352.1 224.4l3.3 3.1l3.4-2.1l-3.3-3.2z" fill="#7bff84"/><path d="M357.9 225.2l3.3 3.4l3.4-2.1l-3.3-3.4z" fill="#7cff83"/><path d="M363.7 226.3l3.3 3.5l3.4-2.1l-3.3-3.4z" fill="#79ff86"/><path d="M369.5 227.5l3.3 3.5l3.4-2l-3.3-3.5z" fill="#7cff83"/><path d="M326 221.9l3.3 4.3l3.4-2.4l-3.3-4.1z" fill="#60ff9f"/><path d="M331.8 223.6l3.3 4.1l3.4-2.5l-3.3-4z" fill="#60ff9f"/><path d="M343.4 225.4l3.3 3.1l3.4-2.2l-3.3-3.1z" fill="#62ff9d"/><path d="M349.2 226.2l3.3 3.1l3.4-2.2l-3.3-3.1z" fill="#6aff95"/><path d="M355 227l3.3 3.4l3.4-2.1l-3.3-3.4z" fill="#73ff8c"/><path d="M297 223l3.3 2.1l3.4-4.2l-3.3-2z" fill="#77ff88"/><path d="M302.8 221.1l3.3 3.3l3.4-3.9l-3.3-3.4z" fill="#73ff8c"/><path d="M314.4 221.3l3.3 3.1l3.4-3.3l-3.3-2.6z" fill="#62ff9d"/><path d="M291.2 224.6l3.3 2.2l3.4-4.1l-3.3-2.1z" fill="#77ff88"/><path d="M308.6 220.5l3.3 3.6l3.4-2.8l-3.3-3.1z" fill="#6aff95"/><path d="M320.2 221.1l3.3 3.7l3.4-2.6l-3.3-4.2z" fill="#5dffa2"/><path d="M337.6 225l3.3 3.2l3.4-2.7l-3.3-3z" fill="#5dffa2"/><path d="M360.8 228.1l3.3 3.4l3.4-2.1l-3.3-3.4z" fill="#75ff8a"/><path d="M366.6 229.2l3.3 3.5l3.4-2l-3.3-3.5z" fill="#75ff8a"/><path d="M328.9 225.6l3.3 4.2l3.4-2.5l-3.4-4z" fill="#56ffa9"/><path d="M346.3 228l3.3 3l3.4-2.1l-3.4-3.1z" fill="#59ffa6"/><path d="M352.1 228.7l3.3 3.4l3.4-2.1l-3.4-3.4z" fill="#62ff9d"/><path d="M299.9 224.7l3.3 3.1l3.4-3.9l-3.4-3.3z" fill="#6aff95"/><path d="M294.1 226.5l3.3 2.1l3.3-4.1l-3.3-2.1z" fill="#6fff91"/><path d="M305.7 224l3.3 3.3l3.4-3.7l-3.4-3.5z" fill="#62ff9d"/><path d="M311.5 223.6l3.3 3.5l3.4-3.2l-3.4-3z" fill="#59ffa6"/><path d="M323.1 224.3l3.3 3.8l3.4-2.3l-3.4-4.2z" fill="#53ffac"/><path d="M317.3 223.9l3.3 3.3l3.4-2.7l-3.4-3.8z" fill="#53ffac"/><path d="M334.7 227.2l3.3 3.3l3.4-2.7l-3.4-3.2z" fill="#53ffac"/><path d="M340.5 227.7l3.3 3.2l3.4-2.9l-3.4-3z" fill="#53ffac"/><path d="M357.9 229.8l3.3 3.4l3.4-2.1l-3.4-3.4z" fill="#6aff95"/><path d="M363.7 230.9l3.3 3.4l3.4-2l-3.4-3.4z" fill="#6eff91"/><path d="M349.2 230.5l3.3 3.4l3.3-2.1l-3.3-3.4z" fill="#51ffae"/><path d="M326 227.5l3.3 3.8l3.3-1.8l-3.3-4.2z" fill="#49ffb6"/><path d="M297 228.3l3.3 2.9l3.3-3.9l-3.3-3.1z" fill="#62ff9d"/><path d="M302.8 227.4l3.3 3.1l3.3-3.7l-3.3-3.3z" fill="#59ffa6"/><path d="M308.6 226.9l3.3 3.3l3.3-3.5l-3.3-3.5z" fill="#51ffae"/><path d="M320.2 226.7l3.3 3.3l3.3-2.3l-3.3-3.7z" fill="#46ffb9"/><path d="M331.8 229.3l3.3 3.5l3.3-2.7l-3.3-3.3z" fill="#49ffb6"/><path d="M337.6 230l3.3 3.3l3.3-2.8l-3.3-3.2z" fill="#46ffb9"/><path d="M343.4 230.5l3.3 3.1l3.3-3l-3.3-3z" fill="#49ffb6"/><path d="M355 231.6l3.3 3.4l3.3-2.1l-3.3-3.4z" fill="#59ffa6"/><path d="M314.4 226.7l3.3 2.8l3.3-2.7l-3.3-3.3z" fill="#49ffb6"/><path d="M360.8 232.7l3.3 3.4l3.3-2.1l-3.3-3.4z" fill="#62ff9d"/><path d="M323 229.4l3.4 3.4l3.3-1.8l-3.3-3.8z" fill="#39ffc6"/><path d="M334.6 232.3l3.4 3.5l3.3-2.9l-3.3-3.3z" fill="#39ffc6"/><path d="M340.4 232.9l3.4 3.3l3.3-3l-3.3-3.2z" fill="#39ffc6"/><path d="M346.2 233.1l3.4 3.3l3.3-2.9l-3.3-3.3z" fill="#40ffbf"/><path d="M352 233.4l3.4 3.4l3.3-2.1l-3.3-3.4z" fill="#48ffb7"/><path d="M299.8 230.8l3.4 3l3.3-3.7l-3.3-3.2z" fill="#51ffae"/><path d="M305.6 230.1l3.4 3.2l3.3-3.6l-3.3-3.3z" fill="#48ffb7"/><path d="M317.2 229l3.4 2.9l3.3-2.3l-3.3-3.3z" fill="#39ffc6"/><path d="M311.4 229.8l3.4 2.7l3.3-3.5l-3.3-2.7z" fill="#40ffbf"/><path d="M328.8 230.7l3.4 3.7l3.3-1.9l-3.3-3.5z" fill="#3bffc4"/><path d="M357.8 234.5l3.4 3.4l3.3-2.1l-3.3-3.4z" fill="#51ffae"/><path d="M337.5 235.3l3.3 3.4l3.4-2.9l-3.3-3.3z" fill="#2affd5"/><path d="M343.3 235.7l3.3 3.1l3.4-2.8l-3.3-3.3z" fill="#2fffd0"/><path d="M302.7 233.4l3.3 2.9l3.4-3.5l-3.3-3.1z" fill="#40ffbf"/><path d="M320.1 231.4l3.3 2.8l3.4-1.8l-3.3-3.3z" fill="#2affd5"/><path d="M314.3 232.2l3.3 2.7l3.4-3.5l-3.3-2.8z" fill="#2fffd0"/><path d="M331.7 233.9l3.3 3.6l3.4-2.1l-3.3-3.5z" fill="#2affd5"/><path d="M308.5 232.9l3.3 2.7l3.4-3.6l-3.3-2.7z" fill="#37ffc8"/><path d="M325.9 232.2l3.3 3.8l3.4-1.9l-3.3-3.7z" fill="#2affd5"/><path d="M349.1 235.9l3.3 3.2l3.4-2.7l-3.3-3.4z" fill="#37ffc8"/><path d="M354.9 236.2l3.3 3.4l3.4-2.1l-3.3-3.4z" fill="#40ffbf"/><path d="M340.4 238.3l3.3 3l3.4-2.9l-3.3-3.1z" fill="#1effe1"/><path d="M317.2 234.5l3.3 2.7l3.4-3.4l-3.3-2.8z" fill="#1effe1"/><path d="M334.6 237l3.3 3.6l3.4-2.2l-3.3-3.5z" fill="#1affe5"/><path d="M311.4 235.2l3.3 2.7l3.4-3.5l-3.3-2.7z" fill="#26ffd9"/><path d="M328.8 235.4l3.3 3.8l3.4-2l-3.3-3.7z" fill="#1affe5"/><path d="M346.2 238.4l3.3 3.1l3.4-2.8l-3.3-3.2z" fill="#26ffd9"/><path d="M305.6 236l3.3 2.6l3.4-3.5l-3.3-2.7z" fill="#2fffd0"/><path d="M323 233.7l3.3 3.9l3.4-1.9l-3.3-3.8z" fill="#19ffe6"/><path d="M352 238.7l3.3 3.2l3.4-2.7l-3.3-3.3z" fill="#2fffd0"/><path d="M314.3 237.5l3.3 2.7l3.4-3.5l-3.3-2.7z" fill="#15ffea"/><path d="M331.7 238.7l3.3 3.8l3.4-2.2l-3.3-3.7z" fill="#09fff6"/><path d="M337.5 240.1l3.3 3l3.4-2.2l-3.3-3z" fill="#0dfff2"/><path d="M343.3 240.9l3.3 3l3.4-2.8l-3.3-3.1z" fill="#15ffea"/><path d="M308.5 238.2l3.3 2.7l3.4-3.5l-3.3-2.7z" fill="#1effe1"/><path d="M325.9 237l3.3 4l3.4-2.1l-3.3-3.8z" fill="#08fff7"/><path d="M320.1 236.7l3.3 3.6l3.4-3.1l-3.3-3.8z" fill="#0dfff2"/><path d="M349.1 241l3.3 3.2l3.4-2.7l-3.3-3.2z" fill="#1effe1"/><path d="M334.6 242l3.3 2.9l3.4-2.2l-3.4-3z" fill="#00fdff"/><path d="M311.4 240.5l3.3 2.6l3.4-3.4l-3.4-2.7z" fill="#0dfff2"/><path d="M328.8 240.4l3.3 3.9l3.4-2.2l-3.4-3.7z" fill="#00f7ff"/><path d="M317.2 239.7l3.3 3.4l3.4-3.2l-3.4-3.6z" fill="#06fff9"/><path d="M323 239.9l3.3 3.6l3.4-2.9l-3.4-3.9z" fill="#00fdff"/><path d="M340.4 242.6l3.3 3l3.4-2.1l-3.4-3.1z" fill="#06fff9"/><path d="M346.2 243.4l3.3 3l3.4-2.6l-3.4-3.2z" fill="#0dfff2"/><path d="M331.7 243.9l3.3 2.8l3.3-2.2l-3.3-2.9z" fill="#00edff"/><path d="M320.1 242.6l3.3 3.4l3.3-2.9l-3.3-3.6z" fill="#00f9ff"/><path d="M325.9 243l3.3 3.6l3.3-2.6l-3.3-3.9z" fill="#00edff"/><path d="M337.5 244.4l3.3 2.9l3.3-2.1l-3.3-3z" fill="#00f9ff"/><path d="M314.3 242.7l3.3 3.1l3.3-3.2l-3.3-3.3z" fill="#00feff"/><path d="M343.3 245.1l3.3 3l3.3-2l-3.3-3.1z" fill="#00feff"/><path d="M322.9 245.5l3.4 3.4l3.3-2.7l-3.3-3.6z" fill="#00ecff"/><path d="M328.7 246.2l3.4 2.9l3.3-2.8l-3.3-2.8z" fill="#00e5ff"/><path d="M317.1 245.4l3.4 3.1l3.3-2.9l-3.3-3.4z" fill="#00f4ff"/><path d="M334.5 246.2l3.4 2.9l3.3-2.1l-3.3-3z" fill="#00ecff"/><path d="M340.3 246.8l3.4 3l3.3-2.1l-3.3-3z" fill="#00f4ff"/><path d="M325.8 248.4l3.3 3l3.4-2.8l-3.3-2.9z" fill="#00e3ff"/><path d="M320 248l3.3 3.1l3.4-2.6l-3.3-3.4z" fill="#00eaff"/><path d="M331.6 248.6l3.3 2.9l3.4-2.9l-3.3-2.8z" fill="#00e3ff"/><path d="M337.4 248.6l3.3 2.8l3.4-2l-3.3-2.9z" fill="#00eaff"/><path d="M322.9 250.7l3.3 3.1l3.4-2.8l-3.3-3z" fill="#00e2ff"/><path d="M328.7 251l3.3 3l3.4-2.9l-3.3-2.9z" fill="#00dfff"/><path d="M334.5 251.1l3.3 2.9l3.4-3l-3.3-2.8z" fill="#00e2ff"/><path d="M325.8 253.3l3.3 3.2l3.4-2.9l-3.3-3z" fill="#00dbff"/><path d="M331.6 253.6l3.3 3l3.4-3l-3.3-2.9z" fill="#00dbff"/><path d="M328.7 256l3.3 3.1l3.4-3l-3.4-3z" fill="#00d4ff"/></g><polyline points="288.8,222.6 297.5,212.5" fill="none" stroke="#fff" stroke-width="0.55" stroke-opacity="0.12"/><polyline points="288.8,222.6 297.4,228.2" fill="none" stroke="#fff" stroke-width="0.55" stroke-opacity="0.16"/><polyline points="297.5,212.5 306.2,206" fill="none" stroke="#fff" stroke-width="0.55" stroke-opacity="0.1"/><polyline points="297.4,228.2 306.1,235.9" fill="none" stroke="#fff" stroke-width="0.55" stroke-opacity="0.22"/><polyline points="306.2,206 315,201" fill="none" stroke="#fff" stroke-width="0.55" stroke-opacity="0.1"/><polyline points="306.1,235.9 314.7,242.7" fill="none" stroke="#fff" stroke-width="0.55" stroke-opacity="0.3"/><polyline points="315,201 323.8,196.3" fill="none" stroke="#fff" stroke-width="0.55" stroke-opacity="0.1"/><polyline points="314.7,242.7 323.4,250.7" fill="none" stroke="#fff" stroke-width="0.55" stroke-opacity="0.36"/><polyline points="323.8,196.3 332.5,191.6" fill="none" stroke="#fff" stroke-width="0.55" stroke-opacity="0.1"/><polyline points="323.4,250.7 332,258.7" fill="none" stroke="#fff" stroke-width="0.55" stroke-opacity="0.39"/><polyline points="297.4,228.2 306.1,217.5" fill="none" stroke="#fff" stroke-width="0.55" stroke-opacity="0.16"/><polyline points="297.5,212.5 306.1,217.5" fill="none" stroke="#fff" stroke-width="0.55" stroke-opacity="0.12"/><polyline points="306.1,217.5 314.9,213.1" fill="none" stroke="#fff" stroke-width="0.55" stroke-opacity="0.12"/><polyline points="306.1,217.5 314.8,226.7" fill="none" stroke="#fff" stroke-width="0.55" stroke-opacity="0.18"/><polyline points="314.9,213.1 323.6,207.5" fill="none" stroke="#fff" stroke-width="0.55" stroke-opacity="0.1"/><polyline points="314.8,226.7 323.4,233.8" fill="none" stroke="#fff" stroke-width="0.55" stroke-opacity="0.26"/><polyline points="323.6,207.5 332.4,202.5" fill="none" stroke="#fff" stroke-width="0.55" stroke-opacity="0.1"/><polyline points="323.4,233.8 332.1,243.9" fill="none" stroke="#fff" stroke-width="0.55" stroke-opacity="0.34"/><polyline points="332.4,202.5 341.1,197.5" fill="none" stroke="#fff" stroke-width="0.55" stroke-opacity="0.1"/><polyline points="332.1,243.9 340.8,251" fill="none" stroke="#fff" stroke-width="0.55" stroke-opacity="0.38"/><polyline points="306.1,235.9 314.8,226.7" fill="none" stroke="#fff" stroke-width="0.55" stroke-opacity="0.24"/><polyline points="306.2,206 314.9,213.1" fill="none" stroke="#fff" stroke-width="0.55" stroke-opacity="0.1"/><polyline points="314.8,226.7 323.6,218.4" fill="none" stroke="#fff" stroke-width="0.55" stroke-opacity="0.2"/><polyline points="314.9,213.1 323.6,218.4" fill="none" stroke="#fff" stroke-width="0.55" stroke-opacity="0.14"/><polyline points="323.6,218.4 332.3,213.1" fill="none" stroke="#fff" stroke-width="0.55" stroke-opacity="0.14"/><polyline points="323.6,218.4 332.2,229.4" fill="none" stroke="#fff" stroke-width="0.55" stroke-opacity="0.2"/><polyline points="332.3,213.1 341.1,208.1" fill="none" stroke="#fff" stroke-width="0.55" stroke-opacity="0.1"/><polyline points="332.2,229.4 340.9,238.3" fill="none" stroke="#fff" stroke-width="0.55" stroke-opacity="0.26"/><polyline points="341.1,208.1 349.8,203.4" fill="none" stroke="#fff" stroke-width="0.55" stroke-opacity="0.1"/><polyline points="340.9,238.3 349.5,246" fill="none" stroke="#fff" stroke-width="0.55" stroke-opacity="0.32"/><polyline points="314.7,242.7 323.4,233.8" fill="none" stroke="#fff" stroke-width="0.55" stroke-opacity="0.32"/><polyline points="315,201 323.6,207.5" fill="none" stroke="#fff" stroke-width="0.55" stroke-opacity="0.1"/><polyline points="323.4,233.8 332.2,229.4" fill="none" stroke="#fff" stroke-width="0.55" stroke-opacity="0.26"/><polyline points="323.6,207.5 332.3,213.1" fill="none" stroke="#fff" stroke-width="0.55" stroke-opacity="0.1"/><polyline points="332.2,229.4 340.9,222.9" fill="none" stroke="#fff" stroke-width="0.55" stroke-opacity="0.2"/><polyline points="332.3,213.1 340.9,222.9" fill="none" stroke="#fff" stroke-width="0.55" stroke-opacity="0.14"/><polyline points="340.9,222.9 349.7,217.3" fill="none" stroke="#fff" stroke-width="0.55" stroke-opacity="0.14"/><polyline points="340.9,222.9 349.6,230.6" fill="none" stroke="#fff" stroke-width="0.55" stroke-opacity="0.2"/><polyline points="349.7,217.3 358.4,211.1" fill="none" stroke="#fff" stroke-width="0.55" stroke-opacity="0.1"/><polyline points="349.6,230.6 358.2,239.2" fill="none" stroke="#fff" stroke-width="0.55" stroke-opacity="0.24"/><polyline points="323.4,250.7 332.1,243.9" fill="none" stroke="#fff" stroke-width="0.55" stroke-opacity="0.38"/><polyline points="323.8,196.3 332.4,202.5" fill="none" stroke="#fff" stroke-width="0.55" stroke-opacity="0.1"/><polyline points="332.1,243.9 340.9,238.3" fill="none" stroke="#fff" stroke-width="0.55" stroke-opacity="0.34"/><polyline points="332.4,202.5 341.1,208.1" fill="none" stroke="#fff" stroke-width="0.55" stroke-opacity="0.1"/><polyline points="340.9,238.3 349.6,230.6" fill="none" stroke="#fff" stroke-width="0.55" stroke-opacity="0.26"/><polyline points="341.1,208.1 349.7,217.3" fill="none" stroke="#fff" stroke-width="0.55" stroke-opacity="0.1"/><polyline points="349.6,230.6 358.4,225.3" fill="none" stroke="#fff" stroke-width="0.55" stroke-opacity="0.18"/><polyline points="349.7,217.3 358.4,225.3" fill="none" stroke="#fff" stroke-width="0.55" stroke-opacity="0.12"/><polyline points="358.4,225.3 367.1,220" fill="none" stroke="#fff" stroke-width="0.55" stroke-opacity="0.14"/><polyline points="358.4,225.3 367,233.9" fill="none" stroke="#fff" stroke-width="0.55" stroke-opacity="0.16"/><polyline points="332,258.7 340.8,251" fill="none" stroke="#fff" stroke-width="0.55" stroke-opacity="0.39"/><polyline points="332.5,191.6 341.1,197.5" fill="none" stroke="#fff" stroke-width="0.55" stroke-opacity="0.1"/><polyline points="340.8,251 349.5,246" fill="none" stroke="#fff" stroke-width="0.55" stroke-opacity="0.36"/><polyline points="341.1,197.5 349.8,203.4" fill="none" stroke="#fff" stroke-width="0.55" stroke-opacity="0.1"/><polyline points="349.5,246 358.2,239.2" fill="none" stroke="#fff" stroke-width="0.55" stroke-opacity="0.3"/><polyline points="349.8,203.4 358.4,211.1" fill="none" stroke="#fff" stroke-width="0.55" stroke-opacity="0.1"/><polyline points="358.2,239.2 367,233.9" fill="none" stroke="#fff" stroke-width="0.55" stroke-opacity="0.22"/><polyline points="358.4,211.1 367.1,220" fill="none" stroke="#fff" stroke-width="0.55" stroke-opacity="0.12"/><polyline points="367,233.9 375.8,228.9" fill="none" stroke="#fff" stroke-width="0.55" stroke-opacity="0.16"/><polyline points="367.1,220 375.8,228.9" fill="none" stroke="#fff" stroke-width="0.55" stroke-opacity="0.14"/><circle cx="288.8" cy="222.6" r="0.75" fill="#222" fill-opacity="0.8"/><circle cx="297.5" cy="212.5" r="0.75" fill="#222" fill-opacity="0.8"/><circle cx="306.2" cy="206" r="0.75" fill="#222" fill-opacity="0.8"/><circle cx="315" cy="201" r="0.75" fill="#222" fill-opacity="0.8"/><circle cx="323.8" cy="196.3" r="0.75" fill="#222" fill-opacity="0.8"/><circle cx="332.5" cy="191.6" r="0.75" fill="#222" fill-opacity="0.8"/><circle cx="297.4" cy="228.2" r="0.75" fill="#222" fill-opacity="0.8"/><circle cx="306.1" cy="217.5" r="0.75" fill="#222" fill-opacity="0.8"/><circle cx="314.9" cy="213.1" r="0.75" fill="#222" fill-opacity="0.8"/><circle cx="323.6" cy="207.5" r="0.75" fill="#222" fill-opacity="0.8"/><circle cx="332.4" cy="202.5" r="0.75" fill="#222" fill-opacity="0.8"/><circle cx="341.1" cy="197.5" r="0.75" fill="#222" fill-opacity="0.8"/><circle cx="306.1" cy="235.9" r="0.75" fill="#222" fill-opacity="0.8"/><circle cx="314.8" cy="226.7" r="0.75" fill="#222" fill-opacity="0.8"/><circle cx="323.6" cy="218.4" r="0.75" fill="#222" fill-opacity="0.8"/><circle cx="332.3" cy="213.1" r="0.75" fill="#222" fill-opacity="0.8"/><circle cx="341.1" cy="208.1" r="0.75" fill="#222" fill-opacity="0.8"/><circle cx="349.8" cy="203.4" r="0.75" fill="#222" fill-opacity="0.8"/><circle cx="314.7" cy="242.7" r="0.75" fill="#222" fill-opacity="0.8"/><circle cx="323.4" cy="233.8" r="0.75" fill="#222" fill-opacity="0.8"/><circle cx="332.2" cy="229.4" r="0.75" fill="#222" fill-opacity="0.8"/><circle cx="340.9" cy="222.9" r="0.75" fill="#222" fill-opacity="0.8"/><circle cx="349.7" cy="217.3" r="0.75" fill="#222" fill-opacity="0.8"/><circle cx="358.4" cy="211.1" r="0.75" fill="#222" fill-opacity="0.8"/><circle cx="323.4" cy="250.7" r="0.75" fill="#222" fill-opacity="0.8"/><circle cx="332.1" cy="243.9" r="0.75" fill="#222" fill-opacity="0.8"/><circle cx="340.9" cy="238.3" r="0.75" fill="#222" fill-opacity="0.8"/><circle cx="349.6" cy="230.6" r="0.75" fill="#222" fill-opacity="0.8"/><circle cx="358.4" cy="225.3" r="0.75" fill="#222" fill-opacity="0.8"/><circle cx="367.1" cy="220" r="0.75" fill="#222" fill-opacity="0.8"/><circle cx="332" cy="258.7" r="0.75" fill="#222" fill-opacity="0.8"/><circle cx="340.8" cy="251" r="0.75" fill="#222" fill-opacity="0.8"/><circle cx="349.5" cy="246" r="0.75" fill="#222" fill-opacity="0.8"/><circle cx="358.2" cy="239.2" r="0.75" fill="#222" fill-opacity="0.8"/><circle cx="367" cy="233.9" r="0.75" fill="#222" fill-opacity="0.8"/><circle cx="375.8" cy="228.9" r="0.75" fill="#222" fill-opacity="0.8"/><polyline points="288.8,247.5 332,272.5 375.8,247.5" fill="none" stroke="#8c8c8c" stroke-width="0.55"/><polyline points="288.8,247.5 288.8,213" fill="none" stroke="#8c8c8c" stroke-width="0.55"/></g>
<line x1="286.2" y1="247.5" x2="288.8" y2="247.5" stroke="#8c8c8c" stroke-width="0.5"/>
<text x="286.4" y="249.4" text-anchor="end" fill="#222" style="stroke:#222" font-size="4.8">0</text>
<line x1="286.2" y1="232.5" x2="288.8" y2="232.5" stroke="#8c8c8c" stroke-width="0.5"/>
<text x="286.4" y="234.4" text-anchor="end" fill="#222" style="stroke:#222" font-size="4.8">50</text>
<line x1="286.2" y1="217.5" x2="288.8" y2="217.5" stroke="#8c8c8c" stroke-width="0.5"/>
<text x="286.4" y="219.4" text-anchor="end" fill="#222" style="stroke:#222" font-size="4.8">100</text>
<line x1="288.8" y1="247.5" x2="287.1" y2="248.7" stroke="#8c8c8c" stroke-width="0.5"/>
<text x="281.6" y="254.4" text-anchor="middle" fill="#222" style="stroke:#222" font-size="4.8">0</text>
<line x1="297.4" y1="252.5" x2="295.8" y2="253.7" stroke="#8c8c8c" stroke-width="0.5"/>
<text x="290.3" y="259.4" text-anchor="middle" fill="#222" style="stroke:#222" font-size="4.8">1</text>
<line x1="306.1" y1="257.5" x2="304.4" y2="258.7" stroke="#8c8c8c" stroke-width="0.5"/>
<text x="298.9" y="264.4" text-anchor="middle" fill="#222" style="stroke:#222" font-size="4.8">2.5</text>
<line x1="314.7" y1="262.5" x2="313.1" y2="263.7" stroke="#8c8c8c" stroke-width="0.5"/>
<text x="307.6" y="269.4" text-anchor="middle" fill="#222" style="stroke:#222" font-size="4.8">5</text>
<line x1="323.4" y1="267.5" x2="321.8" y2="268.7" stroke="#8c8c8c" stroke-width="0.5"/>
<text x="316.2" y="274.4" text-anchor="middle" fill="#222" style="stroke:#222" font-size="4.8">7.5</text>
<line x1="332" y1="272.5" x2="330.4" y2="273.7" stroke="#8c8c8c" stroke-width="0.5"/>
<text x="324.9" y="279.4" text-anchor="middle" fill="#222" style="stroke:#222" font-size="4.8">10</text>
<line x1="332" y1="272.5" x2="333.6" y2="273.7" stroke="#8c8c8c" stroke-width="0.5"/>
<text x="334.2" y="279.8" fill="#222" style="stroke:#222" font-size="4.8">1</text>
<line x1="340.8" y1="267.5" x2="342.4" y2="268.7" stroke="#8c8c8c" stroke-width="0.5"/>
<text x="342.9" y="274.8" fill="#222" style="stroke:#222" font-size="4.8">1</text>
<line x1="349.5" y1="262.5" x2="351.1" y2="263.7" stroke="#8c8c8c" stroke-width="0.5"/>
<text x="351.7" y="269.8" fill="#222" style="stroke:#222" font-size="4.8">0.5</text>
<line x1="358.2" y1="257.5" x2="359.9" y2="258.7" stroke="#8c8c8c" stroke-width="0.5"/>
<text x="360.4" y="264.8" fill="#222" style="stroke:#222" font-size="4.8">0.1</text>
<line x1="367" y1="252.5" x2="368.6" y2="253.7" stroke="#8c8c8c" stroke-width="0.5"/>
<text x="369.2" y="259.8" fill="#222" style="stroke:#222" font-size="4.8">0.05</text>
<line x1="375.8" y1="247.5" x2="377.4" y2="248.7" stroke="#8c8c8c" stroke-width="0.5"/>
<text x="377.9" y="254.8" fill="#222" style="stroke:#222" font-size="4.8">0</text>
<text x="292.9" y="275.9" text-anchor="middle" fill="#222" style="stroke:#222" font-size="6.1">Cis (<tspan font-size="5" font-family="Liberation Serif, serif">μ</tspan>mol/L)</text>
<text x="378.4" y="270.5" text-anchor="middle" fill="#222" style="stroke:#222" font-size="6.1">Enti (<tspan font-size="5" font-family="Liberation Serif, serif">μ</tspan>mol/L)</text>
<text x="325.6" y="184.6" text-anchor="middle" font-size="9.7">CRL-2177</text>
<g><polyline points="398.8,247.5 442.5,222.5" fill="none" stroke="#e9e9e9" stroke-width="0.5"/><polyline points="398.8,247.5 442,272.5" fill="none" stroke="#e9e9e9" stroke-width="0.5"/><polyline points="407.4,252.5 451.1,227.5" fill="none" stroke="#e9e9e9" stroke-width="0.5"/><polyline points="407.5,242.5 450.8,267.5" fill="none" stroke="#e9e9e9" stroke-width="0.5"/><polyline points="416.1,257.5 459.8,232.5" fill="none" stroke="#e9e9e9" stroke-width="0.5"/><polyline points="416.2,237.5 459.5,262.5" fill="none" stroke="#e9e9e9" stroke-width="0.5"/><polyline points="424.7,262.5 468.4,237.5" fill="none" stroke="#e9e9e9" stroke-width="0.5"/><polyline points="425,232.5 468.2,257.5" fill="none" stroke="#e9e9e9" stroke-width="0.5"/><polyline points="433.4,267.5 477.1,242.5" fill="none" stroke="#e9e9e9" stroke-width="0.5"/><polyline points="433.8,227.5 477,252.5" fill="none" stroke="#e9e9e9" stroke-width="0.5"/><polyline points="442,272.5 485.8,247.5" fill="none" stroke="#e9e9e9" stroke-width="0.5"/><polyline points="442.5,222.5 485.8,247.5" fill="none" stroke="#e9e9e9" stroke-width="0.5"/><polyline points="398.8,247.5 398.8,213" fill="none" stroke="#e9e9e9" stroke-width="0.5"/><polyline points="442.5,222.5 442.5,188" fill="none" stroke="#e9e9e9" stroke-width="0.5"/><polyline points="407.5,242.5 407.5,208" fill="none" stroke="#e9e9e9" stroke-width="0.5"/><polyline points="451.1,227.5 451.1,193" fill="none" stroke="#e9e9e9" stroke-width="0.5"/><polyline points="416.2,237.5 416.2,203" fill="none" stroke="#e9e9e9" stroke-width="0.5"/><polyline points="459.8,232.5 459.8,198" fill="none" stroke="#e9e9e9" stroke-width="0.5"/><polyline points="425,232.5 425,198" fill="none" stroke="#e9e9e9" stroke-width="0.5"/><polyline points="468.4,237.5 468.4,203" fill="none" stroke="#e9e9e9" stroke-width="0.5"/><polyline points="433.8,227.5 433.8,193" fill="none" stroke="#e9e9e9" stroke-width="0.5"/><polyline points="477.1,242.5 477.1,208" fill="none" stroke="#e9e9e9" stroke-width="0.5"/><polyline points="442.5,222.5 442.5,188" fill="none" stroke="#e9e9e9" stroke-width="0.5"/><polyline points="485.8,247.5 485.8,213" fill="none" stroke="#e9e9e9" stroke-width="0.5"/><polyline points="398.8,247.5 442.5,222.5 485.8,247.5" fill="none" stroke="#e9e9e9" stroke-width="0.5"/><polyline points="398.8,232.5 442.5,207.5 485.8,232.5" fill="none" stroke="#e9e9e9" stroke-width="0.5"/><polyline points="398.8,217.5 442.5,192.5 485.8,217.5" fill="none" stroke="#e9e9e9" stroke-width="0.5"/><g filter="url(#sm)"><path d="M439.1 194.4l3.4 3.3l3.3-2.3l-3.3-3.3z" fill="#80ff80"/><path d="M442 197.2l3.3 3.3l3.4-2.2l-3.3-3.4z" fill="#80ff80"/><path d="M436.2 196.4l3.3 3.2l3.4-2.3l-3.3-3.3z" fill="#80ff80"/><path d="M444.9 200l3.3 3.3l3.4-2.1l-3.3-3.4z" fill="#80ff80"/><path d="M439.1 199.1l3.3 3.2l3.4-2.2l-3.3-3.3z" fill="#80ff80"/><path d="M433.3 198.3l3.3 3.2l3.4-2.3l-3.3-3.2z" fill="#80ff80"/><path d="M447.8 202.9l3.3 1.8l3.4-2.4l-3.3-1.6z" fill="#80ff7f"/><path d="M442 201.8l3.3 3.3l3.4-2.2l-3.3-3.3z" fill="#80ff80"/><path d="M430.4 200.7l3.3 3l3.4-2.6l-3.3-3.1z" fill="#7bff84"/><path d="M436.2 201l3.3 3.2l3.4-2.2l-3.3-3.3z" fill="#80ff80"/><path d="M450.7 204.3l3.3 1.7l3.4-2.4l-3.4-1.7z" fill="#82ff7d"/><path d="M427.5 203.1l3.3 2.8l3.4-2.6l-3.4-3z" fill="#73ff8c"/><path d="M444.9 204.7l3.3 1.8l3.4-2.3l-3.4-1.8z" fill="#82ff7d"/><path d="M433.3 203.2l3.3 3l3.4-2.4l-3.4-3.2z" fill="#7bff84"/><path d="M439.1 203.7l3.3 3.1l3.4-2.1l-3.4-3.2z" fill="#80ff80"/><path d="M453.6 205.7l3.3 1.7l3.3-2.6l-3.3-1.6z" fill="#83ff7c"/><path d="M424.6 205.5l3.3 2.6l3.3-2.6l-3.3-2.8z" fill="#6aff95"/><path d="M430.4 205.4l3.3 2.8l3.3-2.4l-3.3-3z" fill="#73ff8c"/><path d="M436.2 205.7l3.3 3l3.3-2.2l-3.3-3.2z" fill="#7bff84"/><path d="M447.8 206.1l3.3 1.9l3.3-2.4l-3.3-1.8z" fill="#86ff79"/><path d="M442 206.4l3.3 2l3.3-2.3l-3.3-1.9z" fill="#83ff7c"/><path d="M427.4 207.7l3.4 2.6l3.3-2.5l-3.3-2.8z" fill="#6aff95"/><path d="M433.2 207.8l3.4 2.8l3.3-2.3l-3.3-3z" fill="#73ff8c"/><path d="M450.6 207.6l3.4 1.9l3.3-2.6l-3.3-1.7z" fill="#8aff75"/><path d="M456.4 207l3.4 1.7l3.3-2.5l-3.3-1.7z" fill="#92ff6d"/><path d="M421.6 209.1l3.4 2.4l3.3-3.9l-3.3-2.5z" fill="#66ff99"/><path d="M439 208.3l3.4 2.1l3.3-2.5l-3.3-1.9z" fill="#7eff81"/><path d="M444.8 208l3.4 2l3.3-2.5l-3.3-1.8z" fill="#8aff75"/><path d="M430.3 209.8l3.3 2.6l3.4-2.2l-3.3-2.8z" fill="#6aff95"/><path d="M459.3 208.4l3.3 1.7l3.4-2.5l-3.3-1.8z" fill="#adff52"/><path d="M418.7 212.5l3.3 2.3l3.4-3.9l-3.3-2.4z" fill="#66ff99"/><path d="M436.1 210.1l3.3 2.3l3.4-2.5l-3.3-2.1z" fill="#73ff8c"/><path d="M424.5 211.1l3.3 2.4l3.4-3.8l-3.3-2.5z" fill="#66ff99"/><path d="M441.9 210l3.3 2.1l3.4-2.6l-3.3-2z" fill="#84ff7b"/><path d="M447.7 209.6l3.3 1.9l3.4-2.5l-3.3-1.9z" fill="#91ff6e"/><path d="M453.5 209.1l3.3 1.7l3.4-2.6l-3.3-1.7z" fill="#9cff63"/><path d="M462.2 209.7l3.3 1.7l3.4-2.4l-3.3-1.8z" fill="#c9ff36"/><path d="M415.8 216l3.3 2.2l3.4-3.9l-3.3-2.3z" fill="#66ff99"/><path d="M433.2 212l3.3 2.4l3.4-2.4l-3.3-2.3z" fill="#67ff98"/><path d="M421.6 214.5l3.3 2.3l3.4-3.8l-3.3-2.4z" fill="#66ff99"/><path d="M439 212l3.3 2.2l3.4-2.6l-3.3-2.1z" fill="#73ff8c"/><path d="M456.4 210.4l3.3 1.7l3.4-2.5l-3.3-1.7z" fill="#bdff42"/><path d="M427.4 213.2l3.3 2.4l3.4-3.7l-3.3-2.5z" fill="#66ff99"/><path d="M444.8 211.7l3.3 2.1l3.4-2.7l-3.3-2z" fill="#89ff76"/><path d="M450.6 211.2l3.3 1.6l3.4-2.5l-3.3-1.7z" fill="#a7ff58"/><path d="M418.7 217.9l3.3 2.2l3.4-3.8l-3.3-2.3z" fill="#66ff99"/><path d="M436.1 214l3.3 2.4l3.4-2.6l-3.3-2.3z" fill="#62ff9d"/><path d="M459.3 211.7l3.3 1.7l3.4-2.5l-3.3-1.7z" fill="#ddff22"/><path d="M465.1 210.8l3.3 5.5l3.3-2.2l-3.2-5.5z" fill="#d7ff28"/><path d="M424.5 216.5l3.3 2.3l3.4-3.7l-3.3-2.4z" fill="#66ff99"/><path d="M441.9 213.8l3.3 2.3l3.4-2.8l-3.3-2.1z" fill="#73ff8c"/><path d="M413 222l3.2 2l3.3-6.5l-3.2-2z" fill="#6bff94"/><path d="M430.3 215.3l3.3 2.3l3.4-3.7l-3.3-2.3z" fill="#60ff9f"/><path d="M447.7 213.4l3.3 1.6l3.4-2.7l-3.3-1.6z" fill="#9dff62"/><path d="M453.5 212.4l3.3 1.7l3.4-2.5l-3.3-1.7z" fill="#ccff33"/><path d="M468 215.6l3.3 5.5l3.3-2.2l-3.3-5.5z" fill="#d6ff29"/><path d="M421.6 219.7l3.3 2.2l3.4-3.7l-3.4-2.3z" fill="#66ff99"/><path d="M439 216l3.3 2.3l3.4-2.7l-3.4-2.2z" fill="#5cffa3"/><path d="M427.4 218.4l3.3 2.5l3.4-3.8l-3.4-2.4z" fill="#5effa2"/><path d="M410 227.9l3.3 1.9l3.3-6.5l-3.3-2z" fill="#75ff8a"/><path d="M415.8 223.8l3.3 2l3.3-6.4l-3.3-2.1z" fill="#6cff93"/><path d="M433.2 217.3l3.3 2.4l3.4-3.9l-3.4-2.3z" fill="#55ffaa"/><path d="M444.8 215.7l3.3 1.5l3.4-2.7l-3.4-1.6z" fill="#7dff82"/><path d="M450.6 214.6l3.3 1.6l3.4-2.6l-3.4-1.7z" fill="#bdff42"/><path d="M456.4 213.7l3.3 1.6l3.4-2.4l-3.4-1.7z" fill="#f1ff0e"/><path d="M462.2 212.7l3.3 5.5l3.3-2.2l-3.3-5.5z" fill="#e7ff18"/><path d="M470.9 220.5l3.3 5.5l3.3-2.2l-3.3-5.5z" fill="#d5ff2a"/><path d="M424.5 221.6l3.3 2.5l3.3-3.8l-3.3-2.4z" fill="#5bffa4"/><path d="M412.9 229.6l3.3 1.9l3.3-6.4l-3.3-2z" fill="#79ff86"/><path d="M418.7 225.6l3.3 2l3.3-6.3l-3.3-2.1z" fill="#6eff91"/><path d="M430.3 220.5l3.3 2.5l3.3-3.9l-3.3-2.3z" fill="#4dffb3"/><path d="M441.9 218l3.3 1.4l3.3-2.7l-3.3-1.5z" fill="#5dffa2"/><path d="M447.7 216.8l3.3 1.5l3.3-2.6l-3.3-1.6z" fill="#90ff6f"/><path d="M453.5 215.8l3.3 1.6l3.3-2.6l-3.3-1.6z" fill="#deff21"/><path d="M465.1 217.6l3.3 5.5l3.3-2.2l-3.3-5.5z" fill="#daff25"/><path d="M407.1 233.8l3.3 1.8l3.3-6.5l-3.3-1.9z" fill="#7fff80"/><path d="M436.1 219.3l3.3 2.4l3.3-3.9l-3.3-2.3z" fill="#4affb5"/><path d="M459.3 214.7l3.3 5.5l3.3-2.2l-3.3-5.5z" fill="#f7ff08"/><path d="M473.7 225.4l3.4 4.1l3.3-2.2l-3.3-4.1z" fill="#c6ff39"/><path d="M427.3 223.8l3.4 2.5l3.3-3.9l-3.3-2.4z" fill="#44ffbb"/><path d="M444.7 219.1l3.4 1.4l3.3-2.7l-3.3-1.5z" fill="#63ff9c"/><path d="M450.5 218l3.4 1.5l3.3-2.6l-3.3-1.6z" fill="#a4ff5b"/><path d="M468 222.5l3.3 5.5l3.3-2.2l-3.3-5.5z" fill="#cdff32"/><path d="M415.8 231.4l3.3 1.9l3.3-6.4l-3.3-2z" fill="#7dff82"/><path d="M421.6 227.4l3.3 2.3l3.3-6.3l-3.3-2.3z" fill="#65ff9a"/><path d="M433.1 222.6l3.4 2.5l3.3-3.9l-3.3-2.4z" fill="#3cffc3"/><path d="M404.1 235.8l3.4 2.1l3.3-2.8l-3.3-2z" fill="#83ff7c"/><path d="M410 235.4l3.3 1.9l3.3-6.5l-3.3-1.9z" fill="#86ff79"/><path d="M439 221.4l3.3 1.4l3.3-4l-3.3-1.3z" fill="#43ffbc"/><path d="M456.4 216.8l3.3 5.5l3.3-2.3l-3.3-5.5z" fill="#dfff20"/><path d="M462.2 219.6l3.3 5.5l3.3-2.2l-3.3-5.5z" fill="#deff21"/><path d="M447.6 220.1l3.3 1.4l3.4-2.5l-3.3-1.5z" fill="#6aff95"/><path d="M470.8 227.4l3.3 4.1l3.4-2.3l-3.3-4.1z" fill="#b9ff46"/><path d="M476.6 229l3.3 4.1l3.4-2.2l-3.3-4.2z" fill="#a8ff57"/><path d="M430.2 225.9l3.3 2.5l3.4-3.9l-3.3-2.4z" fill="#2dffd2"/><path d="M418.7 233.1l3.2 2.1l3.4-6.2l-3.3-2.3z" fill="#7bff84"/><path d="M401.2 238.1l3.3 2.2l3.4-2.8l-3.3-2.2z" fill="#82ff7d"/><path d="M407 237.5l3.3 2.2l3.4-2.9l-3.3-2.1z" fill="#8aff75"/><path d="M412.9 237.1l3.2 1.8l3.3-6.3l-3.2-1.9z" fill="#8dff72"/><path d="M424.5 229.5l3.2 2.2l3.4-6.1l-3.3-2.4z" fill="#51ffae"/><path d="M436 224.8l3.3 1.3l3.4-3.9l-3.3-1.4z" fill="#31ffce"/><path d="M441.8 222.5l3.3 1.3l3.4-3.9l-3.3-1.4z" fill="#42ffbd"/><path d="M453.5 218.8l3.2 5.5l3.4-2.3l-3.3-5.5z" fill="#9fff60"/><path d="M459.3 221.6l3.2 5.5l3.4-2.3l-3.3-5.5z" fill="#c1ff3e"/><path d="M465.1 224.4l3.2 5.5l3.4-2.2l-3.3-5.5z" fill="#c6ff39"/><path d="M398.3 240.3l3.3 2.3l3.4-2.8l-3.3-2.2z" fill="#80ff7f"/><path d="M404.1 239.9l3.3 2.2l3.4-2.9l-3.3-2.1z" fill="#86ff79"/><path d="M409.9 239.3l3.3 2.1l3.4-3l-3.3-2z" fill="#91ff6e"/><path d="M415.8 238.7l3.2 2.1l3.3-6.2l-3.2-2.2z" fill="#92ff6d"/><path d="M421.6 235l3.2 2.2l3.3-6.1l-3.2-2.3z" fill="#73ff8c"/><path d="M427.4 231.5l3.2 2.3l3.3-6l-3.2-2.4z" fill="#3dffc2"/><path d="M433.1 228.2l3.3 1.3l3.4-4l-3.3-1.3z" fill="#1effe1"/><path d="M438.9 225.9l3.3 1.3l3.4-4l-3.3-1.3z" fill="#2dffd2"/><path d="M444.7 223.6l3.3 1.3l3.4-4l-3.3-1.3z" fill="#40ffbf"/><path d="M450.5 220.9l3.3 5.5l3.4-2.3l-3.3-5.5z" fill="#60ff9f"/><path d="M456.3 223.7l3.3 5.5l3.4-2.3l-3.3-5.5z" fill="#83ff7c"/><path d="M462.1 226.5l3.3 5.5l3.4-2.3l-3.3-5.5z" fill="#a4ff5b"/><path d="M467.9 229.4l3.3 4l3.4-2.3l-3.3-4z" fill="#acff53"/><path d="M473.7 230.9l3.3 4.1l3.4-2.2l-3.3-4.1z" fill="#9dff62"/><path d="M479.5 232.5l3.3 4.1l3.4-2.2l-3.3-4.1z" fill="#8aff75"/><path d="M436 229.2l3.3 1.4l3.4-4l-3.3-1.3z" fill="#17ffe8"/><path d="M441.8 226.9l3.3 1.4l3.4-4l-3.3-1.3z" fill="#28ffd7"/><path d="M453.4 225.8l3.3 5.5l3.3-2.3l-3.2-5.5z" fill="#45ffba"/><path d="M459.2 228.6l3.3 5.5l3.3-2.3l-3.2-5.5z" fill="#67ff98"/><path d="M465 231.5l3.3 4l3.4-2.4l-3.3-4z" fill="#8bff74"/><path d="M407 241.7l3.3 2.2l3.4-3l-3.3-2.1z" fill="#8aff75"/><path d="M412.8 241l3.3 2.2l3.4-2.9l-3.3-2.2z" fill="#99ff66"/><path d="M424.4 237l3.3 2.2l3.3-6.1l-3.2-2.2z" fill="#6aff95"/><path d="M401.2 242.2l3.3 2.3l3.4-2.9l-3.3-2.2z" fill="#82ff7d"/><path d="M418.7 240.6l3.2 2.1l3.3-6.2l-3.2-2.1z" fill="#95ff6a"/><path d="M430.3 233.6l3.2 1.1l3.3-5.9l-3.2-1.2z" fill="#31ffce"/><path d="M447.6 224.4l3.3 5l3.4-3.3l-3.3-5.4z" fill="#34ffcb"/><path d="M470.8 232.9l3.3 4l3.4-2.2l-3.3-4.1z" fill="#92ff6d"/><path d="M476.6 234.4l3.3 4.1l3.4-2.2l-3.3-4.1z" fill="#81ff7e"/><path d="M438.9 230.3l3.3 1.3l3.3-3.9l-3.3-1.4z" fill="#10ffef"/><path d="M456.3 230.6l3.3 5.5l3.3-2.3l-3.3-5.5z" fill="#2bffd4"/><path d="M462.1 233.5l3.3 4l3.4-2.4l-3.4-4z" fill="#55ffaa"/><path d="M409.9 243.5l3.3 2.1l3.4-2.9l-3.4-2.2z" fill="#90ff6f"/><path d="M404.1 244.1l3.3 2.2l3.4-2.9l-3.4-2.2z" fill="#83ff7c"/><path d="M415.7 242.8l3.3 2.2l3.4-2.8l-3.4-2.3z" fill="#a2ff5e"/><path d="M421.5 242.5l3.3 2l3.3-6l-3.3-2.2z" fill="#98ff67"/><path d="M433.2 234.5l3.2 1.1l3.3-5.7l-3.3-1.3z" fill="#2dffd2"/><path d="M427.4 239l3.2 0.9l3.3-5.9l-3.3-1.1z" fill="#69ff96"/><path d="M444.7 227.8l3.3 4.7l3.4-3.4l-3.4-5.1z" fill="#1cffe3"/><path d="M450.5 228.9l3.3 5.1l3.3-3l-3.3-5.5z" fill="#1cffe3"/><path d="M467.9 234.9l3.3 4l3.4-2.4l-3.4-4z" fill="#77ff88"/><path d="M473.7 236.3l3.3 4l3.4-2.1l-3.4-4.1z" fill="#77ff88"/><path d="M459.2 235.6l3.3 4l3.3-2.4l-3.3-4z" fill="#1fffe0"/><path d="M436 235.4l3.3 1.1l3.3-5.6l-3.3-1.2z" fill="#2affd5"/><path d="M407 246l3.3 2l3.3-2.9l-3.3-2.1z" fill="#88ff77"/><path d="M412.8 245.2l3.3 2.1l3.3-2.8l-3.3-2.2z" fill="#99ff66"/><path d="M418.6 244.6l3.3 2.2l3.3-2.7l-3.3-2.3z" fill="#aaff55"/><path d="M430.2 239.7l3.3 0.9l3.3-5.7l-3.3-1.1z" fill="#6fff90"/><path d="M441.8 231.1l3.3 4.4l3.3-3.4l-3.3-4.7z" fill="#04fffb"/><path d="M447.6 231.9l3.3 4.8l3.3-3l-3.3-5.1z" fill="#06fff9"/><path d="M453.4 233.4l3.3 5.1l3.3-2.6l-3.3-5.5z" fill="#04fffb"/><path d="M465 237l3.3 4l3.3-2.4l-3.3-4z" fill="#4dffb3"/><path d="M424.5 244.4l3.2 0.7l3.3-5.9l-3.3-0.9z" fill="#a1ff5e"/><path d="M470.8 238.4l3.3 4l3.3-2.4l-3.3-4z" fill="#63ff9c"/><path d="M433.1 240.5l3.3 0.9l3.3-5.6l-3.3-1.1z" fill="#75ff8a"/><path d="M444.6 235l3.4 4.4l3.3-3.1l-3.3-4.7z" fill="#00f0ff"/><path d="M450.5 236.1l3.3 4.8l3.3-2.7l-3.3-5.1z" fill="#00f0ff"/><path d="M456.2 238l3.4 4l3.3-2.8l-3.3-3.9z" fill="#00fbff"/><path d="M462 239.1l3.4 4l3.3-2.4l-3.3-4z" fill="#22ffdd"/><path d="M409.8 247.6l3.4 2.1l3.3-2.8l-3.3-2.2z" fill="#91ff6e"/><path d="M415.6 246.9l3.4 2.2l3.3-2.8l-3.3-2.2z" fill="#a2ff5e"/><path d="M427.3 244.9l3.3 0.8l3.2-5.8l-3.2-0.9z" fill="#b0ff4f"/><path d="M421.4 246.5l3.4 1.1l3.3-3.1l-3.3-0.8z" fill="#b7ff48"/><path d="M438.8 236.2l3.4 3.7l3.3-4.9l-3.3-4.2z" fill="#1cffe3"/><path d="M467.8 240.5l3.4 4l3.3-2.4l-3.3-4z" fill="#44ffbb"/><path d="M447.5 238.8l3.3 4.4l3.4-2.6l-3.3-4.8z" fill="#00deff"/><path d="M453.3 240.3l3.3 4.1l3.4-2.7l-3.3-4.1z" fill="#00eaff"/><path d="M412.7 249.3l3.3 2l3.4-2.7l-3.3-2.1z" fill="#99ff66"/><path d="M430.2 245.5l3.2 0.7l3.3-5.5l-3.2-0.9z" fill="#c0ff3f"/><path d="M424.3 247.3l3.3 1l3.4-3.2l-3.3-0.9z" fill="#c8ff37"/><path d="M441.7 239.5l3.3 3.7l3.4-4.3l-3.3-4.3z" fill="#05fffa"/><path d="M418.5 248.7l3.3 1.3l3.4-3l-3.3-1.1z" fill="#abff54"/><path d="M435.9 241.1l3.3 3.1l3.4-4.9l-3.3-3.7z" fill="#66ff99"/><path d="M459.1 241.5l3.3 4l3.4-2.8l-3.3-4z" fill="#04fffb"/><path d="M464.9 242.5l3.3 4l3.4-2.4l-3.3-4z" fill="#25ffda"/><path d="M450.4 242.7l3.3 4.1l3.4-2.7l-3.3-4.1z" fill="#00d9ff"/><path d="M427.2 248l3.3 1.1l3.4-3.5l-3.3-0.8z" fill="#d9ff26"/><path d="M444.6 242.8l3.3 3.8l3.4-3.8l-3.3-4.3z" fill="#00edff"/><path d="M421.4 249.7l3.3 1.3l3.4-3.2l-3.3-1.1z" fill="#b5ff4a"/><path d="M438.8 243.9l3.3 3.2l3.4-4.4l-3.3-3.7z" fill="#42ffbd"/><path d="M456.2 243.9l3.3 4l3.4-2.8l-3.3-4z" fill="#00f2ff"/><path d="M415.6 251l3.3 1.5l3.4-3l-3.3-1.3z" fill="#9fff60"/><path d="M433 246l3.3 2.6l3.4-4.9l-3.3-3.2z" fill="#b0ff4f"/><path d="M462 245l3.3 4l3.4-2.8l-3.3-4z" fill="#0dfff2"/><path d="M424.3 250.7l3.3 1.3l3.4-3.5l-3.3-1z" fill="#bfff40"/><path d="M441.7 246.7l3.3 3.3l3.4-3.9l-3.3-3.7z" fill="#1fffe0"/><path d="M447.5 246.2l3.3 3.8l3.4-3.6l-3.3-4z" fill="#00e4ff"/><path d="M453.3 246.3l3.3 4.1l3.4-2.8l-3.3-4.1z" fill="#00e1ff"/><path d="M418.5 252.2l3.3 1.5l3.4-3.3l-3.3-1.2z" fill="#a2ff5d"/><path d="M435.9 248.3l3.3 2.7l3.4-4.4l-3.3-3.2z" fill="#80ff80"/><path d="M430.1 248.7l3.3 2.6l3.4-3.2l-3.3-2.7z" fill="#caff35"/><path d="M459.1 247.4l3.3 4.1l3.4-2.9l-3.3-4z" fill="#00fbff"/><path d="M444.6 249.5l3.3 3.6l3.4-3.6l-3.4-3.8z" fill="#0dfff2"/><path d="M421.4 253.4l3.3 1.4l3.3-3.4l-3.3-1.3z" fill="#a6ff59"/><path d="M438.8 250.6l3.3 2.7l3.4-3.8l-3.4-3.3z" fill="#4fffb0"/><path d="M427.2 251.6l3.3 2.5l3.4-3.2l-3.4-2.7z" fill="#b5ff4a"/><path d="M433 250.9l3.3 2.7l3.4-3.1l-3.4-2.8z" fill="#9bff64"/><path d="M450.4 249.5l3.3 3.8l3.4-3.3l-3.4-4.1z" fill="#00eaff"/><path d="M456.2 249.8l3.3 4.1l3.4-2.8l-3.4-4z" fill="#00eaff"/><path d="M441.7 252.9l3.3 3.4l3.3-3.6l-3.3-3.6z" fill="#34ffcb"/><path d="M430.1 253.7l3.3 2.5l3.3-3.1l-3.3-2.6z" fill="#95ff6a"/><path d="M435.9 253.2l3.3 2.6l3.3-2.9l-3.3-2.8z" fill="#6cff93"/><path d="M447.5 252.7l3.3 3.6l3.3-3.4l-3.3-3.8z" fill="#0dfff2"/><path d="M424.3 254.5l3.3 2.3l3.3-3.2l-3.3-2.5z" fill="#9fff60"/><path d="M453.3 252.9l3.3 3.8l3.3-3.1l-3.3-4.1z" fill="#00efff"/><path d="M432.9 255.8l3.4 2.5l3.3-3l-3.3-2.6z" fill="#76ff89"/><path d="M438.7 255.3l3.4 3.3l3.3-2.7l-3.3-3.4z" fill="#51ffae"/><path d="M427.1 256.4l3.4 2.4l3.3-3.1l-3.3-2.5z" fill="#8fff70"/><path d="M444.5 255.9l3.4 3.4l3.3-3.4l-3.3-3.6z" fill="#2fffd0"/><path d="M450.3 255.8l3.4 3.7l3.3-3.2l-3.3-3.8z" fill="#0dfff2"/><path d="M435.8 257.8l3.3 3.2l3.4-2.8l-3.3-3.3z" fill="#62ff9d"/><path d="M430 258.4l3.3 2.3l3.4-2.9l-3.3-2.5z" fill="#7fff80"/><path d="M441.6 258.2l3.3 3.3l3.4-2.6l-3.3-3.5z" fill="#48ffb7"/><path d="M447.4 258.8l3.3 3.4l3.4-3.1l-3.3-3.7z" fill="#29ffd6"/><path d="M432.9 260.3l3.3 3l3.4-2.7l-3.3-3.2z" fill="#73ff8c"/><path d="M438.7 260.5l3.3 3.2l3.4-2.6l-3.3-3.3z" fill="#59ffa6"/><path d="M444.5 261l3.3 3.3l3.4-2.4l-3.3-3.5z" fill="#40ffbf"/><path d="M435.8 262.8l3.3 3.1l3.4-2.6l-3.3-3.2z" fill="#6aff95"/><path d="M441.6 263.2l3.3 3.2l3.4-2.5l-3.3-3.3z" fill="#51ffae"/><path d="M438.7 265.4l3.3 3l3.4-2.4l-3.4-3.2z" fill="#62ff9d"/></g><polyline points="398.8,240.3 407.5,233.5" fill="none" stroke="#fff" stroke-width="0.55" stroke-opacity="0.14"/><polyline points="398.8,240.3 407.4,245.9" fill="none" stroke="#fff" stroke-width="0.55" stroke-opacity="0.14"/><polyline points="407.5,233.5 416.2,215.9" fill="none" stroke="#fff" stroke-width="0.55" stroke-opacity="0.16"/><polyline points="407.4,245.9 416.1,250.9" fill="none" stroke="#fff" stroke-width="0.55" stroke-opacity="0.12"/><polyline points="416.2,215.9 425,205.5" fill="none" stroke="#fff" stroke-width="0.55" stroke-opacity="0.18"/><polyline points="416.1,250.9 424.7,254.4" fill="none" stroke="#fff" stroke-width="0.55" stroke-opacity="0.1"/><polyline points="425,205.5 433.8,198.4" fill="none" stroke="#fff" stroke-width="0.55" stroke-opacity="0.16"/><polyline points="424.7,254.4 433.4,260.3" fill="none" stroke="#fff" stroke-width="0.55" stroke-opacity="0.12"/><polyline points="433.8,198.4 442.5,192.5" fill="none" stroke="#fff" stroke-width="0.55" stroke-opacity="0.14"/><polyline points="433.4,260.3 442,268" fill="none" stroke="#fff" stroke-width="0.55" stroke-opacity="0.16"/><polyline points="407.4,245.9 416.1,238.5" fill="none" stroke="#fff" stroke-width="0.55" stroke-opacity="0.12"/><polyline points="407.5,233.5 416.1,238.5" fill="none" stroke="#fff" stroke-width="0.55" stroke-opacity="0.12"/><polyline points="416.1,238.5 424.9,221.5" fill="none" stroke="#fff" stroke-width="0.55" stroke-opacity="0.14"/><polyline points="416.1,238.5 424.8,244.1" fill="none" stroke="#fff" stroke-width="0.55" stroke-opacity="0.1"/><polyline points="424.9,221.5 433.6,212" fill="none" stroke="#fff" stroke-width="0.55" stroke-opacity="0.18"/><polyline points="424.8,244.1 433.4,245.8" fill="none" stroke="#fff" stroke-width="0.55" stroke-opacity="0.1"/><polyline points="433.6,212 442.4,206.4" fill="none" stroke="#fff" stroke-width="0.55" stroke-opacity="0.16"/><polyline points="433.4,245.8 442.1,252.9" fill="none" stroke="#fff" stroke-width="0.55" stroke-opacity="0.1"/><polyline points="442.4,206.4 451.1,201.1" fill="none" stroke="#fff" stroke-width="0.55" stroke-opacity="0.14"/><polyline points="442.1,252.9 450.8,261.8" fill="none" stroke="#fff" stroke-width="0.55" stroke-opacity="0.24"/><polyline points="416.1,250.9 424.8,244.1" fill="none" stroke="#fff" stroke-width="0.55" stroke-opacity="0.1"/><polyline points="416.2,215.9 424.9,221.5" fill="none" stroke="#fff" stroke-width="0.55" stroke-opacity="0.18"/><polyline points="424.8,244.1 433.6,228" fill="none" stroke="#fff" stroke-width="0.55" stroke-opacity="0.18"/><polyline points="424.9,221.5 433.6,228" fill="none" stroke="#fff" stroke-width="0.55" stroke-opacity="0.24"/><polyline points="433.6,228 442.3,217.9" fill="none" stroke="#fff" stroke-width="0.55" stroke-opacity="0.26"/><polyline points="433.6,228 442.2,231.2" fill="none" stroke="#fff" stroke-width="0.55" stroke-opacity="0.32"/><polyline points="442.3,217.9 451.1,211.1" fill="none" stroke="#fff" stroke-width="0.55" stroke-opacity="0.16"/><polyline points="442.2,231.2 450.9,242.8" fill="none" stroke="#fff" stroke-width="0.55" stroke-opacity="0.38"/><polyline points="451.1,211.1 459.8,204.9" fill="none" stroke="#fff" stroke-width="0.55" stroke-opacity="0.12"/><polyline points="450.9,242.8 459.5,253.5" fill="none" stroke="#fff" stroke-width="0.55" stroke-opacity="0.39"/><polyline points="424.7,254.4 433.4,245.8" fill="none" stroke="#fff" stroke-width="0.55" stroke-opacity="0.1"/><polyline points="425,205.5 433.6,212" fill="none" stroke="#fff" stroke-width="0.55" stroke-opacity="0.18"/><polyline points="433.4,245.8 442.2,231.2" fill="none" stroke="#fff" stroke-width="0.55" stroke-opacity="0.15"/><polyline points="433.6,212 442.3,217.9" fill="none" stroke="#fff" stroke-width="0.55" stroke-opacity="0.2"/><polyline points="442.2,231.2 450.9,221.1" fill="none" stroke="#fff" stroke-width="0.55" stroke-opacity="0.28"/><polyline points="442.3,217.9 450.9,221.1" fill="none" stroke="#fff" stroke-width="0.55" stroke-opacity="0.22"/><polyline points="450.9,221.1 459.7,214.9" fill="none" stroke="#fff" stroke-width="0.55" stroke-opacity="0.1"/><polyline points="450.9,221.1 459.6,235.7" fill="none" stroke="#fff" stroke-width="0.55" stroke-opacity="0.28"/><polyline points="459.7,214.9 468.4,209" fill="none" stroke="#fff" stroke-width="0.55" stroke-opacity="0.1"/><polyline points="459.6,235.7 468.2,246.1" fill="none" stroke="#fff" stroke-width="0.55" stroke-opacity="0.32"/><polyline points="433.4,260.3 442.1,252.9" fill="none" stroke="#fff" stroke-width="0.55" stroke-opacity="0.18"/><polyline points="433.8,198.4 442.4,206.4" fill="none" stroke="#fff" stroke-width="0.55" stroke-opacity="0.14"/><polyline points="442.1,252.9 450.9,242.8" fill="none" stroke="#fff" stroke-width="0.55" stroke-opacity="0.32"/><polyline points="442.4,206.4 451.1,211.1" fill="none" stroke="#fff" stroke-width="0.55" stroke-opacity="0.12"/><polyline points="450.9,242.8 459.6,235.7" fill="none" stroke="#fff" stroke-width="0.55" stroke-opacity="0.38"/><polyline points="451.1,211.1 459.7,214.9" fill="none" stroke="#fff" stroke-width="0.55" stroke-opacity="0.1"/><polyline points="459.6,235.7 468.4,229.5" fill="none" stroke="#fff" stroke-width="0.55" stroke-opacity="0.2"/><polyline points="459.7,214.9 468.4,229.5" fill="none" stroke="#fff" stroke-width="0.55" stroke-opacity="0.1"/><polyline points="468.4,229.5 477.1,223.6" fill="none" stroke="#fff" stroke-width="0.55" stroke-opacity="0.1"/><polyline points="468.4,229.5 477,239.9" fill="none" stroke="#fff" stroke-width="0.55" stroke-opacity="0.12"/><polyline points="442,268 450.8,261.8" fill="none" stroke="#fff" stroke-width="0.55" stroke-opacity="0.22"/><polyline points="442.5,192.5 451.1,201.1" fill="none" stroke="#fff" stroke-width="0.55" stroke-opacity="0.14"/><polyline points="450.8,261.8 459.5,253.5" fill="none" stroke="#fff" stroke-width="0.55" stroke-opacity="0.32"/><polyline points="451.1,201.1 459.8,204.9" fill="none" stroke="#fff" stroke-width="0.55" stroke-opacity="0.14"/><polyline points="459.5,253.5 468.2,246.1" fill="none" stroke="#fff" stroke-width="0.55" stroke-opacity="0.34"/><polyline points="459.8,204.9 468.4,209" fill="none" stroke="#fff" stroke-width="0.55" stroke-opacity="0.1"/><polyline points="468.2,246.1 477,239.9" fill="none" stroke="#fff" stroke-width="0.55" stroke-opacity="0.24"/><polyline points="468.4,209 477.1,223.6" fill="none" stroke="#fff" stroke-width="0.55" stroke-opacity="0.1"/><polyline points="477,239.9 485.8,234.3" fill="none" stroke="#fff" stroke-width="0.55" stroke-opacity="0.16"/><polyline points="477.1,223.6 485.8,234.3" fill="none" stroke="#fff" stroke-width="0.55" stroke-opacity="0.1"/><circle cx="398.8" cy="240.3" r="0.75" fill="#222" fill-opacity="0.8"/><circle cx="407.5" cy="233.5" r="0.75" fill="#222" fill-opacity="0.8"/><circle cx="416.2" cy="215.9" r="0.75" fill="#222" fill-opacity="0.8"/><circle cx="425" cy="205.5" r="0.75" fill="#222" fill-opacity="0.8"/><circle cx="433.8" cy="198.4" r="0.75" fill="#222" fill-opacity="0.8"/><circle cx="442.5" cy="192.5" r="0.75" fill="#222" fill-opacity="0.8"/><circle cx="407.4" cy="245.9" r="0.75" fill="#222" fill-opacity="0.8"/><circle cx="416.1" cy="238.5" r="0.75" fill="#222" fill-opacity="0.8"/><circle cx="424.9" cy="221.5" r="0.75" fill="#222" fill-opacity="0.8"/><circle cx="433.6" cy="212" r="0.75" fill="#222" fill-opacity="0.8"/><circle cx="442.4" cy="206.4" r="0.75" fill="#222" fill-opacity="0.8"/><circle cx="451.1" cy="201.1" r="0.75" fill="#222" fill-opacity="0.8"/><circle cx="416.1" cy="250.9" r="0.75" fill="#222" fill-opacity="0.8"/><circle cx="424.8" cy="244.1" r="0.75" fill="#222" fill-opacity="0.8"/><circle cx="433.6" cy="228" r="0.75" fill="#222" fill-opacity="0.8"/><circle cx="442.3" cy="217.9" r="0.75" fill="#222" fill-opacity="0.8"/><circle cx="451.1" cy="211.1" r="0.75" fill="#222" fill-opacity="0.8"/><circle cx="459.8" cy="204.9" r="0.75" fill="#222" fill-opacity="0.8"/><circle cx="424.7" cy="254.4" r="0.75" fill="#222" fill-opacity="0.8"/><circle cx="433.4" cy="245.8" r="0.75" fill="#222" fill-opacity="0.8"/><circle cx="442.2" cy="231.2" r="0.75" fill="#222" fill-opacity="0.8"/><circle cx="450.9" cy="221.1" r="0.75" fill="#222" fill-opacity="0.8"/><circle cx="459.7" cy="214.9" r="0.75" fill="#222" fill-opacity="0.8"/><circle cx="468.4" cy="209" r="0.75" fill="#222" fill-opacity="0.8"/><circle cx="433.4" cy="260.3" r="0.75" fill="#222" fill-opacity="0.8"/><circle cx="442.1" cy="252.9" r="0.75" fill="#222" fill-opacity="0.8"/><circle cx="450.9" cy="242.8" r="0.75" fill="#222" fill-opacity="0.8"/><circle cx="459.6" cy="235.7" r="0.75" fill="#222" fill-opacity="0.8"/><circle cx="468.4" cy="229.5" r="0.75" fill="#222" fill-opacity="0.8"/><circle cx="477.1" cy="223.6" r="0.75" fill="#222" fill-opacity="0.8"/><circle cx="442" cy="268" r="0.75" fill="#222" fill-opacity="0.8"/><circle cx="450.8" cy="261.8" r="0.75" fill="#222" fill-opacity="0.8"/><circle cx="459.5" cy="253.5" r="0.75" fill="#222" fill-opacity="0.8"/><circle cx="468.2" cy="246.1" r="0.75" fill="#222" fill-opacity="0.8"/><circle cx="477" cy="239.9" r="0.75" fill="#222" fill-opacity="0.8"/><circle cx="485.8" cy="234.3" r="0.75" fill="#222" fill-opacity="0.8"/><polyline points="398.8,247.5 442,272.5 485.8,247.5" fill="none" stroke="#8c8c8c" stroke-width="0.55"/><polyline points="398.8,247.5 398.8,213" fill="none" stroke="#8c8c8c" stroke-width="0.55"/></g>
<line x1="396.2" y1="247.5" x2="398.8" y2="247.5" stroke="#8c8c8c" stroke-width="0.5"/>
<text x="396.4" y="249.4" text-anchor="end" fill="#222" style="stroke:#222" font-size="4.8">0</text>
<line x1="396.2" y1="232.5" x2="398.8" y2="232.5" stroke="#8c8c8c" stroke-width="0.5"/>
<text x="396.4" y="234.4" text-anchor="end" fill="#222" style="stroke:#222" font-size="4.8">50</text>
<line x1="396.2" y1="217.5" x2="398.8" y2="217.5" stroke="#8c8c8c" stroke-width="0.5"/>
<text x="396.4" y="219.4" text-anchor="end" fill="#222" style="stroke:#222" font-size="4.8">100</text>
<line x1="398.8" y1="247.5" x2="397.1" y2="248.7" stroke="#8c8c8c" stroke-width="0.5"/>
<text x="390.4" y="254" text-anchor="middle" fill="#222" style="stroke:#222" font-size="4.8">0</text>
<line x1="407.4" y1="252.5" x2="405.8" y2="253.7" stroke="#8c8c8c" stroke-width="0.5"/>
<text x="399" y="259" text-anchor="middle" fill="#222" style="stroke:#222" font-size="4.8">0.01</text>
<line x1="416.1" y1="257.5" x2="414.4" y2="258.7" stroke="#8c8c8c" stroke-width="0.5"/>
<text x="407.7" y="264" text-anchor="middle" fill="#222" style="stroke:#222" font-size="4.8">0.05</text>
<line x1="424.7" y1="262.5" x2="423.1" y2="263.7" stroke="#8c8c8c" stroke-width="0.5"/>
<text x="416.3" y="269" text-anchor="middle" fill="#222" style="stroke:#222" font-size="4.8">0.1</text>
<line x1="433.4" y1="267.5" x2="431.8" y2="268.7" stroke="#8c8c8c" stroke-width="0.5"/>
<text x="425" y="274" text-anchor="middle" fill="#222" style="stroke:#222" font-size="4.8">0.5</text>
<line x1="442" y1="272.5" x2="440.4" y2="273.7" stroke="#8c8c8c" stroke-width="0.5"/>
<text x="433.6" y="279" text-anchor="middle" fill="#222" style="stroke:#222" font-size="4.8">1</text>
<line x1="442" y1="272.5" x2="443.6" y2="273.7" stroke="#8c8c8c" stroke-width="0.5"/>
<text x="444.2" y="279.8" fill="#222" style="stroke:#222" font-size="4.8">0.01</text>
<line x1="450.8" y1="267.5" x2="452.4" y2="268.7" stroke="#8c8c8c" stroke-width="0.5"/>
<text x="452.9" y="274.8" fill="#222" style="stroke:#222" font-size="4.8">0.005</text>
<line x1="459.5" y1="262.5" x2="461.1" y2="263.7" stroke="#8c8c8c" stroke-width="0.5"/>
<text x="461.7" y="269.8" fill="#222" style="stroke:#222" font-size="4.8">0.001</text>
<line x1="468.2" y1="257.5" x2="469.9" y2="258.7" stroke="#8c8c8c" stroke-width="0.5"/>
<text x="470.4" y="264.8" fill="#222" style="stroke:#222" font-size="4.8">0.0005</text>
<line x1="477" y1="252.5" x2="478.6" y2="253.7" stroke="#8c8c8c" stroke-width="0.5"/>
<text x="479.2" y="259.8" fill="#222" style="stroke:#222" font-size="4.8">0.0001</text>
<line x1="485.8" y1="247.5" x2="487.4" y2="248.7" stroke="#8c8c8c" stroke-width="0.5"/>
<text x="487.9" y="254.8" fill="#222" style="stroke:#222" font-size="4.8">0</text>
<text x="404" y="275.9" text-anchor="middle" fill="#222" style="stroke:#222" font-size="6.1">Cis (<tspan font-size="5" font-family="Liberation Serif, serif">μ</tspan>mol/L)</text>
<text x="488.6" y="275.4" text-anchor="middle" fill="#222" style="stroke:#222" font-size="6.1">Enti (<tspan font-size="5" font-family="Liberation Serif, serif">μ</tspan>mol/L)</text>
<text x="436" y="184.9" text-anchor="middle" font-size="9.7">COR-L311</text>
<text x="119.9" y="310.7" text-anchor="middle" font-size="9.9">Entinostat + cisplatin</text>
<rect x="46.6" y="321.4" width="5.4" height="103.2" fill="#1414dc"/>
<line x1="49.3" y1="424.6" x2="49.3" y2="429.6" stroke="#2a2a2a" stroke-width="1.05"/>
<text text-anchor="end" transform="translate(52.7 431.2) rotate(-90)" font-size="9.8">H841</text>
<rect x="56" y="339.5" width="5.4" height="85.1" fill="#000"/>
<line x1="58.7" y1="424.6" x2="58.7" y2="429.6" stroke="#2a2a2a" stroke-width="1.05"/>
<text text-anchor="end" transform="translate(62.1 431.2) rotate(-90)" font-size="9.8">H2171</text>
<rect x="65.5" y="347.2" width="5.4" height="77.4" fill="#000"/>
<line x1="68.2" y1="424.6" x2="68.2" y2="429.6" stroke="#2a2a2a" stroke-width="1.05"/>
<text text-anchor="end" transform="translate(71.6 431.2) rotate(-90)" font-size="9.8">H196</text>
<rect x="74.9" y="349.8" width="5.4" height="74.8" fill="#1414dc"/>
<line x1="77.6" y1="424.6" x2="77.6" y2="429.6" stroke="#2a2a2a" stroke-width="1.05"/>
<text text-anchor="end" transform="translate(81 431.2) rotate(-90)" font-size="9.8">H372</text>
<rect x="84.3" y="353.2" width="5.4" height="71.4" fill="#000"/>
<line x1="87" y1="424.6" x2="87" y2="429.6" stroke="#2a2a2a" stroke-width="1.05"/>
<text text-anchor="end" transform="translate(90.4 431.2) rotate(-90)" font-size="9.8">H1048</text>
<rect x="93.7" y="356.7" width="5.4" height="67.9" fill="#000"/>
<line x1="96.4" y1="424.6" x2="96.4" y2="429.6" stroke="#2a2a2a" stroke-width="1.05"/>
<text text-anchor="end" transform="translate(99.8 431.2) rotate(-90)" font-size="9.8">SHP77</text>
<rect x="103.2" y="372.1" width="5.4" height="52.5" fill="#000"/>
<line x1="105.9" y1="424.6" x2="105.9" y2="429.6" stroke="#2a2a2a" stroke-width="1.05"/>
<text text-anchor="end" transform="translate(109.3 431.2) rotate(-90)" font-size="9.8">H1341</text>
<rect x="112.6" y="374.7" width="5.4" height="49.9" fill="#000"/>
<line x1="115.3" y1="424.6" x2="115.3" y2="429.6" stroke="#2a2a2a" stroke-width="1.05"/>
<text text-anchor="end" transform="translate(118.7 431.2) rotate(-90)" font-size="9.8">H146</text>
<rect x="122" y="379" width="5.4" height="45.6" fill="#000"/>
<line x1="124.7" y1="424.6" x2="124.7" y2="429.6" stroke="#2a2a2a" stroke-width="1.05"/>
<text text-anchor="end" transform="translate(128.1 431.2) rotate(-90)" font-size="9.8">H82</text>
<rect x="131.5" y="384.2" width="5.4" height="40.4" fill="#000"/>
<line x1="134.2" y1="424.6" x2="134.2" y2="429.6" stroke="#2a2a2a" stroke-width="1.05"/>
<text text-anchor="end" transform="translate(137.6 431.2) rotate(-90)" font-size="9.8">DMS53</text>
<rect x="140.9" y="385.9" width="5.4" height="38.7" fill="#000"/>
<line x1="143.6" y1="424.6" x2="143.6" y2="429.6" stroke="#2a2a2a" stroke-width="1.05"/>
<text text-anchor="end" transform="translate(147 431.2) rotate(-90)" font-size="9.8">HLHE</text>
<rect x="150.3" y="388.5" width="5.4" height="36.1" fill="#000"/>
<line x1="153" y1="424.6" x2="153" y2="429.6" stroke="#2a2a2a" stroke-width="1.05"/>
<text text-anchor="end" transform="translate(156.4 431.2) rotate(-90)" font-size="9.8">H524</text>
<rect x="159.8" y="391.9" width="5.4" height="32.7" fill="#188418"/>
<line x1="162.5" y1="424.6" x2="162.5" y2="429.6" stroke="#2a2a2a" stroke-width="1.05"/>
<text text-anchor="end" transform="translate(165.9 431.2) rotate(-90)" font-size="9.8">H1694</text>
<rect x="169.2" y="394.5" width="5.4" height="30.1" fill="#188418"/>
<line x1="171.9" y1="424.6" x2="171.9" y2="429.6" stroke="#2a2a2a" stroke-width="1.05"/>
<text text-anchor="end" transform="translate(175.3 431.2) rotate(-90)" font-size="9.8">CRL-2177</text>
<rect x="178.6" y="397.9" width="5.4" height="26.7" fill="#000"/>
<line x1="181.3" y1="424.6" x2="181.3" y2="429.6" stroke="#2a2a2a" stroke-width="1.05"/>
<text text-anchor="end" transform="translate(184.7 431.2) rotate(-90)" font-size="9.8">COR-L311</text>
<rect x="188.1" y="398.8" width="5.4" height="25.8" fill="#000"/>
<line x1="190.8" y1="424.6" x2="190.8" y2="429.6" stroke="#2a2a2a" stroke-width="1.05"/>
<text text-anchor="end" transform="translate(194.2 431.2) rotate(-90)" font-size="9.8">GLC4</text>
<line x1="43.6" y1="313" x2="43.6" y2="425.1" stroke="#2a2a2a" stroke-width="1.05"/>
<line x1="43.1" y1="424.6" x2="198.5" y2="424.6" stroke="#2a2a2a" stroke-width="1.05"/>
<line x1="38.6" y1="424.6" x2="43.6" y2="424.6" stroke="#2a2a2a" stroke-width="1.05"/>
<text x="36.1" y="428" text-anchor="end" font-size="9.6">0</text>
<line x1="38.6" y1="390.2" x2="43.6" y2="390.2" stroke="#2a2a2a" stroke-width="1.05"/>
<text x="36.1" y="393.6" text-anchor="end" font-size="9.6">20</text>
<line x1="38.6" y1="364.4" x2="43.6" y2="364.4" stroke="#2a2a2a" stroke-width="1.05"/>
<text x="36.1" y="367.8" text-anchor="end" font-size="9.6">35</text>
<line x1="38.6" y1="355.8" x2="43.6" y2="355.8" stroke="#2a2a2a" stroke-width="1.05"/>
<text x="36.1" y="359.2" text-anchor="end" font-size="9.6">40</text>
<line x1="38.6" y1="321.4" x2="43.6" y2="321.4" stroke="#2a2a2a" stroke-width="1.05"/>
<text x="36.1" y="324.8" text-anchor="end" font-size="9.6">60</text>
<line x1="43.6" y1="364.4" x2="199.5" y2="364.4" stroke="#e8202a" stroke-width="1.3"/>
<text x="176.3" y="360.1" font-weight="bold" fill="#1a1ad0" style="stroke:#1a1ad0" font-size="9.0">SYN</text>
<text x="176.3" y="373" font-weight="bold" fill="#1f8a1f" style="stroke:#1f8a1f" font-size="9.0">ADD</text>
<text text-anchor="middle" transform="translate(18.6 369.6) rotate(-90)" font-size="9.75">Max. synergism score</text>
<line x1="247.8" y1="418.1" x2="359.8" y2="418.1" stroke="#444" stroke-width="0.7" stroke-dasharray="1 1.6"/>
<path d="M257.1 404.2C259.3 403.6 265.5 402.3 270.2 400.6C274.8 398.9 279.5 397.8 285.1 394.2C290.7 390.6 297.5 384.7 303.8 379.2C310 373.7 316.2 366.9 322.4 361.1C328.6 355.3 337.9 347.2 341.1 344.4" fill="none" stroke="#666" stroke-width="0.8" stroke-dasharray="1 1.2"/>
<path d="M266.4 432C268 430.4 272.7 425.1 275.8 422.3C278.9 419.5 280.4 418.1 285.1 415.3C289.8 412.5 297.5 407.9 303.8 405.6C310 403.3 316.2 402.7 322.4 401.4C328.6 400.2 337.9 398.6 341.1 398.1" fill="none" stroke="#666" stroke-width="0.8" stroke-dasharray="1 1.2"/>
<line x1="258.1" y1="421.7" x2="341.1" y2="371.4" stroke="#111" stroke-width="1.0"/>
<circle cx="258.1" cy="413.9" r="1.55" fill="#000"/>
<circle cx="258.6" cy="418.1" r="1.55" fill="#000"/>
<circle cx="261.8" cy="398.1" r="1.55" fill="#000"/>
<circle cx="265.5" cy="417.5" r="1.55" fill="#000"/>
<circle cx="268.3" cy="418.1" r="1.55" fill="#000"/>
<circle cx="272" cy="412" r="1.55" fill="#000"/>
<circle cx="273.9" cy="416.7" r="1.55" fill="#000"/>
<circle cx="279.5" cy="418.1" r="1.55" fill="#000"/>
<circle cx="283.2" cy="412.5" r="1.55" fill="#000"/>
<circle cx="287" cy="411.2" r="1.55" fill="#000"/>
<circle cx="303.8" cy="411.2" r="1.55" fill="#000"/>
<circle cx="306.5" cy="342.2" r="1.55" fill="#000"/>
<circle cx="310.3" cy="396.4" r="1.55" fill="#000"/>
<circle cx="313.1" cy="414.8" r="1.55" fill="#000"/>
<circle cx="321.5" cy="413.4" r="1.55" fill="#000"/>
<circle cx="341.1" cy="337.5" r="1.55" fill="#000"/>
<rect x="247.8" y="321.2" width="112" height="110.1" fill="none" stroke="#444" stroke-width="1.2"/>
<line x1="242.8" y1="418.1" x2="247.8" y2="418.1" stroke="#2a2a2a" stroke-width="1.05"/>
<text x="240.9" y="421.7" text-anchor="end" font-size="10">0</text>
<line x1="242.8" y1="390.3" x2="247.8" y2="390.3" stroke="#2a2a2a" stroke-width="1.05"/>
<text x="240.9" y="393.9" text-anchor="end" font-size="10">10</text>
<line x1="242.8" y1="362.5" x2="247.8" y2="362.5" stroke="#2a2a2a" stroke-width="1.05"/>
<text x="240.9" y="366.1" text-anchor="end" font-size="10">20</text>
<line x1="242.8" y1="334.7" x2="247.8" y2="334.7" stroke="#2a2a2a" stroke-width="1.05"/>
<text x="240.9" y="338.3" text-anchor="end" font-size="10">30</text>
<line x1="247.8" y1="431.3" x2="247.8" y2="436.3" stroke="#2a2a2a" stroke-width="1.05"/>
<text x="247.8" y="448.6" text-anchor="middle" font-size="10">10</text>
<line x1="266.4" y1="431.3" x2="266.4" y2="436.3" stroke="#2a2a2a" stroke-width="1.05"/>
<text x="266.4" y="448.6" text-anchor="middle" font-size="10">20</text>
<line x1="285.1" y1="431.3" x2="285.1" y2="436.3" stroke="#2a2a2a" stroke-width="1.05"/>
<text x="285.1" y="448.6" text-anchor="middle" font-size="10">30</text>
<line x1="303.8" y1="431.3" x2="303.8" y2="436.3" stroke="#2a2a2a" stroke-width="1.05"/>
<text x="303.8" y="448.6" text-anchor="middle" font-size="10">40</text>
<line x1="322.4" y1="431.3" x2="322.4" y2="436.3" stroke="#2a2a2a" stroke-width="1.05"/>
<text x="322.4" y="448.6" text-anchor="middle" font-size="10">50</text>
<line x1="341.1" y1="431.3" x2="341.1" y2="436.3" stroke="#2a2a2a" stroke-width="1.05"/>
<text x="341.1" y="448.6" text-anchor="middle" font-size="10">60</text>
<line x1="359.7" y1="431.3" x2="359.7" y2="436.3" stroke="#2a2a2a" stroke-width="1.05"/>
<text x="359.7" y="448.6" text-anchor="middle" font-size="10">70</text>
<text x="304.2" y="463.6" text-anchor="middle" font-size="9.9">Max. synergism score</text>
<text text-anchor="middle" transform="translate(225 375.8) rotate(-90)" font-size="9.9">Entinostat IC<tspan font-size="6.8" dy="1.8">50</tspan><tspan dy="-1.8"> (<tspan font-size="8" font-family="Liberation Serif, serif">μ</tspan>mol/L)</tspan></text>
<text x="252.3" y="351.9" font-size="9.8"><tspan font-style="italic">r</tspan> = 0.5324</text>
<text x="252.3" y="363.5" font-size="9.8"><tspan font-style="italic">P</tspan> = 0.0360 (*)</text>
<line x1="402.8" y1="419.9" x2="514.5" y2="419.9" stroke="#444" stroke-width="0.7" stroke-dasharray="1 1.6"/>
<path d="M413 394C416 393.4 424.7 392.4 430.7 390.3C436.8 388.3 443.1 385.4 449.4 381.7C455.6 378 460.2 374.5 468 368.1C475.7 361.8 491.2 347.6 495.9 343.5" fill="none" stroke="#666" stroke-width="0.8" stroke-dasharray="1 1.2"/>
<path d="M413 426.1C416 423.8 424.7 416.6 430.7 412.5C436.8 408.4 443.1 404.3 449.4 401.4C455.6 398.5 460.2 396.9 468 395.2C475.7 393.6 491.2 392.2 495.9 391.6" fill="none" stroke="#666" stroke-width="0.8" stroke-dasharray="1 1.2"/>
<line x1="413" y1="410.5" x2="495.9" y2="366.9" stroke="#111" stroke-width="1.0"/>
<circle cx="413" cy="391.6" r="1.55" fill="#000"/>
<circle cx="414" cy="417.9" r="1.55" fill="#000"/>
<circle cx="417.7" cy="389.1" r="1.55" fill="#000"/>
<circle cx="420.5" cy="417.9" r="1.55" fill="#000"/>
<circle cx="424.2" cy="415.7" r="1.55" fill="#000"/>
<circle cx="427" cy="381.7" r="1.55" fill="#000"/>
<circle cx="428.9" cy="412" r="1.55" fill="#000"/>
<circle cx="434.5" cy="417.4" r="1.55" fill="#000"/>
<circle cx="438.2" cy="412.5" r="1.55" fill="#000"/>
<circle cx="441.9" cy="382.9" r="1.55" fill="#000"/>
<circle cx="458.7" cy="403.9" r="1.55" fill="#000"/>
<circle cx="461.5" cy="390.8" r="1.55" fill="#000"/>
<circle cx="465.2" cy="339.3" r="1.55" fill="#000"/>
<circle cx="468" cy="402.6" r="1.55" fill="#000"/>
<circle cx="476.3" cy="368.1" r="1.55" fill="#000"/>
<circle cx="495.9" cy="367.4" r="1.55" fill="#000"/>
<rect x="402.8" y="321.2" width="111.7" height="110.4" fill="none" stroke="#444" stroke-width="1.2"/>
<line x1="397.8" y1="419.9" x2="402.8" y2="419.9" stroke="#2a2a2a" stroke-width="1.05"/>
<text x="395.9" y="423.5" text-anchor="end" font-size="10">0</text>
<line x1="397.8" y1="395.2" x2="402.8" y2="395.2" stroke="#2a2a2a" stroke-width="1.05"/>
<text x="395.9" y="398.9" text-anchor="end" font-size="10">10</text>
<line x1="397.8" y1="370.6" x2="402.8" y2="370.6" stroke="#2a2a2a" stroke-width="1.05"/>
<text x="395.9" y="374.2" text-anchor="end" font-size="10">20</text>
<line x1="397.8" y1="345.9" x2="402.8" y2="345.9" stroke="#2a2a2a" stroke-width="1.05"/>
<text x="395.9" y="349.6" text-anchor="end" font-size="10">30</text>
<line x1="397.8" y1="321.3" x2="402.8" y2="321.3" stroke="#2a2a2a" stroke-width="1.05"/>
<text x="395.9" y="324.9" text-anchor="end" font-size="10">40</text>
<line x1="402.8" y1="431.6" x2="402.8" y2="436.6" stroke="#2a2a2a" stroke-width="1.05"/>
<text x="402.8" y="448.9" text-anchor="middle" font-size="10">10</text>
<line x1="421.4" y1="431.6" x2="421.4" y2="436.6" stroke="#2a2a2a" stroke-width="1.05"/>
<text x="421.4" y="448.9" text-anchor="middle" font-size="10">20</text>
<line x1="440" y1="431.6" x2="440" y2="436.6" stroke="#2a2a2a" stroke-width="1.05"/>
<text x="440" y="448.9" text-anchor="middle" font-size="10">30</text>
<line x1="458.7" y1="431.6" x2="458.7" y2="436.6" stroke="#2a2a2a" stroke-width="1.05"/>
<text x="458.7" y="448.9" text-anchor="middle" font-size="10">40</text>
<line x1="477.3" y1="431.6" x2="477.3" y2="436.6" stroke="#2a2a2a" stroke-width="1.05"/>
<text x="477.3" y="448.9" text-anchor="middle" font-size="10">50</text>
<line x1="495.9" y1="431.6" x2="495.9" y2="436.6" stroke="#2a2a2a" stroke-width="1.05"/>
<text x="495.9" y="448.9" text-anchor="middle" font-size="10">60</text>
<line x1="514.5" y1="431.6" x2="514.5" y2="436.6" stroke="#2a2a2a" stroke-width="1.05"/>
<text x="514.5" y="448.9" text-anchor="middle" font-size="10">70</text>
<text x="458.5" y="463.6" text-anchor="middle" font-size="9.9">Max. synergism score</text>
<text text-anchor="middle" transform="translate(380 375.8) rotate(-90)" font-size="9.9">Cisplatin IC<tspan font-size="6.8" dy="1.8">50</tspan><tspan dy="-1.8"> (<tspan font-size="8" font-family="Liberation Serif, serif">μ</tspan>mol/L)</tspan></text>
<text x="407.2" y="349" font-size="9.8"><tspan font-style="italic">r</tspan> = 0.5622</text>
<text x="407.2" y="360.8" font-size="9.8"><tspan font-style="italic">P</tspan> = 0.0254 (*)</text>
<rect x="39.2" y="512.5" width="14.6" height="4.6" fill="#1414dc"/>
<text x="61.2" y="518" font-size="9.3">SYN</text>
<rect x="90" y="512.5" width="15" height="4.6" fill="#188418"/>
<text x="113" y="518" font-size="9.3">ADD</text>
<path d="M70.1 580.2V575.9M66.9 575.9h6.4" stroke="#333" stroke-width="0.9" fill="none"/>
<rect x="64" y="580.2" width="12.2" height="59" fill="#1414dc"/>
<line x1="70.1" y1="639.2" x2="70.1" y2="644.2" stroke="#2a2a2a" stroke-width="1.05"/>
<text text-anchor="end" transform="translate(73.7 651.8) rotate(-45)" font-size="9.8">Cis</text>
<path d="M84.2 559.2V549.3M81 549.3h6.4" stroke="#333" stroke-width="0.9" fill="none"/>
<rect x="78" y="559.2" width="12.4" height="80" fill="#1414dc"/>
<line x1="84.2" y1="639.2" x2="84.2" y2="644.2" stroke="#2a2a2a" stroke-width="1.05"/>
<text text-anchor="end" transform="translate(87.8 651.8) rotate(-45)" font-size="9.8">Enti + Cis</text>
<path d="M104.7 613V610.2M101.5 610.2h6.4" stroke="#333" stroke-width="0.9" fill="none"/>
<rect x="98.7" y="613" width="11.9" height="26.2" fill="#188418"/>
<line x1="104.7" y1="639.2" x2="104.7" y2="644.2" stroke="#2a2a2a" stroke-width="1.05"/>
<text text-anchor="end" transform="translate(108.2 651.8) rotate(-45)" font-size="9.8">Cis</text>
<path d="M118.6 587.4V583.4M115.4 583.4h6.4" stroke="#333" stroke-width="0.9" fill="none"/>
<rect x="112.6" y="587.4" width="12" height="51.8" fill="#188418"/>
<line x1="118.6" y1="639.2" x2="118.6" y2="644.2" stroke="#2a2a2a" stroke-width="1.05"/>
<text text-anchor="end" transform="translate(122.2 651.8) rotate(-45)" font-size="9.8">Enti + Cis</text>
<line x1="58" y1="527.5" x2="58" y2="639.7" stroke="#2a2a2a" stroke-width="1.05"/>
<line x1="57.5" y1="639.2" x2="130.8" y2="639.2" stroke="#2a2a2a" stroke-width="1.05"/>
<line x1="53" y1="639.2" x2="58" y2="639.2" stroke="#2a2a2a" stroke-width="1.05"/>
<text x="50.5" y="642.6" text-anchor="end" font-size="9.6">0</text>
<line x1="53" y1="606.4" x2="58" y2="606.4" stroke="#2a2a2a" stroke-width="1.05"/>
<text x="50.5" y="609.8" text-anchor="end" font-size="9.6">5</text>
<line x1="53" y1="573.6" x2="58" y2="573.6" stroke="#2a2a2a" stroke-width="1.05"/>
<text x="50.5" y="577" text-anchor="end" font-size="9.6">10</text>
<line x1="53" y1="540.8" x2="58" y2="540.8" stroke="#2a2a2a" stroke-width="1.05"/>
<text x="50.5" y="544.2" text-anchor="end" font-size="9.6">15</text>
<line x1="67.5" y1="532.5" x2="101.2" y2="532.5" stroke="#333" stroke-width="0.8"/>
<text x="83" y="531" text-anchor="middle" font-weight="bold" font-size="10">***</text>
<line x1="67.5" y1="546.2" x2="81.2" y2="546.2" stroke="#333" stroke-width="0.8"/>
<text x="73.8" y="544.7" text-anchor="middle" font-weight="bold" font-size="10">**</text>
<line x1="85.5" y1="545.8" x2="120" y2="545.8" stroke="#333" stroke-width="0.8"/>
<text x="102.5" y="544.2" text-anchor="middle" font-weight="bold" font-size="10">**</text>
<line x1="103.2" y1="580.5" x2="118.8" y2="580.5" stroke="#333" stroke-width="0.8"/>
<text x="110.5" y="578.5" text-anchor="middle" font-weight="bold" font-size="10">*</text>
<text text-anchor="middle" transform="translate(32.8 585.2) rotate(-90)" font-size="9.6">Pt (ng/10<tspan font-size="6" dy="-3">6</tspan><tspan dy="3"> cells)</tspan></text>
<rect x="225.8" y="536.2" width="15.4" height="4.4" fill="#1414dc"/>
<text x="250" y="541.6" font-size="9.3">SYN</text>
<rect x="278" y="536.2" width="15" height="4.4" fill="#188418"/>
<text x="302.7" y="541.6" font-size="9.3">ADD</text>
<path d="M205.2 573.6V542.3M202.9 542.3h4.6" stroke="#333" stroke-width="0.9" fill="none"/>
<rect x="200.8" y="573.6" width="8.8" height="66" fill="#1414dc"/>
<path d="M218.4 613.2V612.5M216.1 612.5h4.6" stroke="#333" stroke-width="0.9" fill="none"/>
<rect x="214.2" y="613.2" width="8.5" height="26.4" fill="#188418"/>
<path d="M240.6 581.2V572.9M238.3 572.9h4.6" stroke="#333" stroke-width="0.9" fill="none"/>
<rect x="236.2" y="581.2" width="8.8" height="58.4" fill="#1414dc"/>
<path d="M253.8 607.6V597.9M251.5 597.9h4.6" stroke="#333" stroke-width="0.9" fill="none"/>
<rect x="249.2" y="607.6" width="9.3" height="32" fill="#188418"/>
<path d="M276.1 586.8V579.8M273.8 579.8h4.6" stroke="#333" stroke-width="0.9" fill="none"/>
<rect x="271.5" y="586.8" width="9.3" height="52.8" fill="#1414dc"/>
<path d="M289.4 615.3V602.8M287.1 602.8h4.6" stroke="#333" stroke-width="0.9" fill="none"/>
<rect x="285" y="615.3" width="8.8" height="24.3" fill="#188418"/>
<path d="M311.8 581.2V572.9M309.4 572.9h4.6" stroke="#333" stroke-width="0.9" fill="none"/>
<rect x="307.3" y="581.2" width="8.9" height="58.4" fill="#1414dc"/>
<path d="M325 608.3V607.6M322.7 607.6h4.6" stroke="#333" stroke-width="0.9" fill="none"/>
<rect x="320.4" y="608.3" width="9.2" height="31.3" fill="#188418"/>
<line x1="211.8" y1="639.6" x2="211.8" y2="644.1" stroke="#2a2a2a" stroke-width="1.05"/>
<text text-anchor="end" transform="translate(215.4 650.1) rotate(-45)" font-size="9.8">Carboplatin</text>
<line x1="247.2" y1="639.6" x2="247.2" y2="644.1" stroke="#2a2a2a" stroke-width="1.05"/>
<text text-anchor="end" transform="translate(250.8 650.1) rotate(-45)" font-size="9.8">Etoposide</text>
<line x1="282.6" y1="639.6" x2="282.6" y2="644.1" stroke="#2a2a2a" stroke-width="1.05"/>
<text text-anchor="end" transform="translate(286.2 650.1) rotate(-45)" font-size="9.8">Epirubicin</text>
<line x1="318.4" y1="639.6" x2="318.4" y2="644.1" stroke="#2a2a2a" stroke-width="1.05"/>
<text text-anchor="end" transform="translate(322 650.1) rotate(-45)" font-size="9.8">Irinotecan</text>
<line x1="196.1" y1="528.3" x2="196.1" y2="640.1" stroke="#2a2a2a" stroke-width="1.05"/>
<line x1="195.6" y1="639.6" x2="336" y2="639.6" stroke="#2a2a2a" stroke-width="1.05"/>
<line x1="191.1" y1="639.6" x2="196.1" y2="639.6" stroke="#2a2a2a" stroke-width="1.05"/>
<text x="188.6" y="643" text-anchor="end" font-size="9.9">0</text>
<line x1="191.1" y1="611.8" x2="196.1" y2="611.8" stroke="#2a2a2a" stroke-width="1.05"/>
<text x="188.6" y="615.2" text-anchor="end" font-size="9.9">20</text>
<line x1="191.1" y1="591" x2="196.1" y2="591" stroke="#2a2a2a" stroke-width="1.05"/>
<text x="188.6" y="594.4" text-anchor="end" font-size="9.9">35</text>
<line x1="191.1" y1="584" x2="196.1" y2="584" stroke="#2a2a2a" stroke-width="1.05"/>
<text x="188.6" y="587.4" text-anchor="end" font-size="9.9">40</text>
<line x1="191.1" y1="556.2" x2="196.1" y2="556.2" stroke="#2a2a2a" stroke-width="1.05"/>
<text x="188.6" y="559.6" text-anchor="end" font-size="9.9">60</text>
<line x1="191.1" y1="528.4" x2="196.1" y2="528.4" stroke="#2a2a2a" stroke-width="1.05"/>
<text x="188.6" y="531.8" text-anchor="end" font-size="9.9">80</text>
<line x1="196.1" y1="591" x2="336" y2="591" stroke="#e8202a" stroke-width="1.3"/>
<text text-anchor="middle" transform="translate(170.6 584.4) rotate(-90)" font-size="9.75">Max. synergism score</text>
<defs><linearGradient id="cb481" x1="0" y1="0" x2="0" y2="1"><stop offset="0%" stop-color="#000080"/><stop offset="6.2%" stop-color="#0000bf"/><stop offset="12.5%" stop-color="#0000ff"/><stop offset="18.8%" stop-color="#0040ff"/><stop offset="25%" stop-color="#0080ff"/><stop offset="31.2%" stop-color="#00bfff"/><stop offset="37.5%" stop-color="#00ffff"/><stop offset="43.8%" stop-color="#40ffbf"/><stop offset="50%" stop-color="#80ff80"/><stop offset="56.2%" stop-color="#bfff40"/><stop offset="62.5%" stop-color="#ffff00"/><stop offset="68.8%" stop-color="#ffbf00"/><stop offset="75%" stop-color="#ff8000"/><stop offset="81.2%" stop-color="#ff4000"/><stop offset="87.5%" stop-color="#ff0000"/><stop offset="93.8%" stop-color="#bf0000"/><stop offset="100%" stop-color="#800000"/></linearGradient></defs>
<rect x="481.1" y="538.6" width="11.3" height="120.6" fill="url(#cb481)"/>
<text text-anchor="middle" font-weight="bold" transform="translate(500.9 567.2) rotate(-90)" font-size="7.3">Synergy</text>
<text text-anchor="middle" font-weight="bold" transform="translate(500.9 623) rotate(-90)" font-size="7.3">Antagonism</text>
<g><polyline points="374.2,552 418.9,528.9" fill="none" stroke="#e9e9e9" stroke-width="0.5"/><polyline points="374.2,552 418.5,576.2" fill="none" stroke="#e9e9e9" stroke-width="0.5"/><polyline points="383.1,556.8 427.7,533.7" fill="none" stroke="#e9e9e9" stroke-width="0.5"/><polyline points="383.2,547.4 427.4,571.6" fill="none" stroke="#e9e9e9" stroke-width="0.5"/><polyline points="391.9,561.7 436.6,538.6" fill="none" stroke="#e9e9e9" stroke-width="0.5"/><polyline points="392.1,542.8 436.3,567" fill="none" stroke="#e9e9e9" stroke-width="0.5"/><polyline points="400.8,566.5 445.4,543.4" fill="none" stroke="#e9e9e9" stroke-width="0.5"/><polyline points="401,538.1 445.3,562.3" fill="none" stroke="#e9e9e9" stroke-width="0.5"/><polyline points="409.6,571.4 454.2,548.3" fill="none" stroke="#e9e9e9" stroke-width="0.5"/><polyline points="409.9,533.5 454.2,557.7" fill="none" stroke="#e9e9e9" stroke-width="0.5"/><polyline points="418.5,576.2 463.1,553.1" fill="none" stroke="#e9e9e9" stroke-width="0.5"/><polyline points="418.9,528.9 463.1,553.1" fill="none" stroke="#e9e9e9" stroke-width="0.5"/><polyline points="374.2,552 374.2,516.6" fill="none" stroke="#e9e9e9" stroke-width="0.5"/><polyline points="418.9,528.9 418.9,493.5" fill="none" stroke="#e9e9e9" stroke-width="0.5"/><polyline points="383.2,547.4 383.2,512" fill="none" stroke="#e9e9e9" stroke-width="0.5"/><polyline points="427.7,533.7 427.7,498.4" fill="none" stroke="#e9e9e9" stroke-width="0.5"/><polyline points="392.1,542.8 392.1,507.4" fill="none" stroke="#e9e9e9" stroke-width="0.5"/><polyline points="436.6,538.6 436.6,503.2" fill="none" stroke="#e9e9e9" stroke-width="0.5"/><polyline points="401,538.1 401,502.8" fill="none" stroke="#e9e9e9" stroke-width="0.5"/><polyline points="445.4,543.4 445.4,508.1" fill="none" stroke="#e9e9e9" stroke-width="0.5"/><polyline points="409.9,533.5 409.9,498.2" fill="none" stroke="#e9e9e9" stroke-width="0.5"/><polyline points="454.2,548.3 454.2,512.9" fill="none" stroke="#e9e9e9" stroke-width="0.5"/><polyline points="418.9,528.9 418.9,493.5" fill="none" stroke="#e9e9e9" stroke-width="0.5"/><polyline points="463.1,553.1 463.1,517.7" fill="none" stroke="#e9e9e9" stroke-width="0.5"/><polyline points="374.2,552 418.9,528.9 463.1,553.1" fill="none" stroke="#e9e9e9" stroke-width="0.5"/><polyline points="374.2,536.6 418.9,513.5 463.1,537.7" fill="none" stroke="#e9e9e9" stroke-width="0.5"/><polyline points="374.2,521.2 418.9,498.1 463.1,522.4" fill="none" stroke="#e9e9e9" stroke-width="0.5"/><g filter="url(#sm)"><path d="M415.4 499.1l3.4 2.3l3.4-1.5l-3.3-2.5z" fill="#a5ff5a"/><path d="M418.4 500.9l3.4 2.4l3.4-1.3l-3.4-2.6z" fill="#a4ff5b"/><path d="M412.5 500.5l3.3 2.1l3.5-1.6l-3.4-2.3z" fill="#bdff42"/><path d="M421.3 502.7l3.4 2.4l3.4-1.1l-3.3-2.6z" fill="#a2ff5d"/><path d="M415.4 502.1l3.4 2.1l3.4-1.3l-3.4-2.4z" fill="#b9ff46"/><path d="M409.5 501.8l3.4 1.9l3.4-1.5l-3.4-2.1z" fill="#d5ff2a"/><path d="M424.3 504.4l3.4 4.1l3.4-1l-3.4-4z" fill="#a0ff5f"/><path d="M418.4 503.7l3.3 2.1l3.5-1.1l-3.4-2.3z" fill="#b5ff4a"/><path d="M406.5 502.5l3.4 2.3l3.4-1.5l-3.4-1.9z" fill="#e5ff1a"/><path d="M412.4 503.2l3.4 1.9l3.5-1.3l-3.4-2.1z" fill="#ceff31"/><path d="M427.3 507.8l3.3 4.1l3.4-1.1l-3.3-4z" fill="#9dff62"/><path d="M403.5 503.2l3.4 2.7l3.5-1.5l-3.4-2.3z" fill="#eeff11"/><path d="M421.3 505.2l3.4 4l3.4-1l-3.4-4z" fill="#aeff51"/><path d="M409.5 504.3l3.4 2.3l3.4-1.9l-3.4-1.9z" fill="#ddff22"/><path d="M415.4 504.6l3.4 1.9l3.4-1.1l-3.4-2.1z" fill="#c7ff38"/><path d="M430.2 511.2l3.4 4.1l3.4-1.1l-3.4-4z" fill="#9aff65"/><path d="M400.6 503.9l3.4 3.1l3.4-1.5l-3.4-2.7z" fill="#f7ff08"/><path d="M406.5 505.4l3.4 2.7l3.4-1.9l-3.4-2.3z" fill="#e5ff1a"/><path d="M412.4 506.1l3.4 2.3l3.4-2.3l-3.4-1.9z" fill="#d5ff2a"/><path d="M424.3 508.6l3.4 4.1l3.3-1.1l-3.3-4z" fill="#a6ff59"/><path d="M418.4 505.9l3.3 4.1l3.4-1l-3.3-4.1z" fill="#bcff43"/><path d="M403.5 506.5l3.4 3l3.4-1.8l-3.4-2.7z" fill="#eeff11"/><path d="M409.4 507.6l3.4 2.6l3.5-2.3l-3.4-2.2z" fill="#ddff22"/><path d="M427.2 512l3.4 4.1l3.4-1.1l-3.4-4z" fill="#9dff62"/><path d="M433.2 514.6l3.3 4.1l3.4-1.3l-3.3-3.9z" fill="#9dff62"/><path d="M397.6 506.9l3.4 2.9l3.4-3.3l-3.4-2.9z" fill="#eaff15"/><path d="M415.4 507.8l3.4 4.3l3.4-2.5l-3.4-4z" fill="#c6ff39"/><path d="M421.3 509.3l3.4 4.1l3.4-1l-3.4-4.1z" fill="#aeff51"/><path d="M406.5 509l3.4 3.1l3.4-2.3l-3.4-2.6z" fill="#e5ff1a"/><path d="M436.1 518.1l3.4 4l3.4-1.5l-3.4-3.8z" fill="#a6ff59"/><path d="M394.6 509.8l3.4 2.9l3.4-3.3l-3.4-3z" fill="#c8ff37"/><path d="M412.4 509.6l3.4 4.6l3.4-2.5l-3.4-4.2z" fill="#ccff33"/><path d="M400.5 509.4l3.4 2.9l3.5-3.2l-3.4-3z" fill="#e1ff1e"/><path d="M418.3 511.5l3.4 4.3l3.4-2.7l-3.4-4z" fill="#b3ff4c"/><path d="M424.3 512.8l3.3 4.1l3.4-1.1l-3.3-4z" fill="#a0ff5f"/><path d="M430.2 515.4l3.4 4.3l3.3-1.3l-3.3-4z" fill="#9dff62"/><path d="M439.1 521.5l3.3 4l3.4-1.6l-3.3-3.9z" fill="#aeff51"/><path d="M391.6 512.7l3.4 2.8l3.5-3.3l-3.4-2.9z" fill="#a6ff59"/><path d="M409.4 511.5l3.4 4.7l3.4-2.4l-3.4-4.5z" fill="#d2ff2d"/><path d="M397.6 512.2l3.4 2.9l3.4-3.2l-3.4-3z" fill="#bfff40"/><path d="M415.4 513.6l3.3 4.5l3.4-2.7l-3.3-4.2z" fill="#b3ff4c"/><path d="M433.1 519l3.4 4.3l3.4-1.5l-3.4-4z" fill="#a6ff59"/><path d="M403.5 511.9l3.4 2.9l3.4-3.2l-3.4-3z" fill="#d9ff26"/><path d="M421.3 515.2l3.4 4.3l3.4-3l-3.4-4z" fill="#9fff60"/><path d="M427.2 516.3l3.4 4.4l3.4-1.3l-3.4-4.2z" fill="#9dff62"/><path d="M394.6 515.1l3.4 2.8l3.4-3.2l-3.4-2.9z" fill="#9dff62"/><path d="M412.4 515.6l3.4 4.8l3.4-2.6l-3.4-4.5z" fill="#b3ff4c"/><path d="M436.1 522.6l3.4 4.3l3.3-1.7l-3.3-4z" fill="#aeff51"/><path d="M442 525l3.4 3.4l3.4-1.7l-3.4-3.4z" fill="#b2ff4d"/><path d="M400.5 514.7l3.4 2.9l3.4-3.2l-3.4-3z" fill="#b7ff48"/><path d="M418.3 517.5l3.4 4.5l3.4-2.9l-3.4-4.2z" fill="#99ff66"/><path d="M388.7 516.1l3.4 3.1l3.4-4.2l-3.4-2.8z" fill="#8eff71"/><path d="M406.5 514.3l3.3 5.1l3.5-3.5l-3.4-4.7z" fill="#c0ff3f"/><path d="M424.2 518.9l3.4 4l3.4-2.6l-3.4-4.3z" fill="#97ff68"/><path d="M430.2 520l3.3 4.4l3.4-1.4l-3.3-4.2z" fill="#a6ff59"/><path d="M444.9 527.8l3.4 3.4l3.4-1.7l-3.3-3.4z" fill="#b0ff4f"/><path d="M397.5 517.5l3.4 2.9l3.5-3.3l-3.4-2.9z" fill="#95ff6a"/><path d="M415.3 519.8l3.4 4.8l3.4-2.9l-3.4-4.5z" fill="#93ff6c"/><path d="M403.5 517l3.4 5.5l3.4-3.5l-3.4-5.1z" fill="#98ff67"/><path d="M385.7 519.4l3.4 3.4l3.4-4.1l-3.4-3.1z" fill="#82ff7d"/><path d="M391.6 518.8l3.4 3.1l3.4-4.5l-3.4-2.8z" fill="#82ff7d"/><path d="M409.4 518.8l3.4 5.1l3.4-3.9l-3.4-4.7z" fill="#98ff67"/><path d="M421.2 521.5l3.4 3.7l3.4-2.7l-3.3-3.9z" fill="#8aff75"/><path d="M427.2 522.4l3.4 4l3.4-2.3l-3.4-4.3z" fill="#9bff64"/><path d="M433.1 523.8l3.4 4.4l3.4-1.6l-3.4-4.2z" fill="#aeff51"/><path d="M439 526.3l3.4 3.4l3.4-1.7l-3.4-3.4z" fill="#b0ff4f"/><path d="M447.9 530.7l3.4 3.4l3.4-1.7l-3.4-3.4z" fill="#afff50"/><path d="M400.5 519.8l3.4 5.8l3.4-3.4l-3.4-5.5z" fill="#70ff8f"/><path d="M388.6 522.4l3.4 3.4l3.5-4.5l-3.4-3z" fill="#6cff93"/><path d="M394.6 521.5l3.4 3.1l3.4-4.8l-3.4-2.8z" fill="#75ff8a"/><path d="M406.4 521.9l3.4 5.4l3.4-3.8l-3.4-5z" fill="#63ff9c"/><path d="M418.3 524.1l3.4 3.3l3.4-2.6l-3.4-3.7z" fill="#7dff82"/><path d="M424.2 524.7l3.4 3.6l3.4-2.3l-3.4-4z" fill="#86ff79"/><path d="M430.1 525.8l3.4 4l3.4-1.9l-3.4-4.4z" fill="#9fff60"/><path d="M442 529.1l3.4 3.4l3.4-1.6l-3.4-3.4z" fill="#acff53"/><path d="M382.7 522.8l3.4 3.7l3.4-4.2l-3.4-3.4z" fill="#75ff8a"/><path d="M412.3 523.4l3.4 5l3.5-4.2l-3.4-4.7z" fill="#70ff8f"/><path d="M436 527.6l3.4 3.4l3.4-1.6l-3.3-3.4z" fill="#afff50"/><path d="M450.8 533.5l3.4 2.9l3.4-1.7l-3.3-2.9z" fill="#aaff55"/><path d="M403.5 525l3.3 5.8l3.4-3.8l-3.3-5.4z" fill="#2fffd0"/><path d="M421.2 526.9l3.4 3.4l3.4-2.3l-3.4-3.7z" fill="#71ff8e"/><path d="M427.1 527.8l3.4 3.7l3.4-2l-3.3-4z" fill="#82ff7d"/><path d="M444.9 532l3.4 3.4l3.4-1.7l-3.4-3.4z" fill="#a8ff57"/><path d="M391.6 525.4l3.4 3.4l3.4-4.8l-3.4-3z" fill="#57ffa8"/><path d="M397.5 524.1l3.4 5.8l3.4-4.7l-3.4-5.7z" fill="#46ffb9"/><path d="M409.4 526.8l3.4 5.4l3.4-4.2l-3.4-5z" fill="#2fffd0"/><path d="M379.8 527.9l3.3 3.5l3.5-5.5l-3.4-3.6z" fill="#66ff99"/><path d="M385.7 526.1l3.4 3.6l3.4-4.4l-3.4-3.4z" fill="#57ffa8"/><path d="M415.3 528l3.4 3.5l3.4-4.6l-3.4-3.2z" fill="#51ffae"/><path d="M433.1 529.3l3.4 3.6l3.4-2.2l-3.4-3.4z" fill="#9cff63"/><path d="M439 530.5l3.4 3.4l3.4-1.7l-3.4-3.4z" fill="#a8ff57"/><path d="M424.2 529.8l3.4 3.3l3.4-2l-3.4-3.7z" fill="#64ff9b"/><path d="M447.9 534.9l3.4 2.9l3.4-1.8l-3.4-2.8z" fill="#a2ff5e"/><path d="M453.8 535.9l3.4 2.9l3.4-1.8l-3.4-2.8z" fill="#a2ff5e"/><path d="M406.4 530.2l3.4 5.8l3.4-4.2l-3.4-5.4z" fill="#00edff"/><path d="M394.6 528.2l3.3 6.1l3.5-4.8l-3.4-5.8z" fill="#1bffe4"/><path d="M376.8 533l3.4 3.4l3.4-5.5l-3.4-3.5z" fill="#55ffaa"/><path d="M382.7 531.1l3.4 3.5l3.4-5.4l-3.4-3.6z" fill="#44ffbb"/><path d="M388.6 529.3l3.4 3.7l3.4-4.7l-3.4-3.4z" fill="#39ffc6"/><path d="M400.5 529.4l3.4 5.9l3.4-4.9l-3.4-5.7z" fill="#00f4ff"/><path d="M412.3 531.8l3.4 3.8l3.4-4.6l-3.4-3.5z" fill="#06fff9"/><path d="M418.2 531.1l3.4 3.5l3.4-4.9l-3.3-3.2z" fill="#3dffc2"/><path d="M430.1 530.9l3.4 3.8l3.4-2.2l-3.4-3.6z" fill="#78ff87"/><path d="M436 532.3l3.4 3.6l3.4-2.4l-3.4-3.4z" fill="#92ff6d"/><path d="M441.9 533.3l3.4 3.4l3.4-1.6l-3.3-3.5z" fill="#a1ff5e"/><path d="M373.8 538l3.4 3.4l3.4-5.6l-3.4-3.4z" fill="#44ffbb"/><path d="M379.7 536.1l3.4 3.4l3.4-5.5l-3.4-3.5z" fill="#33ffcc"/><path d="M385.7 534.3l3.3 3.5l3.5-5.4l-3.4-3.6z" fill="#22ffdd"/><path d="M391.6 532.4l3.4 6.2l3.4-4.7l-3.4-6z" fill="#00eeff"/><path d="M397.5 533.7l3.4 6l3.4-4.8l-3.4-5.9z" fill="#00b6ff"/><path d="M403.4 534.7l3.4 5.9l3.4-5l-3.4-5.7z" fill="#00a4ff"/><path d="M409.3 535.5l3.4 4.1l3.5-4.5l-3.4-3.8z" fill="#00baff"/><path d="M415.3 535.2l3.4 3.8l3.4-4.9l-3.4-3.5z" fill="#00e9ff"/><path d="M421.2 534.3l3.4 3.4l3.4-5.1l-3.4-3.2z" fill="#28ffd7"/><path d="M427.1 532.6l3.4 3.9l3.4-2.2l-3.4-3.7z" fill="#54ffab"/><path d="M433 534.1l3.4 3.7l3.4-2.3l-3.3-3.5z" fill="#6aff95"/><path d="M439 535.3l3.4 3.6l3.4-2.6l-3.4-3.3z" fill="#87ff78"/><path d="M444.9 536.2l3.4 3l3.4-1.8l-3.4-2.9z" fill="#99ff66"/><path d="M450.8 537.3l3.4 2.9l3.4-1.8l-3.4-2.9z" fill="#99ff66"/><path d="M456.7 538.3l3.4 2.8l3.4-1.8l-3.3-2.8z" fill="#99ff66"/><path d="M412.3 539.2l3.4 4.1l3.4-4.8l-3.4-3.8z" fill="#0097ff"/><path d="M418.2 538.6l3.4 3.8l3.4-5.2l-3.4-3.5z" fill="#00cdff"/><path d="M430.1 535.9l3.4 3.9l3.4-2.3l-3.4-3.7z" fill="#42ffbd"/><path d="M436 537.3l3.4 3.7l3.4-2.5l-3.4-3.5z" fill="#5bffa4"/><path d="M441.9 538.4l3.4 3.1l3.4-2.8l-3.4-2.9z" fill="#7dff82"/><path d="M382.7 539.2l3.4 3.4l3.4-5.4l-3.4-3.5z" fill="#11ffee"/><path d="M388.6 537.3l3.4 5.6l3.4-4.7l-3.4-6.1z" fill="#00d5ff"/><path d="M400.4 539.2l3.4 6l3.5-5l-3.4-5.8z" fill="#0053ff"/><path d="M376.8 541l3.3 3.4l3.5-5.5l-3.4-3.4z" fill="#22ffdd"/><path d="M394.5 538.1l3.4 6.1l3.4-4.8l-3.4-6z" fill="#0078ff"/><path d="M406.4 540.2l3.4 3.8l3.4-4.9l-3.4-4z" fill="#006cff"/><path d="M424.1 537.4l3.4 3.5l3.5-5l-3.4-3.7z" fill="#15ffea"/><path d="M447.8 538.6l3.4 3l3.4-1.8l-3.3-2.9z" fill="#90ff6f"/><path d="M453.8 539.7l3.4 2.9l3.4-1.8l-3.4-2.9z" fill="#90ff6f"/><path d="M415.2 542.9l3.4 4.1l3.5-5.2l-3.4-3.7z" fill="#0073ff"/><path d="M433 539.3l3.4 3.9l3.4-2.5l-3.4-3.7z" fill="#2fffd0"/><path d="M438.9 540.5l3.4 3.4l3.5-2.8l-3.4-3.1z" fill="#4fffb0"/><path d="M385.6 542.2l3.4 5.1l3.4-4.8l-3.4-5.6z" fill="#00ceff"/><path d="M379.7 544.1l3.4 3.3l3.4-5.3l-3.4-3.5z" fill="#00ffff"/><path d="M391.6 542.4l3.3 5.7l3.5-4.2l-3.4-6.2z" fill="#0060ff"/><path d="M397.5 543.7l3.4 6.1l3.4-5l-3.4-6z" fill="#0002ff"/><path d="M409.3 543.6l3.4 3.8l3.4-4.6l-3.4-4.1z" fill="#004cff"/><path d="M403.4 544.9l3.4 3.5l3.4-4.9l-3.4-3.8z" fill="#0019ff"/><path d="M421.2 542l3.4 3.3l3.4-5l-3.4-3.5z" fill="#00baff"/><path d="M427.1 540.5l3.4 3.5l3.4-4.7l-3.4-3.7z" fill="#04fffb"/><path d="M444.9 541.1l3.4 3.1l3.4-3.1l-3.4-2.8z" fill="#74ff8b"/><path d="M450.8 541.1l3.4 2.9l3.4-1.8l-3.4-2.9z" fill="#88ff77"/><path d="M436 542.7l3.4 3.5l3.4-2.7l-3.4-3.4z" fill="#20ffdf"/><path d="M412.3 547l3.4 3.9l3.4-4.4l-3.4-4.1z" fill="#002dff"/><path d="M382.7 547l3.3 4.6l3.5-4.8l-3.4-5.1z" fill="#00c7ff"/><path d="M388.6 546.8l3.4 5.1l3.4-4.2l-3.4-5.7z" fill="#006cff"/><path d="M394.5 547.5l3.4 5.7l3.4-3.7l-3.4-6.2z" fill="#0000e9"/><path d="M406.4 548l3.3 3.6l3.5-4.7l-3.4-3.8z" fill="#000aff"/><path d="M418.2 546.6l3.4 3.1l3.4-5l-3.4-3.2z" fill="#0060ff"/><path d="M424.1 544.9l3.4 3.3l3.4-4.7l-3.4-3.5z" fill="#00b0ff"/><path d="M430 543.7l3.4 3.5l3.5-4.5l-3.4-3.8z" fill="#00f2ff"/><path d="M441.9 543.4l3.4 3.3l3.4-3l-3.4-3.1z" fill="#44ffbb"/><path d="M400.4 549.5l3.4 3.3l3.4-5l-3.4-3.5z" fill="#0000c6"/><path d="M447.8 543.7l3.4 3.1l3.4-3.2l-3.4-2.9z" fill="#6bff94"/><path d="M409.3 551.2l3.4 3.6l3.4-4.4l-3.4-3.9z" fill="#0000fa"/><path d="M421.2 549.4l3.3 3l3.5-4.7l-3.4-3.3z" fill="#005dff"/><path d="M427.1 547.9l3.4 3.3l3.4-4.5l-3.4-3.6z" fill="#00a6ff"/><path d="M433 546.8l3.4 3.4l3.4-4.5l-3.4-3.4z" fill="#00e5ff"/><path d="M438.9 545.7l3.4 3.6l3.4-3l-3.4-3.3z" fill="#13ffec"/><path d="M385.6 551.2l3.4 4.6l3.4-4.3l-3.4-5.1z" fill="#0079ff"/><path d="M391.5 551.4l3.4 5.2l3.4-3.7l-3.4-5.7z" fill="#000bff"/><path d="M403.4 552.4l3.4 3.3l3.4-4.7l-3.4-3.5z" fill="#0000c7"/><path d="M397.4 552.8l3.4 3l3.5-3.5l-3.4-3.4z" fill="#0000b0"/><path d="M415.2 550.5l3.4 2.9l3.4-4.2l-3.4-3.1z" fill="#001eff"/><path d="M444.8 546.3l3.4 3.3l3.5-3.3l-3.4-3z" fill="#39ffc6"/><path d="M424.1 552.1l3.4 3.1l3.4-4.5l-3.4-3.4z" fill="#0059ff"/><path d="M430 550.8l3.4 3.4l3.4-4.5l-3.4-3.4z" fill="#00a2ff"/><path d="M388.6 555.3l3.3 4.7l3.5-3.8l-3.4-5.2z" fill="#002bff"/><path d="M406.3 555.3l3.4 3.4l3.4-4.5l-3.4-3.5z" fill="#0000c7"/><path d="M400.4 555.4l3.4 3l3.4-3.1l-3.4-3.4z" fill="#0000b5"/><path d="M418.2 553.1l3.4 2.9l3.4-4.1l-3.4-3.1z" fill="#0020ff"/><path d="M394.5 556.2l3.4 2.7l3.4-3.6l-3.4-3z" fill="#0000d7"/><path d="M412.3 554.4l3.3 2.8l3.5-4.3l-3.4-2.9z" fill="#0000f4"/><path d="M435.9 549.8l3.4 3.4l3.5-4.4l-3.4-3.5z" fill="#00ddff"/><path d="M441.9 548.8l3.4 3.5l3.4-3.2l-3.4-3.3z" fill="#06fff9"/><path d="M427 554.8l3.4 3.3l3.5-4.5l-3.4-3.3z" fill="#005eff"/><path d="M403.3 558l3.4 3l3.5-2.8l-3.4-3.4z" fill="#0000b9"/><path d="M421.1 555.6l3.4 3l3.4-3.9l-3.4-3.2z" fill="#0021ff"/><path d="M397.4 558.5l3.4 2.6l3.4-3.2l-3.4-3z" fill="#0000d2"/><path d="M415.2 556.8l3.4 2.8l3.4-4.1l-3.4-3z" fill="#0000f9"/><path d="M433 553.8l3.4 3.3l3.4-4.4l-3.4-3.4z" fill="#00a3ff"/><path d="M391.5 559.6l3.4 2.3l3.4-3.6l-3.4-2.6z" fill="#0000fd"/><path d="M409.3 558.3l3.4 2.6l3.4-4.3l-3.4-2.7z" fill="#0000cb"/><path d="M438.9 552.8l3.4 3.4l3.4-4.4l-3.4-3.4z" fill="#00d4ff"/><path d="M400.4 560.7l3.4 2.7l3.4-2.8l-3.4-3.1z" fill="#0000ce"/><path d="M418.2 559.2l3.3 2.8l3.5-3.9l-3.4-3z" fill="#0000fd"/><path d="M424.1 558.2l3.4 3l3.4-3.5l-3.4-3.4z" fill="#002aff"/><path d="M430 557.8l3.4 3.3l3.4-4.5l-3.4-3.3z" fill="#0069ff"/><path d="M394.5 561.5l3.3 2.3l3.5-3.2l-3.4-2.6z" fill="#0000f0"/><path d="M412.2 560.5l3.4 2.6l3.4-4.1l-3.4-2.7z" fill="#0000d2"/><path d="M406.3 560.6l3.4 2.5l3.4-2.7l-3.4-2.6z" fill="#0000bf"/><path d="M435.9 556.8l3.4 3.3l3.4-4.4l-3.4-3.4z" fill="#00a5ff"/><path d="M421.1 561.6l3.4 2.6l3.4-3.5l-3.4-3z" fill="#0006ff"/><path d="M397.4 563.4l3.4 2.3l3.4-2.8l-3.4-2.7z" fill="#0000e3"/><path d="M415.2 562.8l3.4 2.5l3.4-3.9l-3.4-2.7z" fill="#0000d9"/><path d="M403.3 563l3.4 2.3l3.4-2.7l-3.4-2.5z" fill="#0000ce"/><path d="M409.2 562.7l3.4 2.5l3.5-2.5l-3.4-2.7z" fill="#0000c6"/><path d="M427 560.7l3.4 3.1l3.4-3.2l-3.4-3.4z" fill="#0039ff"/><path d="M432.9 560.7l3.4 3.3l3.5-4.4l-3.4-3.3z" fill="#0075ff"/><path d="M418.1 565l3.4 2.3l3.4-3.6l-3.4-2.6z" fill="#0000e2"/><path d="M406.3 564.9l3.4 2.4l3.4-2.6l-3.4-2.5z" fill="#0000d2"/><path d="M412.2 564.7l3.4 2.6l3.4-2.4l-3.4-2.7z" fill="#0000cd"/><path d="M424 563.8l3.4 2.7l3.5-3.2l-3.4-3z" fill="#0013ff"/><path d="M400.4 565.3l3.3 2.3l3.5-2.7l-3.4-2.4z" fill="#0000de"/><path d="M430 563.3l3.4 3.1l3.4-2.8l-3.4-3.4z" fill="#0049ff"/><path d="M409.2 566.8l3.4 2.4l3.4-2.3l-3.4-2.6z" fill="#0000d7"/><path d="M415.1 566.8l3.4 2.4l3.5-2.4l-3.4-2.4z" fill="#0000d3"/><path d="M403.3 567.1l3.4 2.3l3.4-2.6l-3.4-2.4z" fill="#0000df"/><path d="M421.1 566.9l3.4 2.3l3.4-3.2l-3.4-2.7z" fill="#0000ec"/><path d="M427 566.1l3.4 2.6l3.4-2.8l-3.4-3z" fill="#0020ff"/><path d="M412.2 568.8l3.4 2.3l3.4-2.4l-3.4-2.3z" fill="#0000d9"/><path d="M406.3 568.9l3.3 2.3l3.5-2.4l-3.4-2.4z" fill="#0000e1"/><path d="M418.1 568.7l3.4 2.4l3.4-2.4l-3.4-2.3z" fill="#0000d9"/><path d="M424 568.8l3.4 2.3l3.4-2.8l-3.4-2.7z" fill="#0000f6"/><path d="M409.2 570.8l3.4 2.2l3.4-2.4l-3.4-2.3z" fill="#0000de"/><path d="M415.1 570.7l3.4 2.2l3.4-2.3l-3.4-2.3z" fill="#0000d9"/><path d="M421 570.6l3.4 2.4l3.5-2.3l-3.4-2.4z" fill="#0000de"/><path d="M412.2 572.6l3.3 2.2l3.5-2.3l-3.4-2.3z" fill="#0000d9"/><path d="M418.1 572.5l3.4 2.3l3.4-2.3l-3.4-2.3z" fill="#0000d9"/><path d="M415.1 574.4l3.4 2.2l3.4-2.2l-3.4-2.3z" fill="#0000d3"/></g><polyline points="374.2,537.9 383.2,522.8" fill="none" stroke="#fff" stroke-width="0.55" stroke-opacity="0.18"/><polyline points="374.2,537.9 383.1,547" fill="none" stroke="#fff" stroke-width="0.55" stroke-opacity="0.3"/><polyline points="383.2,522.8 392.1,512.6" fill="none" stroke="#fff" stroke-width="0.55" stroke-opacity="0.12"/><polyline points="383.1,547 391.9,559.5" fill="none" stroke="#fff" stroke-width="0.55" stroke-opacity="0.53"/><polyline points="392.1,512.6 401,504" fill="none" stroke="#fff" stroke-width="0.55" stroke-opacity="0.1"/><polyline points="391.9,559.5 400.8,565.3" fill="none" stroke="#fff" stroke-width="0.55" stroke-opacity="0.65"/><polyline points="401,504 409.9,501.8" fill="none" stroke="#fff" stroke-width="0.55" stroke-opacity="0.1"/><polyline points="400.8,565.3 409.6,570.7" fill="none" stroke="#fff" stroke-width="0.55" stroke-opacity="0.65"/><polyline points="409.9,501.8 418.9,497.8" fill="none" stroke="#fff" stroke-width="0.55" stroke-opacity="0.1"/><polyline points="409.6,570.7 418.5,576.2" fill="none" stroke="#fff" stroke-width="0.55" stroke-opacity="0.65"/><polyline points="383.1,547 392,532.5" fill="none" stroke="#fff" stroke-width="0.55" stroke-opacity="0.34"/><polyline points="383.2,522.8 392,532.5" fill="none" stroke="#fff" stroke-width="0.55" stroke-opacity="0.22"/><polyline points="392,532.5 400.9,519.9" fill="none" stroke="#fff" stroke-width="0.55" stroke-opacity="0.22"/><polyline points="392,532.5 400.9,549.4" fill="none" stroke="#fff" stroke-width="0.55" stroke-opacity="0.59"/><polyline points="400.9,519.9 409.9,511.6" fill="none" stroke="#fff" stroke-width="0.55" stroke-opacity="0.1"/><polyline points="400.9,549.4 409.7,558.2" fill="none" stroke="#fff" stroke-width="0.55" stroke-opacity="0.65"/><polyline points="409.9,511.6 418.8,506.1" fill="none" stroke="#fff" stroke-width="0.55" stroke-opacity="0.1"/><polyline points="409.7,558.2 418.6,564.9" fill="none" stroke="#fff" stroke-width="0.55" stroke-opacity="0.65"/><polyline points="418.8,506.1 427.7,503.9" fill="none" stroke="#fff" stroke-width="0.55" stroke-opacity="0.1"/><polyline points="418.6,564.9 427.4,570.7" fill="none" stroke="#fff" stroke-width="0.55" stroke-opacity="0.65"/><polyline points="391.9,559.5 400.9,549.4" fill="none" stroke="#fff" stroke-width="0.55" stroke-opacity="0.65"/><polyline points="392.1,512.6 400.9,519.9" fill="none" stroke="#fff" stroke-width="0.55" stroke-opacity="0.12"/><polyline points="400.9,549.4 409.8,535.5" fill="none" stroke="#fff" stroke-width="0.55" stroke-opacity="0.65"/><polyline points="400.9,519.9 409.8,535.5" fill="none" stroke="#fff" stroke-width="0.55" stroke-opacity="0.3"/><polyline points="409.8,535.5 418.7,524.1" fill="none" stroke="#fff" stroke-width="0.55" stroke-opacity="0.3"/><polyline points="409.8,535.5 418.6,546.5" fill="none" stroke="#fff" stroke-width="0.55" stroke-opacity="0.56"/><polyline points="418.7,524.1 427.6,516.4" fill="none" stroke="#fff" stroke-width="0.55" stroke-opacity="0.12"/><polyline points="418.6,546.5 427.5,554.7" fill="none" stroke="#fff" stroke-width="0.55" stroke-opacity="0.65"/><polyline points="427.6,516.4 436.6,514" fill="none" stroke="#fff" stroke-width="0.55" stroke-opacity="0.1"/><polyline points="427.5,554.7 436.3,563.6" fill="none" stroke="#fff" stroke-width="0.55" stroke-opacity="0.61"/><polyline points="400.8,565.3 409.7,558.2" fill="none" stroke="#fff" stroke-width="0.55" stroke-opacity="0.65"/><polyline points="401,504 409.9,511.6" fill="none" stroke="#fff" stroke-width="0.55" stroke-opacity="0.1"/><polyline points="409.7,558.2 418.6,546.5" fill="none" stroke="#fff" stroke-width="0.55" stroke-opacity="0.65"/><polyline points="409.9,511.6 418.7,524.1" fill="none" stroke="#fff" stroke-width="0.55" stroke-opacity="0.1"/><polyline points="418.6,546.5 427.6,532.7" fill="none" stroke="#fff" stroke-width="0.55" stroke-opacity="0.43"/><polyline points="418.7,524.1 427.6,532.7" fill="none" stroke="#fff" stroke-width="0.55" stroke-opacity="0.18"/><polyline points="427.6,532.7 436.5,527.7" fill="none" stroke="#fff" stroke-width="0.55" stroke-opacity="0.14"/><polyline points="427.6,532.7 436.4,542.7" fill="none" stroke="#fff" stroke-width="0.55" stroke-opacity="0.27"/><polyline points="436.5,527.7 445.4,523.7" fill="none" stroke="#fff" stroke-width="0.55" stroke-opacity="0.1"/><polyline points="436.4,542.7 445.3,551.9" fill="none" stroke="#fff" stroke-width="0.55" stroke-opacity="0.34"/><polyline points="409.6,570.7 418.6,564.9" fill="none" stroke="#fff" stroke-width="0.55" stroke-opacity="0.65"/><polyline points="409.9,501.8 418.8,506.1" fill="none" stroke="#fff" stroke-width="0.55" stroke-opacity="0.1"/><polyline points="418.6,564.9 427.5,554.7" fill="none" stroke="#fff" stroke-width="0.55" stroke-opacity="0.65"/><polyline points="418.8,506.1 427.6,516.4" fill="none" stroke="#fff" stroke-width="0.55" stroke-opacity="0.1"/><polyline points="427.5,554.7 436.4,542.7" fill="none" stroke="#fff" stroke-width="0.55" stroke-opacity="0.48"/><polyline points="427.6,516.4 436.5,527.7" fill="none" stroke="#fff" stroke-width="0.55" stroke-opacity="0.1"/><polyline points="436.4,542.7 445.3,536.3" fill="none" stroke="#fff" stroke-width="0.55" stroke-opacity="0.21"/><polyline points="436.5,527.7 445.3,536.3" fill="none" stroke="#fff" stroke-width="0.55" stroke-opacity="0.1"/><polyline points="445.3,536.3 454.2,532.3" fill="none" stroke="#fff" stroke-width="0.55" stroke-opacity="0.1"/><polyline points="445.3,536.3 454.2,543.6" fill="none" stroke="#fff" stroke-width="0.55" stroke-opacity="0.12"/><polyline points="418.5,576.2 427.4,570.7" fill="none" stroke="#fff" stroke-width="0.55" stroke-opacity="0.65"/><polyline points="418.9,497.8 427.7,503.9" fill="none" stroke="#fff" stroke-width="0.55" stroke-opacity="0.1"/><polyline points="427.4,570.7 436.3,563.6" fill="none" stroke="#fff" stroke-width="0.55" stroke-opacity="0.65"/><polyline points="427.7,503.9 436.6,514" fill="none" stroke="#fff" stroke-width="0.55" stroke-opacity="0.1"/><polyline points="436.3,563.6 445.3,551.9" fill="none" stroke="#fff" stroke-width="0.55" stroke-opacity="0.47"/><polyline points="436.6,514 445.4,523.7" fill="none" stroke="#fff" stroke-width="0.55" stroke-opacity="0.1"/><polyline points="445.3,551.9 454.2,543.6" fill="none" stroke="#fff" stroke-width="0.55" stroke-opacity="0.26"/><polyline points="445.4,523.7 454.2,532.3" fill="none" stroke="#fff" stroke-width="0.55" stroke-opacity="0.1"/><polyline points="454.2,543.6 463.1,539.3" fill="none" stroke="#fff" stroke-width="0.55" stroke-opacity="0.12"/><polyline points="454.2,532.3 463.1,539.3" fill="none" stroke="#fff" stroke-width="0.55" stroke-opacity="0.1"/><circle cx="374.2" cy="537.9" r="0.75" fill="#222" fill-opacity="0.8"/><circle cx="383.2" cy="522.8" r="0.75" fill="#222" fill-opacity="0.8"/><circle cx="392.1" cy="512.6" r="0.75" fill="#222" fill-opacity="0.8"/><circle cx="401" cy="504" r="0.75" fill="#222" fill-opacity="0.8"/><circle cx="409.9" cy="501.8" r="0.75" fill="#222" fill-opacity="0.8"/><circle cx="418.9" cy="497.8" r="0.75" fill="#222" fill-opacity="0.8"/><circle cx="383.1" cy="547" r="0.75" fill="#222" fill-opacity="0.8"/><circle cx="392" cy="532.5" r="0.75" fill="#222" fill-opacity="0.8"/><circle cx="400.9" cy="519.9" r="0.75" fill="#222" fill-opacity="0.8"/><circle cx="409.9" cy="511.6" r="0.75" fill="#222" fill-opacity="0.8"/><circle cx="418.8" cy="506.1" r="0.75" fill="#222" fill-opacity="0.8"/><circle cx="427.7" cy="503.9" r="0.75" fill="#222" fill-opacity="0.8"/><circle cx="391.9" cy="559.5" r="0.75" fill="#222" fill-opacity="0.8"/><circle cx="400.9" cy="549.4" r="0.75" fill="#222" fill-opacity="0.8"/><circle cx="409.8" cy="535.5" r="0.75" fill="#222" fill-opacity="0.8"/><circle cx="418.7" cy="524.1" r="0.75" fill="#222" fill-opacity="0.8"/><circle cx="427.6" cy="516.4" r="0.75" fill="#222" fill-opacity="0.8"/><circle cx="436.6" cy="514" r="0.75" fill="#222" fill-opacity="0.8"/><circle cx="400.8" cy="565.3" r="0.75" fill="#222" fill-opacity="0.8"/><circle cx="409.7" cy="558.2" r="0.75" fill="#222" fill-opacity="0.8"/><circle cx="418.6" cy="546.5" r="0.75" fill="#222" fill-opacity="0.8"/><circle cx="427.6" cy="532.7" r="0.75" fill="#222" fill-opacity="0.8"/><circle cx="436.5" cy="527.7" r="0.75" fill="#222" fill-opacity="0.8"/><circle cx="445.4" cy="523.7" r="0.75" fill="#222" fill-opacity="0.8"/><circle cx="409.6" cy="570.7" r="0.75" fill="#222" fill-opacity="0.8"/><circle cx="418.6" cy="564.9" r="0.75" fill="#222" fill-opacity="0.8"/><circle cx="427.5" cy="554.7" r="0.75" fill="#222" fill-opacity="0.8"/><circle cx="436.4" cy="542.7" r="0.75" fill="#222" fill-opacity="0.8"/><circle cx="445.3" cy="536.3" r="0.75" fill="#222" fill-opacity="0.8"/><circle cx="454.2" cy="532.3" r="0.75" fill="#222" fill-opacity="0.8"/><circle cx="418.5" cy="576.2" r="0.75" fill="#222" fill-opacity="0.8"/><circle cx="427.4" cy="570.7" r="0.75" fill="#222" fill-opacity="0.8"/><circle cx="436.3" cy="563.6" r="0.75" fill="#222" fill-opacity="0.8"/><circle cx="445.3" cy="551.9" r="0.75" fill="#222" fill-opacity="0.8"/><circle cx="454.2" cy="543.6" r="0.75" fill="#222" fill-opacity="0.8"/><circle cx="463.1" cy="539.3" r="0.75" fill="#222" fill-opacity="0.8"/><polyline points="374.2,552 418.5,576.2 463.1,553.1" fill="none" stroke="#8c8c8c" stroke-width="0.55"/><polyline points="374.2,552 374.2,516.6" fill="none" stroke="#8c8c8c" stroke-width="0.55"/></g>
<line x1="371.8" y1="552" x2="374.2" y2="552" stroke="#8c8c8c" stroke-width="0.5"/>
<text x="371.2" y="553.9" text-anchor="end" fill="#222" style="stroke:#222" font-size="4.8">0</text>
<line x1="371.8" y1="536.6" x2="374.2" y2="536.6" stroke="#8c8c8c" stroke-width="0.5"/>
<text x="371.2" y="538.5" text-anchor="end" fill="#222" style="stroke:#222" font-size="4.8">50</text>
<line x1="371.8" y1="521.2" x2="374.2" y2="521.2" stroke="#8c8c8c" stroke-width="0.5"/>
<text x="371.2" y="523.1" text-anchor="end" fill="#222" style="stroke:#222" font-size="4.8">100</text>
<line x1="374.2" y1="552" x2="372.6" y2="553.2" stroke="#8c8c8c" stroke-width="0.5"/>
<text x="366.6" y="559.3" text-anchor="middle" fill="#222" style="stroke:#222" font-size="4.8">0</text>
<line x1="383.1" y1="556.8" x2="381.5" y2="558" stroke="#8c8c8c" stroke-width="0.5"/>
<text x="375.4" y="564.1" text-anchor="middle" fill="#222" style="stroke:#222" font-size="4.8">0.01</text>
<line x1="391.9" y1="561.7" x2="390.3" y2="562.9" stroke="#8c8c8c" stroke-width="0.5"/>
<text x="384.2" y="569" text-anchor="middle" fill="#222" style="stroke:#222" font-size="4.8">0.05</text>
<line x1="400.8" y1="566.5" x2="399.2" y2="567.7" stroke="#8c8c8c" stroke-width="0.5"/>
<text x="393.1" y="573.8" text-anchor="middle" fill="#222" style="stroke:#222" font-size="4.8">0.1</text>
<line x1="409.6" y1="571.4" x2="408" y2="572.6" stroke="#8c8c8c" stroke-width="0.5"/>
<text x="401.9" y="578.7" text-anchor="middle" fill="#222" style="stroke:#222" font-size="4.8">0.5</text>
<line x1="418.5" y1="576.2" x2="416.9" y2="577.4" stroke="#8c8c8c" stroke-width="0.5"/>
<text x="410.8" y="583.5" text-anchor="middle" fill="#222" style="stroke:#222" font-size="4.8">1</text>
<line x1="418.5" y1="576.2" x2="420.1" y2="577.4" stroke="#8c8c8c" stroke-width="0.5"/>
<text x="420.7" y="583.5" fill="#222" style="stroke:#222" font-size="4.8">2</text>
<line x1="427.4" y1="571.6" x2="429" y2="572.8" stroke="#8c8c8c" stroke-width="0.5"/>
<text x="429.6" y="578.9" fill="#222" style="stroke:#222" font-size="4.8">1</text>
<line x1="436.3" y1="567" x2="437.9" y2="568.2" stroke="#8c8c8c" stroke-width="0.5"/>
<text x="438.5" y="574.3" fill="#222" style="stroke:#222" font-size="4.8">0.5</text>
<line x1="445.3" y1="562.3" x2="446.9" y2="563.5" stroke="#8c8c8c" stroke-width="0.5"/>
<text x="447.5" y="569.6" fill="#222" style="stroke:#222" font-size="4.8">0.1</text>
<line x1="454.2" y1="557.7" x2="455.8" y2="558.9" stroke="#8c8c8c" stroke-width="0.5"/>
<text x="456.4" y="565" fill="#222" style="stroke:#222" font-size="4.8">0.01</text>
<line x1="463.1" y1="553.1" x2="464.7" y2="554.3" stroke="#8c8c8c" stroke-width="0.5"/>
<text x="465.3" y="560.4" fill="#222" style="stroke:#222" font-size="4.8">0</text>
<text x="379.1" y="582.8" text-anchor="middle" fill="#222" style="stroke:#222" font-size="6.1">Eto (<tspan font-size="5" font-family="Liberation Serif, serif">μ</tspan>mol/L)</text>
<text x="453.5" y="581.6" text-anchor="middle" fill="#222" style="stroke:#222" font-size="6.1">Enti (<tspan font-size="5" font-family="Liberation Serif, serif">μ</tspan>mol/L)</text>
<text text-anchor="middle" fill="#222" style="stroke:#222" transform="translate(360.7 528.9) rotate(-90)" font-size="5.3">% Control</text>
<text x="421" y="490" text-anchor="middle" font-size="9.7">H841</text>
<g><polyline points="371.8,673 415.8,647.5" fill="none" stroke="#e9e9e9" stroke-width="0.5"/><polyline points="371.8,673 416.2,698.5" fill="none" stroke="#e9e9e9" stroke-width="0.5"/><polyline points="380.6,678.1 424.6,652.6" fill="none" stroke="#e9e9e9" stroke-width="0.5"/><polyline points="380.6,667.9 425.1,693.4" fill="none" stroke="#e9e9e9" stroke-width="0.5"/><polyline points="389.6,683.2 433.6,657.7" fill="none" stroke="#e9e9e9" stroke-width="0.5"/><polyline points="389.4,662.8 433.9,688.3" fill="none" stroke="#e9e9e9" stroke-width="0.5"/><polyline points="398.4,688.3 442.4,662.8" fill="none" stroke="#e9e9e9" stroke-width="0.5"/><polyline points="398.1,657.7 442.6,683.2" fill="none" stroke="#e9e9e9" stroke-width="0.5"/><polyline points="407.4,693.4 451.4,667.9" fill="none" stroke="#e9e9e9" stroke-width="0.5"/><polyline points="406.9,652.6 451.4,678.1" fill="none" stroke="#e9e9e9" stroke-width="0.5"/><polyline points="416.2,698.5 460.2,673" fill="none" stroke="#e9e9e9" stroke-width="0.5"/><polyline points="415.8,647.5 460.2,673" fill="none" stroke="#e9e9e9" stroke-width="0.5"/><polyline points="371.8,673 371.8,642.4" fill="none" stroke="#e9e9e9" stroke-width="0.5"/><polyline points="415.8,647.5 415.8,616.9" fill="none" stroke="#e9e9e9" stroke-width="0.5"/><polyline points="380.6,667.9 380.6,637.3" fill="none" stroke="#e9e9e9" stroke-width="0.5"/><polyline points="424.6,652.6 424.6,622" fill="none" stroke="#e9e9e9" stroke-width="0.5"/><polyline points="389.4,662.8 389.4,632.2" fill="none" stroke="#e9e9e9" stroke-width="0.5"/><polyline points="433.6,657.7 433.6,627.1" fill="none" stroke="#e9e9e9" stroke-width="0.5"/><polyline points="398.1,657.7 398.1,627.1" fill="none" stroke="#e9e9e9" stroke-width="0.5"/><polyline points="442.4,662.8 442.4,632.2" fill="none" stroke="#e9e9e9" stroke-width="0.5"/><polyline points="406.9,652.6 406.9,622" fill="none" stroke="#e9e9e9" stroke-width="0.5"/><polyline points="451.4,667.9 451.4,637.3" fill="none" stroke="#e9e9e9" stroke-width="0.5"/><polyline points="415.8,647.5 415.8,616.9" fill="none" stroke="#e9e9e9" stroke-width="0.5"/><polyline points="460.2,673 460.2,642.4" fill="none" stroke="#e9e9e9" stroke-width="0.5"/><polyline points="371.8,673 415.8,647.5 460.2,673" fill="none" stroke="#e9e9e9" stroke-width="0.5"/><polyline points="371.8,666.2 415.8,640.7 460.2,666.2" fill="none" stroke="#e9e9e9" stroke-width="0.5"/><polyline points="371.8,659.4 415.8,633.9 460.2,659.4" fill="none" stroke="#e9e9e9" stroke-width="0.5"/><polyline points="371.8,652.6 415.8,627.1 460.2,652.6" fill="none" stroke="#e9e9e9" stroke-width="0.5"/><polyline points="371.8,645.8 415.8,620.3 460.2,645.8" fill="none" stroke="#e9e9e9" stroke-width="0.5"/><g filter="url(#sm)"><path d="M412.4 618.5l3.4 2.2l3.4-2.7l-3.5-2.2z" fill="#7fff80"/><path d="M415.3 620.3l3.5 2.2l3.3-2.7l-3.4-2.2z" fill="#7fff80"/><path d="M409.4 620.8l3.5 2.1l3.3-2.7l-3.4-2.2z" fill="#7fff80"/><path d="M418.3 622.1l3.4 2.2l3.4-2.7l-3.4-2.2z" fill="#7eff81"/><path d="M412.4 622.5l3.4 2.2l3.4-2.7l-3.4-2.2z" fill="#7dff82"/><path d="M406.5 623.1l3.4 2.1l3.4-2.7l-3.4-2.2z" fill="#7eff81"/><path d="M421.3 623.8l3.4 2.6l3.4-2.6l-3.5-2.6z" fill="#7cff83"/><path d="M415.4 624.3l3.4 2.1l3.4-2.6l-3.5-2.2z" fill="#7bff84"/><path d="M403.6 627.2l3.4 1.8l3.3-4.4l-3.4-2z" fill="#7eff81"/><path d="M409.5 624.8l3.4 2.1l3.4-2.7l-3.5-2.2z" fill="#7bff84"/><path d="M424.2 626l3.5 2.6l3.3-2.6l-3.4-2.6z" fill="#78ff87"/><path d="M400.7 631.1l3.4 1.7l3.3-4.4l-3.4-1.9z" fill="#7fff80"/><path d="M418.3 626l3.5 2.6l3.3-2.6l-3.4-2.6z" fill="#78ff87"/><path d="M406.6 628.7l3.4 1.9l3.3-4.3l-3.4-2z" fill="#7bff84"/><path d="M412.4 626.5l3.5 2.1l3.3-2.6l-3.4-2.2z" fill="#78ff87"/><path d="M427.2 628.2l3.4 2.6l3.4-2.7l-3.4-2.6z" fill="#75ff8a"/><path d="M397.7 635.1l3.4 1.6l3.4-4.5l-3.4-1.7z" fill="#7fff80"/><path d="M403.6 632.6l3.4 1.7l3.4-4.3l-3.4-1.9z" fill="#7dff82"/><path d="M409.5 630.3l3.4 1.9l3.4-4.2l-3.4-2z" fill="#78ff87"/><path d="M421.3 628.2l3.4 2.6l3.4-2.7l-3.4-2.6z" fill="#74ff8b"/><path d="M415.4 628.1l3.4 2.7l3.4-2.6l-3.4-2.7z" fill="#75ff8a"/><path d="M400.7 636.4l3.4 1.6l3.3-4.3l-3.4-1.8z" fill="#7fff80"/><path d="M406.6 634l3.4 1.7l3.3-4.1l-3.4-1.9z" fill="#7bff84"/><path d="M424.3 630.3l3.4 2.7l3.4-2.7l-3.5-2.6z" fill="#70ff8f"/><path d="M430.2 630.3l3.4 2.5l3.4-2.7l-3.5-2.4z" fill="#72ff8d"/><path d="M394.8 636l3.4 1.9l3.4-1.7l-3.5-1.7z" fill="#83ff7c"/><path d="M412.5 631.8l3.4 2.5l3.4-4.1l-3.5-2.5z" fill="#74ff8b"/><path d="M418.4 630.3l3.4 2.7l3.4-2.7l-3.5-2.6z" fill="#70ff8f"/><path d="M403.7 637.7l3.4 1.6l3.3-4.2l-3.4-1.7z" fill="#7eff81"/><path d="M433.1 632.3l3.5 2.5l3.3-2.6l-3.4-2.5z" fill="#6fff90"/><path d="M391.8 637.2l3.5 1.8l3.3-1.6l-3.4-1.8z" fill="#8bff74"/><path d="M409.5 635.4l3.5 2.3l3.3-4l-3.4-2.4z" fill="#78ff87"/><path d="M397.7 637.4l3.5 1.8l3.3-1.7l-3.4-1.7z" fill="#83ff7c"/><path d="M415.4 633.9l3.5 2.5l3.3-4l-3.4-2.5z" fill="#6fff90"/><path d="M421.3 632.5l3.5 2.7l3.3-2.7l-3.4-2.6z" fill="#6bff94"/><path d="M427.2 632.5l3.5 2.5l3.3-2.7l-3.4-2.4z" fill="#6cff93"/><path d="M436.1 634.4l3.4 2.4l3.4-2.6l-3.4-2.4z" fill="#6dff92"/><path d="M388.9 638.3l3.4 1.9l3.4-1.6l-3.4-1.9z" fill="#93ff6c"/><path d="M406.6 639l3.4 2.2l3.4-4l-3.4-2.4z" fill="#7bff84"/><path d="M394.8 638.6l3.4 1.8l3.4-1.6l-3.4-1.8z" fill="#8aff75"/><path d="M412.5 637.4l3.4 2.4l3.4-4l-3.4-2.4z" fill="#73ff8c"/><path d="M430.2 634.5l3.4 2.5l3.4-2.7l-3.4-2.4z" fill="#69ff96"/><path d="M400.7 638.7l3.4 1.9l3.4-1.7l-3.4-1.8z" fill="#82ff7d"/><path d="M418.4 636l3.4 2.5l3.4-3.9l-3.4-2.5z" fill="#6aff95"/><path d="M424.3 634.7l3.4 2.4l3.4-2.6l-3.4-2.4z" fill="#66ff99"/><path d="M391.9 639.7l3.4 1.9l3.4-1.6l-3.5-1.9z" fill="#90ff6f"/><path d="M409.6 640.9l3.4 2.2l3.4-3.9l-3.5-2.4z" fill="#76ff89"/><path d="M433.2 636.5l3.4 2.5l3.4-2.6l-3.5-2.5z" fill="#65ff9a"/><path d="M439.1 636.3l3.4 3l3.4-2.5l-3.5-3z" fill="#6cff93"/><path d="M397.8 640l3.4 1.8l3.4-1.7l-3.5-1.8z" fill="#88ff77"/><path d="M415.5 639.4l3.4 2.4l3.4-3.9l-3.5-2.4z" fill="#6eff91"/><path d="M386 640.3l3.4 1.8l3.4-2.4l-3.5-1.8z" fill="#9aff65"/><path d="M403.7 640.1l3.4 2.5l3.4-1.8l-3.5-2.4z" fill="#80ff80"/><path d="M421.4 638.1l3.4 2.2l3.4-3.7l-3.5-2.3z" fill="#65ff9a"/><path d="M427.3 636.7l3.4 2.4l3.4-2.6l-3.5-2.4z" fill="#62ff9d"/><path d="M442 638.8l3.5 3l3.3-2.5l-3.4-3z" fill="#6bff94"/><path d="M394.8 641.2l3.5 1.9l3.3-1.7l-3.4-1.9z" fill="#8eff71"/><path d="M412.5 642.8l3.5 2.3l3.3-3.9l-3.4-2.3z" fill="#71ff8e"/><path d="M400.7 641.3l3.5 2.6l3.3-1.7l-3.4-2.5z" fill="#85ff7a"/><path d="M383 642.2l3.5 1.8l3.3-2.4l-3.4-1.8z" fill="#9fff60"/><path d="M388.9 641.7l3.5 1.8l3.3-2.4l-3.4-1.8z" fill="#96ff69"/><path d="M406.6 642.1l3.5 2.5l3.3-1.9l-3.4-2.4z" fill="#7aff85"/><path d="M418.4 641.4l3.5 2.1l3.3-3.7l-3.4-2.2z" fill="#68ff97"/><path d="M424.3 640l3.5 2.2l3.3-3.6l-3.4-2.4z" fill="#5fffa0"/><path d="M430.2 638.7l3.5 2.4l3.3-2.6l-3.4-2.4z" fill="#5dffa2"/><path d="M436.1 638.5l3.5 3l3.3-2.6l-3.4-3z" fill="#63ff9c"/><path d="M445 641.3l3.4 3l3.4-2.6l-3.4-2.9z" fill="#6bff94"/><path d="M397.8 642.6l3.4 2.6l3.4-1.7l-3.4-2.6z" fill="#8aff75"/><path d="M386 643.6l3.4 1.8l3.4-2.4l-3.4-1.8z" fill="#9aff65"/><path d="M391.9 643.1l3.4 1.8l3.4-2.3l-3.4-1.9z" fill="#92ff6d"/><path d="M403.7 643.4l3.4 2.6l3.4-1.8l-3.4-2.5z" fill="#80ff80"/><path d="M415.5 644.7l3.4 2l3.4-3.8l-3.4-2z" fill="#6bff94"/><path d="M421.4 643.2l3.4 2.1l3.4-3.7l-3.4-2.2z" fill="#61ff9e"/><path d="M427.3 641.8l3.4 2.2l3.4-3.4l-3.4-2.4z" fill="#5affa5"/><path d="M439.1 641l3.4 3l3.4-2.6l-3.4-3z" fill="#61ff9e"/><path d="M380.1 644.1l3.4 1.8l3.4-2.4l-3.4-1.8z" fill="#a3ff5c"/><path d="M409.6 644.1l3.4 2.5l3.4-1.9l-3.4-2.5z" fill="#75ff8a"/><path d="M433.2 640.6l3.4 3l3.4-2.6l-3.4-2.9z" fill="#5affa5"/><path d="M448 643.8l3.4 3.2l3.4-2.5l-3.5-3.2z" fill="#6aff95"/><path d="M400.8 644.7l3.4 2.7l3.4-1.8l-3.5-2.6z" fill="#85ff7a"/><path d="M418.5 646.4l3.4 1.9l3.4-3.6l-3.5-2.1z" fill="#63ff9c"/><path d="M424.4 644.9l3.4 2.1l3.4-3.5l-3.5-2.2z" fill="#5affa5"/><path d="M442.1 643.5l3.4 3l3.4-2.6l-3.5-3z" fill="#5fffa0"/><path d="M389 645l3.4 1.8l3.4-2.3l-3.5-1.9z" fill="#96ff69"/><path d="M394.9 644.5l3.4 2.6l3.4-2.3l-3.5-2.6z" fill="#8eff71"/><path d="M406.7 645.5l3.4 2.6l3.4-1.9l-3.5-2.5z" fill="#7aff85"/><path d="M377.2 646.9l3.4 1.7l3.4-3.2l-3.5-1.7z" fill="#a4ff5b"/><path d="M383.1 645.5l3.4 1.8l3.4-2.4l-3.5-1.8z" fill="#9fff60"/><path d="M412.6 646.1l3.4 2.2l3.4-2l-3.5-2.1z" fill="#6fff91"/><path d="M430.3 643.6l3.4 2.9l3.4-3.4l-3.5-2.9z" fill="#54ffab"/><path d="M436.2 643.1l3.4 3l3.4-2.6l-3.5-2.9z" fill="#57ffa8"/><path d="M421.4 648l3.5 1.9l3.3-3.4l-3.4-2.1z" fill="#5bffa4"/><path d="M445 646l3.5 3.1l3.3-2.5l-3.4-3.2z" fill="#5effa1"/><path d="M450.9 646.5l3.5 3.2l3.3-2.5l-3.4-3.2z" fill="#6aff95"/><path d="M403.7 646.9l3.5 2.7l3.3-1.9l-3.4-2.6z" fill="#80ff80"/><path d="M391.9 646.3l3.5 2.7l3.3-2.3l-3.4-2.7z" fill="#91ff6e"/><path d="M374.2 649.6l3.5 1.6l3.3-3.2l-3.4-1.6z" fill="#9fff60"/><path d="M380.1 648.2l3.5 1.7l3.3-3.1l-3.4-1.8z" fill="#9fff60"/><path d="M386 646.9l3.5 1.8l3.3-2.4l-3.4-1.8z" fill="#9aff65"/><path d="M397.8 646.7l3.5 2.6l3.3-2.3l-3.4-2.7z" fill="#88ff77"/><path d="M409.6 647.6l3.5 2.2l3.3-2l-3.4-2.1z" fill="#74ff8b"/><path d="M415.5 647.8l3.5 2.1l3.3-2l-3.4-2.1z" fill="#66ff99"/><path d="M427.3 646.6l3.5 2.7l3.3-3.3l-3.4-2.9z" fill="#53ffac"/><path d="M433.2 646l3.5 2.9l3.3-3.3l-3.4-2.9z" fill="#4fffb0"/><path d="M439.1 645.6l3.5 3l3.3-2.6l-3.4-2.9z" fill="#54ffab"/><path d="M371.3 652.4l3.4 1.4l3.4-3.2l-3.4-1.5z" fill="#9bff64"/><path d="M377.2 650.9l3.4 1.5l3.4-3.1l-3.4-1.6z" fill="#9dff62"/><path d="M383.1 649.5l3.4 1.7l3.4-3.1l-3.4-1.7z" fill="#9bff64"/><path d="M389 648.2l3.4 2.7l3.4-2.3l-3.4-2.7z" fill="#93ff6c"/><path d="M394.9 648.6l3.4 2.7l3.4-2.4l-3.4-2.7z" fill="#8aff75"/><path d="M400.8 648.9l3.4 2.7l3.4-2.4l-3.4-2.7z" fill="#82ff7d"/><path d="M406.7 649.1l3.4 2.3l3.4-2l-3.4-2.2z" fill="#79ff86"/><path d="M412.6 649.4l3.4 2.2l3.4-2.1l-3.4-2.1z" fill="#6bff94"/><path d="M418.5 649.5l3.4 2.1l3.4-2.1l-3.4-2.1z" fill="#5effa2"/><path d="M424.4 649.6l3.4 2.6l3.4-3.4l-3.4-2.7z" fill="#51ffae"/><path d="M430.3 648.9l3.4 2.7l3.4-3.2l-3.4-2.8z" fill="#4bffb4"/><path d="M436.2 648.4l3.4 2.9l3.4-3.2l-3.4-2.9z" fill="#4bffb4"/><path d="M442.1 648.1l3.4 3.1l3.4-2.5l-3.4-3.1z" fill="#52ffad"/><path d="M448 648.6l3.4 3.2l3.4-2.5l-3.4-3.2z" fill="#5effa1"/><path d="M453.9 649.2l3.4 3.2l3.4-2.5l-3.4-3.2z" fill="#6aff95"/><path d="M409.7 650.9l3.4 2.3l3.4-2.1l-3.5-2.2z" fill="#70ff8f"/><path d="M415.6 651.1l3.4 2.2l3.4-2.1l-3.5-2.2z" fill="#63ff9c"/><path d="M427.4 651.8l3.4 2.6l3.4-3.3l-3.5-2.7z" fill="#47ffb8"/><path d="M433.3 651.2l3.4 2.7l3.4-3.1l-3.5-2.8z" fill="#44ffbb"/><path d="M439.2 650.8l3.4 3l3.4-3l-3.5-3.1z" fill="#48ffb7"/><path d="M380.2 652.1l3.4 1.5l3.4-3l-3.5-1.6z" fill="#9aff65"/><path d="M386.1 650.7l3.4 2.7l3.4-2.9l-3.5-2.7z" fill="#95ff6a"/><path d="M397.9 650.8l3.4 2.7l3.4-2.4l-3.5-2.7z" fill="#83ff7c"/><path d="M374.3 653.5l3.4 1.5l3.4-3.1l-3.5-1.6z" fill="#9aff65"/><path d="M392 650.5l3.4 2.7l3.4-2.4l-3.5-2.7z" fill="#8bff74"/><path d="M403.8 651.1l3.4 2.2l3.4-2.4l-3.5-2.2z" fill="#7cff83"/><path d="M421.5 651.1l3.4 2.8l3.4-2.1l-3.5-2.8z" fill="#53ffac"/><path d="M445.1 650.7l3.4 3.1l3.4-2.4l-3.5-3.2z" fill="#52ffad"/><path d="M451 651.3l3.4 3.1l3.4-2.4l-3.5-3.2z" fill="#5effa1"/><path d="M412.6 652.7l3.5 2.3l3.3-2.1l-3.4-2.2z" fill="#68ff97"/><path d="M430.3 654l3.5 2.6l3.3-3.1l-3.4-2.8z" fill="#3cffc3"/><path d="M436.2 653.5l3.5 2.8l3.3-3l-3.4-2.9z" fill="#3effc1"/><path d="M383.1 653.2l3.5 2.6l3.3-2.9l-3.4-2.6z" fill="#96ff69"/><path d="M377.2 654.6l3.5 1.5l3.3-3l-3.4-1.6z" fill="#99ff66"/><path d="M389 652.9l3.5 2.7l3.3-2.9l-3.4-2.7z" fill="#8dff72"/><path d="M394.9 652.7l3.5 2.7l3.3-2.3l-3.4-2.7z" fill="#83ff7c"/><path d="M406.7 652.9l3.5 2.2l3.3-2.4l-3.4-2.2z" fill="#74ff8b"/><path d="M400.8 653.1l3.5 2.2l3.3-2.4l-3.4-2.2z" fill="#7dff82"/><path d="M418.5 652.8l3.5 2.9l3.3-2.2l-3.4-2.8z" fill="#58ffa7"/><path d="M424.4 653.4l3.5 2.8l3.3-2.2l-3.4-2.7z" fill="#47ffb8"/><path d="M442.1 653.3l3.5 2.9l3.3-2.8l-3.4-3.1z" fill="#47ffb8"/><path d="M448 653.3l3.5 3.1l3.3-2.4l-3.4-3.1z" fill="#52ffad"/><path d="M433.3 656.2l3.4 2.6l3.4-3l-3.4-2.8z" fill="#35ffca"/><path d="M409.7 654.7l3.4 2.2l3.4-2.4l-3.4-2.2z" fill="#6cff93"/><path d="M380.2 655.7l3.4 2.6l3.4-3l-3.4-2.6z" fill="#96ff69"/><path d="M386.1 655.4l3.4 2.6l3.4-2.9l-3.4-2.6z" fill="#8fff70"/><path d="M392 655.2l3.4 2.6l3.4-2.8l-3.4-2.7z" fill="#85ff7a"/><path d="M403.8 654.8l3.4 2.3l3.4-2.4l-3.4-2.3z" fill="#77ff88"/><path d="M415.6 654.5l3.4 2.9l3.4-2.1l-3.4-2.9z" fill="#5effa2"/><path d="M421.5 655.2l3.4 2.9l3.4-2.3l-3.4-2.8z" fill="#4dffb3"/><path d="M427.4 655.7l3.4 2.8l3.4-2.3l-3.4-2.7z" fill="#3cffc3"/><path d="M439.2 655.8l3.4 2.8l3.4-2.8l-3.4-2.9z" fill="#3cffc3"/><path d="M397.9 655l3.4 2.2l3.4-2.4l-3.4-2.2z" fill="#7dff82"/><path d="M445.1 655.8l3.4 2.9l3.4-2.7l-3.4-3.1z" fill="#46ffb9"/><path d="M406.8 656.6l3.4 2.3l3.4-2.4l-3.5-2.3z" fill="#71ff8e"/><path d="M418.6 656.9l3.4 3l3.4-2.2l-3.5-2.9z" fill="#52ffad"/><path d="M424.5 657.6l3.4 2.8l3.4-2.3l-3.5-2.8z" fill="#41ffbe"/><path d="M430.4 658l3.4 2.8l3.4-2.4l-3.5-2.7z" fill="#32ffcd"/><path d="M436.3 658.4l3.4 2.6l3.4-2.8l-3.5-2.8z" fill="#31ffce"/><path d="M383.2 657.8l3.4 2.6l3.4-2.9l-3.5-2.6z" fill="#91ff6e"/><path d="M389.1 657.6l3.4 2.6l3.4-2.8l-3.5-2.7z" fill="#88ff77"/><path d="M400.9 656.8l3.4 2.2l3.4-2.4l-3.5-2.2z" fill="#79ff86"/><path d="M395 657.4l3.4 2.1l3.4-2.8l-3.5-2.2z" fill="#80ff80"/><path d="M412.7 656.4l3.4 3l3.4-2.4l-3.5-2.9z" fill="#63ff9c"/><path d="M442.2 658.2l3.4 2.8l3.4-2.7l-3.5-3z" fill="#39ffc6"/><path d="M421.5 659.4l3.5 3l3.3-2.4l-3.4-2.8z" fill="#46ffb9"/><path d="M427.4 660l3.5 2.7l3.3-2.4l-3.4-2.7z" fill="#36ffc9"/><path d="M386.1 660l3.5 2.6l3.3-2.9l-3.4-2.6z" fill="#8bff74"/><path d="M403.8 658.6l3.5 2.2l3.3-2.4l-3.4-2.2z" fill="#75ff8a"/><path d="M397.9 659.1l3.5 2.2l3.3-2.8l-3.4-2.2z" fill="#7cff83"/><path d="M415.6 658.9l3.5 3l3.3-2.4l-3.4-3z" fill="#57ffa8"/><path d="M392 659.8l3.5 2l3.3-2.8l-3.4-2.1z" fill="#83ff7c"/><path d="M409.7 658.4l3.5 2.9l3.3-2.3l-3.4-3z" fill="#68ff97"/><path d="M433.3 660.3l3.5 2.7l3.3-2.4l-3.4-2.7z" fill="#2cffd3"/><path d="M439.2 660.6l3.5 2.6l3.3-2.7l-3.4-2.8z" fill="#2dffd2"/><path d="M424.5 661.9l3.4 2.8l3.4-2.4l-3.4-2.8z" fill="#3affc5"/><path d="M400.9 660.8l3.4 2.2l3.4-2.7l-3.4-2.2z" fill="#79ff86"/><path d="M418.6 661.4l3.4 2.9l3.4-2.4l-3.4-2.9z" fill="#4cffb3"/><path d="M395 661.4l3.4 2.1l3.4-2.7l-3.4-2.2z" fill="#80ff80"/><path d="M412.7 660.9l3.4 2.9l3.4-2.3l-3.4-3z" fill="#5dffa2"/><path d="M430.4 662.3l3.4 2.7l3.4-2.4l-3.4-2.7z" fill="#2dffd2"/><path d="M389.1 662.2l3.4 2l3.4-2.9l-3.4-2z" fill="#86ff79"/><path d="M406.8 660.3l3.4 3l3.4-2.4l-3.4-2.9z" fill="#6eff91"/><path d="M436.3 662.6l3.4 2.7l3.4-2.5l-3.4-2.7z" fill="#25ffda"/><path d="M398 663.1l3.4 2l3.4-2.6l-3.5-2.1z" fill="#7cff83"/><path d="M415.7 663.3l3.4 3l3.4-2.4l-3.5-2.9z" fill="#52ffad"/><path d="M421.6 663.9l3.4 2.8l3.4-2.4l-3.5-2.8z" fill="#3fffc0"/><path d="M427.5 664.2l3.4 2.8l3.4-2.4l-3.5-2.8z" fill="#2dffd2"/><path d="M392.1 663.8l3.4 1.9l3.4-2.7l-3.5-2.1z" fill="#83ff7c"/><path d="M409.8 662.8l3.4 3l3.4-2.4l-3.5-3z" fill="#63ff9c"/><path d="M403.9 662.5l3.4 2.9l3.4-2.5l-3.5-3z" fill="#72ff8d"/><path d="M433.4 664.6l3.4 2.7l3.4-2.4l-3.5-2.8z" fill="#23ffdc"/><path d="M418.6 665.8l3.5 2.8l3.3-2.4l-3.4-2.8z" fill="#45ffba"/><path d="M395 665.3l3.5 2l3.3-2.6l-3.4-2.1z" fill="#80ff80"/><path d="M412.7 665.3l3.5 3l3.3-2.4l-3.4-3z" fill="#59ffa6"/><path d="M400.9 664.7l3.5 2.9l3.3-2.6l-3.4-2.9z" fill="#76ff89"/><path d="M406.8 665l3.5 2.9l3.3-2.5l-3.4-3z" fill="#68ff97"/><path d="M424.5 666.2l3.5 2.8l3.3-2.4l-3.4-2.8z" fill="#30ffcf"/><path d="M430.4 666.6l3.5 2.8l3.3-2.5l-3.4-2.8z" fill="#21ffde"/><path d="M415.7 667.8l3.4 2.8l3.4-2.4l-3.4-2.8z" fill="#4bffb4"/><path d="M403.9 667.1l3.4 2.9l3.4-2.5l-3.4-3z" fill="#6cff93"/><path d="M409.8 667.4l3.4 3l3.4-2.5l-3.4-3z" fill="#5effa1"/><path d="M421.6 668.1l3.4 2.8l3.4-2.3l-3.4-2.8z" fill="#36ffc9"/><path d="M398 666.9l3.4 2.8l3.4-2.6l-3.4-2.9z" fill="#79ff86"/><path d="M427.5 668.5l3.4 2.8l3.4-2.3l-3.4-2.9z" fill="#22ffdd"/><path d="M406.9 669.5l3.4 2.9l3.4-2.5l-3.5-2.9z" fill="#63ff9c"/><path d="M412.8 669.9l3.4 2.7l3.4-2.4l-3.5-2.8z" fill="#51ffae"/><path d="M401 669.2l3.4 2.9l3.4-2.5l-3.5-2.9z" fill="#71ff8e"/><path d="M418.7 670.1l3.4 2.8l3.4-2.4l-3.5-2.8z" fill="#3bffc4"/><path d="M424.6 670.4l3.4 2.8l3.4-2.3l-3.5-2.8z" fill="#26ffd9"/><path d="M409.8 672l3.5 2.5l3.3-2.4l-3.4-2.6z" fill="#56ffa9"/><path d="M403.9 671.6l3.5 2.9l3.3-2.5l-3.4-2.9z" fill="#68ff97"/><path d="M415.7 672.1l3.5 2.7l3.3-2.4l-3.4-2.7z" fill="#40ffbf"/><path d="M421.6 672.4l3.5 2.7l3.3-2.3l-3.4-2.8z" fill="#2affd5"/><path d="M406.9 674l3.4 2.5l3.4-2.4l-3.4-2.6z" fill="#5bffa4"/><path d="M412.8 674.1l3.4 2.6l3.4-2.4l-3.4-2.6z" fill="#45ffba"/><path d="M418.7 674.3l3.4 2.7l3.4-2.3l-3.4-2.7z" fill="#2fffd0"/><path d="M409.9 676.1l3.4 2.4l3.4-2.3l-3.5-2.6z" fill="#4affb5"/><path d="M415.8 676.2l3.4 2.6l3.4-2.3l-3.5-2.6z" fill="#34ffcb"/><path d="M412.8 678.1l3.5 2.5l3.3-2.3l-3.4-2.5z" fill="#39ffc6"/></g><polyline points="371.8,652.3 380.6,644.1" fill="none" stroke="#fff" stroke-width="0.55" stroke-opacity="0.1"/><polyline points="371.8,652.3 380.6,655.7" fill="none" stroke="#fff" stroke-width="0.55" stroke-opacity="0.1"/><polyline points="380.6,644.1 389.4,638.3" fill="none" stroke="#fff" stroke-width="0.55" stroke-opacity="0.1"/><polyline points="380.6,655.7 389.6,662.1" fill="none" stroke="#fff" stroke-width="0.55" stroke-opacity="0.11"/><polyline points="389.4,638.3 398.1,634.9" fill="none" stroke="#fff" stroke-width="0.55" stroke-opacity="0.12"/><polyline points="389.6,662.1 398.4,666.9" fill="none" stroke="#fff" stroke-width="0.55" stroke-opacity="0.13"/><polyline points="398.1,634.9 406.9,623" fill="none" stroke="#fff" stroke-width="0.55" stroke-opacity="0.14"/><polyline points="398.4,666.9 407.4,674" fill="none" stroke="#fff" stroke-width="0.55" stroke-opacity="0.16"/><polyline points="406.9,623 415.8,616.2" fill="none" stroke="#fff" stroke-width="0.55" stroke-opacity="0.14"/><polyline points="407.4,674 416.2,680.1" fill="none" stroke="#fff" stroke-width="0.55" stroke-opacity="0.22"/><polyline points="380.6,655.7 389.4,648.2" fill="none" stroke="#fff" stroke-width="0.55" stroke-opacity="0.1"/><polyline points="380.6,644.1 389.4,648.2" fill="none" stroke="#fff" stroke-width="0.55" stroke-opacity="0.1"/><polyline points="389.4,648.2 398.2,642.6" fill="none" stroke="#fff" stroke-width="0.55" stroke-opacity="0.11"/><polyline points="389.4,648.2 398.4,655" fill="none" stroke="#fff" stroke-width="0.55" stroke-opacity="0.12"/><polyline points="398.2,642.6 407,638.9" fill="none" stroke="#fff" stroke-width="0.55" stroke-opacity="0.13"/><polyline points="398.4,655 407.2,660.3" fill="none" stroke="#fff" stroke-width="0.55" stroke-opacity="0.15"/><polyline points="407,638.9 415.8,628.1" fill="none" stroke="#fff" stroke-width="0.55" stroke-opacity="0.15"/><polyline points="407.2,660.3 416.2,667.9" fill="none" stroke="#fff" stroke-width="0.55" stroke-opacity="0.18"/><polyline points="415.8,628.1 424.6,621.7" fill="none" stroke="#fff" stroke-width="0.55" stroke-opacity="0.15"/><polyline points="416.2,667.9 425.1,674.7" fill="none" stroke="#fff" stroke-width="0.55" stroke-opacity="0.24"/><polyline points="389.6,662.1 398.4,655" fill="none" stroke="#fff" stroke-width="0.55" stroke-opacity="0.13"/><polyline points="389.4,638.3 398.2,642.6" fill="none" stroke="#fff" stroke-width="0.55" stroke-opacity="0.11"/><polyline points="398.4,655 407.2,649.2" fill="none" stroke="#fff" stroke-width="0.55" stroke-opacity="0.14"/><polyline points="398.2,642.6 407.2,649.2" fill="none" stroke="#fff" stroke-width="0.55" stroke-opacity="0.13"/><polyline points="407.2,649.2 415.9,644.6" fill="none" stroke="#fff" stroke-width="0.55" stroke-opacity="0.15"/><polyline points="407.2,649.2 416.1,654.5" fill="none" stroke="#fff" stroke-width="0.55" stroke-opacity="0.16"/><polyline points="415.9,644.6 424.8,634.7" fill="none" stroke="#fff" stroke-width="0.55" stroke-opacity="0.17"/><polyline points="416.1,654.5 425,661.9" fill="none" stroke="#fff" stroke-width="0.55" stroke-opacity="0.21"/><polyline points="424.8,634.7 433.6,628.1" fill="none" stroke="#fff" stroke-width="0.55" stroke-opacity="0.17"/><polyline points="425,661.9 433.9,668.9" fill="none" stroke="#fff" stroke-width="0.55" stroke-opacity="0.27"/><polyline points="398.4,666.9 407.2,660.3" fill="none" stroke="#fff" stroke-width="0.55" stroke-opacity="0.15"/><polyline points="398.1,634.9 407,638.9" fill="none" stroke="#fff" stroke-width="0.55" stroke-opacity="0.14"/><polyline points="407.2,660.3 416.1,654.5" fill="none" stroke="#fff" stroke-width="0.55" stroke-opacity="0.17"/><polyline points="407,638.9 415.9,644.6" fill="none" stroke="#fff" stroke-width="0.55" stroke-opacity="0.15"/><polyline points="416.1,654.5 424.8,649.5" fill="none" stroke="#fff" stroke-width="0.55" stroke-opacity="0.19"/><polyline points="415.9,644.6 424.8,649.5" fill="none" stroke="#fff" stroke-width="0.55" stroke-opacity="0.18"/><polyline points="424.8,649.5 433.6,640.6" fill="none" stroke="#fff" stroke-width="0.55" stroke-opacity="0.2"/><polyline points="424.8,649.5 433.8,656.1" fill="none" stroke="#fff" stroke-width="0.55" stroke-opacity="0.23"/><polyline points="433.6,640.6 442.4,634.2" fill="none" stroke="#fff" stroke-width="0.55" stroke-opacity="0.18"/><polyline points="433.8,656.1 442.6,662.8" fill="none" stroke="#fff" stroke-width="0.55" stroke-opacity="0.27"/><polyline points="407.4,674 416.2,667.9" fill="none" stroke="#fff" stroke-width="0.55" stroke-opacity="0.19"/><polyline points="406.9,623 415.8,628.1" fill="none" stroke="#fff" stroke-width="0.55" stroke-opacity="0.15"/><polyline points="416.2,667.9 425,661.9" fill="none" stroke="#fff" stroke-width="0.55" stroke-opacity="0.22"/><polyline points="415.8,628.1 424.8,634.7" fill="none" stroke="#fff" stroke-width="0.55" stroke-opacity="0.17"/><polyline points="425,661.9 433.8,656.1" fill="none" stroke="#fff" stroke-width="0.55" stroke-opacity="0.25"/><polyline points="424.8,634.7 433.6,640.6" fill="none" stroke="#fff" stroke-width="0.55" stroke-opacity="0.19"/><polyline points="433.8,656.1 442.6,648.2" fill="none" stroke="#fff" stroke-width="0.55" stroke-opacity="0.24"/><polyline points="433.6,640.6 442.6,648.2" fill="none" stroke="#fff" stroke-width="0.55" stroke-opacity="0.21"/><polyline points="442.6,648.2 451.4,641.7" fill="none" stroke="#fff" stroke-width="0.55" stroke-opacity="0.19"/><polyline points="442.6,648.2 451.4,656" fill="none" stroke="#fff" stroke-width="0.55" stroke-opacity="0.22"/><polyline points="416.2,680.1 425.1,674.7" fill="none" stroke="#fff" stroke-width="0.55" stroke-opacity="0.27"/><polyline points="415.8,616.2 424.6,621.7" fill="none" stroke="#fff" stroke-width="0.55" stroke-opacity="0.14"/><polyline points="425.1,674.7 433.9,668.9" fill="none" stroke="#fff" stroke-width="0.55" stroke-opacity="0.29"/><polyline points="424.6,621.7 433.6,628.1" fill="none" stroke="#fff" stroke-width="0.55" stroke-opacity="0.15"/><polyline points="433.9,668.9 442.6,662.8" fill="none" stroke="#fff" stroke-width="0.55" stroke-opacity="0.29"/><polyline points="433.6,628.1 442.4,634.2" fill="none" stroke="#fff" stroke-width="0.55" stroke-opacity="0.16"/><polyline points="442.6,662.8 451.4,656" fill="none" stroke="#fff" stroke-width="0.55" stroke-opacity="0.25"/><polyline points="442.4,634.2 451.4,641.7" fill="none" stroke="#fff" stroke-width="0.55" stroke-opacity="0.16"/><polyline points="451.4,656 460.2,649.9" fill="none" stroke="#fff" stroke-width="0.55" stroke-opacity="0.19"/><polyline points="451.4,641.7 460.2,649.9" fill="none" stroke="#fff" stroke-width="0.55" stroke-opacity="0.16"/><circle cx="371.8" cy="652.3" r="0.75" fill="#222" fill-opacity="0.8"/><circle cx="380.6" cy="644.1" r="0.75" fill="#222" fill-opacity="0.8"/><circle cx="389.4" cy="638.3" r="0.75" fill="#222" fill-opacity="0.8"/><circle cx="398.1" cy="634.9" r="0.75" fill="#222" fill-opacity="0.8"/><circle cx="406.9" cy="623" r="0.75" fill="#222" fill-opacity="0.8"/><circle cx="415.8" cy="616.2" r="0.75" fill="#222" fill-opacity="0.8"/><circle cx="380.6" cy="655.7" r="0.75" fill="#222" fill-opacity="0.8"/><circle cx="389.4" cy="648.2" r="0.75" fill="#222" fill-opacity="0.8"/><circle cx="398.2" cy="642.6" r="0.75" fill="#222" fill-opacity="0.8"/><circle cx="407" cy="638.9" r="0.75" fill="#222" fill-opacity="0.8"/><circle cx="415.8" cy="628.1" r="0.75" fill="#222" fill-opacity="0.8"/><circle cx="424.6" cy="621.7" r="0.75" fill="#222" fill-opacity="0.8"/><circle cx="389.6" cy="662.1" r="0.75" fill="#222" fill-opacity="0.8"/><circle cx="398.4" cy="655" r="0.75" fill="#222" fill-opacity="0.8"/><circle cx="407.2" cy="649.2" r="0.75" fill="#222" fill-opacity="0.8"/><circle cx="415.9" cy="644.6" r="0.75" fill="#222" fill-opacity="0.8"/><circle cx="424.8" cy="634.7" r="0.75" fill="#222" fill-opacity="0.8"/><circle cx="433.6" cy="628.1" r="0.75" fill="#222" fill-opacity="0.8"/><circle cx="398.4" cy="666.9" r="0.75" fill="#222" fill-opacity="0.8"/><circle cx="407.2" cy="660.3" r="0.75" fill="#222" fill-opacity="0.8"/><circle cx="416.1" cy="654.5" r="0.75" fill="#222" fill-opacity="0.8"/><circle cx="424.8" cy="649.5" r="0.75" fill="#222" fill-opacity="0.8"/><circle cx="433.6" cy="640.6" r="0.75" fill="#222" fill-opacity="0.8"/><circle cx="442.4" cy="634.2" r="0.75" fill="#222" fill-opacity="0.8"/><circle cx="407.4" cy="674" r="0.75" fill="#222" fill-opacity="0.8"/><circle cx="416.2" cy="667.9" r="0.75" fill="#222" fill-opacity="0.8"/><circle cx="425" cy="661.9" r="0.75" fill="#222" fill-opacity="0.8"/><circle cx="433.8" cy="656.1" r="0.75" fill="#222" fill-opacity="0.8"/><circle cx="442.6" cy="648.2" r="0.75" fill="#222" fill-opacity="0.8"/><circle cx="451.4" cy="641.7" r="0.75" fill="#222" fill-opacity="0.8"/><circle cx="416.2" cy="680.1" r="0.75" fill="#222" fill-opacity="0.8"/><circle cx="425.1" cy="674.7" r="0.75" fill="#222" fill-opacity="0.8"/><circle cx="433.9" cy="668.9" r="0.75" fill="#222" fill-opacity="0.8"/><circle cx="442.6" cy="662.8" r="0.75" fill="#222" fill-opacity="0.8"/><circle cx="451.4" cy="656" r="0.75" fill="#222" fill-opacity="0.8"/><circle cx="460.2" cy="649.9" r="0.75" fill="#222" fill-opacity="0.8"/><polyline points="371.8,673 416.2,698.5 460.2,673" fill="none" stroke="#8c8c8c" stroke-width="0.55"/><polyline points="371.8,673 371.8,642.4" fill="none" stroke="#8c8c8c" stroke-width="0.55"/></g>
<line x1="369.2" y1="673" x2="371.8" y2="673" stroke="#8c8c8c" stroke-width="0.5"/>
<text x="368.8" y="674.9" text-anchor="end" fill="#222" style="stroke:#222" font-size="4.8">0</text>
<line x1="369.2" y1="666.2" x2="371.8" y2="666.2" stroke="#8c8c8c" stroke-width="0.5"/>
<text x="368.8" y="668.1" text-anchor="end" fill="#222" style="stroke:#222" font-size="4.8">20</text>
<line x1="369.2" y1="659.4" x2="371.8" y2="659.4" stroke="#8c8c8c" stroke-width="0.5"/>
<text x="368.8" y="661.3" text-anchor="end" fill="#222" style="stroke:#222" font-size="4.8">40</text>
<line x1="369.2" y1="652.6" x2="371.8" y2="652.6" stroke="#8c8c8c" stroke-width="0.5"/>
<text x="368.8" y="654.5" text-anchor="end" fill="#222" style="stroke:#222" font-size="4.8">60</text>
<line x1="369.2" y1="645.8" x2="371.8" y2="645.8" stroke="#8c8c8c" stroke-width="0.5"/>
<text x="368.8" y="647.7" text-anchor="end" fill="#222" style="stroke:#222" font-size="4.8">80</text>
<line x1="371.8" y1="673" x2="370.1" y2="674.2" stroke="#8c8c8c" stroke-width="0.5"/>
<text x="364.1" y="680.3" text-anchor="middle" fill="#222" style="stroke:#222" font-size="4.8">0</text>
<line x1="380.6" y1="678.1" x2="379" y2="679.3" stroke="#8c8c8c" stroke-width="0.5"/>
<text x="372.9" y="685.4" text-anchor="middle" fill="#222" style="stroke:#222" font-size="4.8">0.01</text>
<line x1="389.6" y1="683.2" x2="387.9" y2="684.4" stroke="#8c8c8c" stroke-width="0.5"/>
<text x="381.9" y="690.5" text-anchor="middle" fill="#222" style="stroke:#222" font-size="4.8">0.05</text>
<line x1="398.4" y1="688.3" x2="396.8" y2="689.5" stroke="#8c8c8c" stroke-width="0.5"/>
<text x="390.8" y="695.6" text-anchor="middle" fill="#222" style="stroke:#222" font-size="4.8">0.1</text>
<line x1="407.4" y1="693.4" x2="405.8" y2="694.6" stroke="#8c8c8c" stroke-width="0.5"/>
<text x="399.7" y="700.7" text-anchor="middle" fill="#222" style="stroke:#222" font-size="4.8">0.25</text>
<line x1="416.2" y1="698.5" x2="414.6" y2="699.7" stroke="#8c8c8c" stroke-width="0.5"/>
<text x="408.6" y="705.8" text-anchor="middle" fill="#222" style="stroke:#222" font-size="4.8">0.5</text>
<line x1="416.2" y1="698.5" x2="417.9" y2="699.7" stroke="#8c8c8c" stroke-width="0.5"/>
<text x="418.4" y="705.8" fill="#222" style="stroke:#222" font-size="4.8">0.5</text>
<line x1="425.1" y1="693.4" x2="426.7" y2="694.6" stroke="#8c8c8c" stroke-width="0.5"/>
<text x="427.2" y="700.7" fill="#222" style="stroke:#222" font-size="4.8">0.25</text>
<line x1="433.9" y1="688.3" x2="435.5" y2="689.5" stroke="#8c8c8c" stroke-width="0.5"/>
<text x="436.1" y="695.6" fill="#222" style="stroke:#222" font-size="4.8">0.1</text>
<line x1="442.6" y1="683.2" x2="444.2" y2="684.4" stroke="#8c8c8c" stroke-width="0.5"/>
<text x="444.8" y="690.5" fill="#222" style="stroke:#222" font-size="4.8">0.05</text>
<line x1="451.4" y1="678.1" x2="453.1" y2="679.3" stroke="#8c8c8c" stroke-width="0.5"/>
<text x="453.6" y="685.4" fill="#222" style="stroke:#222" font-size="4.8">0.01</text>
<line x1="460.2" y1="673" x2="461.9" y2="674.2" stroke="#8c8c8c" stroke-width="0.5"/>
<text x="462.4" y="680.3" fill="#222" style="stroke:#222" font-size="4.8">0</text>
<text x="372" y="700.6" text-anchor="middle" fill="#222" style="stroke:#222" font-size="6.1">Eto (<tspan font-size="5" font-family="Liberation Serif, serif">μ</tspan>mol/L)</text>
<text x="460.9" y="700.6" text-anchor="middle" fill="#222" style="stroke:#222" font-size="6.1">Enti (<tspan font-size="5" font-family="Liberation Serif, serif">μ</tspan>mol/L)</text>
<text text-anchor="middle" fill="#222" style="stroke:#222" transform="translate(360 651.3) rotate(-90)" font-size="5.3">% Control</text>
<text x="421" y="609.5" text-anchor="middle" font-size="9.7">H1694</text>
<text x="1.2" y="10.8" font-weight="bold" fill="#000" style="stroke:#000" font-size="13.5">A</text>
<text x="1.2" y="183.6" font-weight="bold" fill="#000" style="stroke:#000" font-size="13.5">B</text>
<text x="1.2" y="306.7" font-weight="bold" fill="#000" style="stroke:#000" font-size="13.5">C</text>
<text x="210.6" y="306.6" font-weight="bold" fill="#000" style="stroke:#000" font-size="13.5">D</text>
<text x="0.6" y="505" font-weight="bold" fill="#000" style="stroke:#000" font-size="13.5">E</text>
<text x="162" y="505" font-weight="bold" fill="#000" style="stroke:#000" font-size="13.5">F</text>
</svg>
</body></html>
